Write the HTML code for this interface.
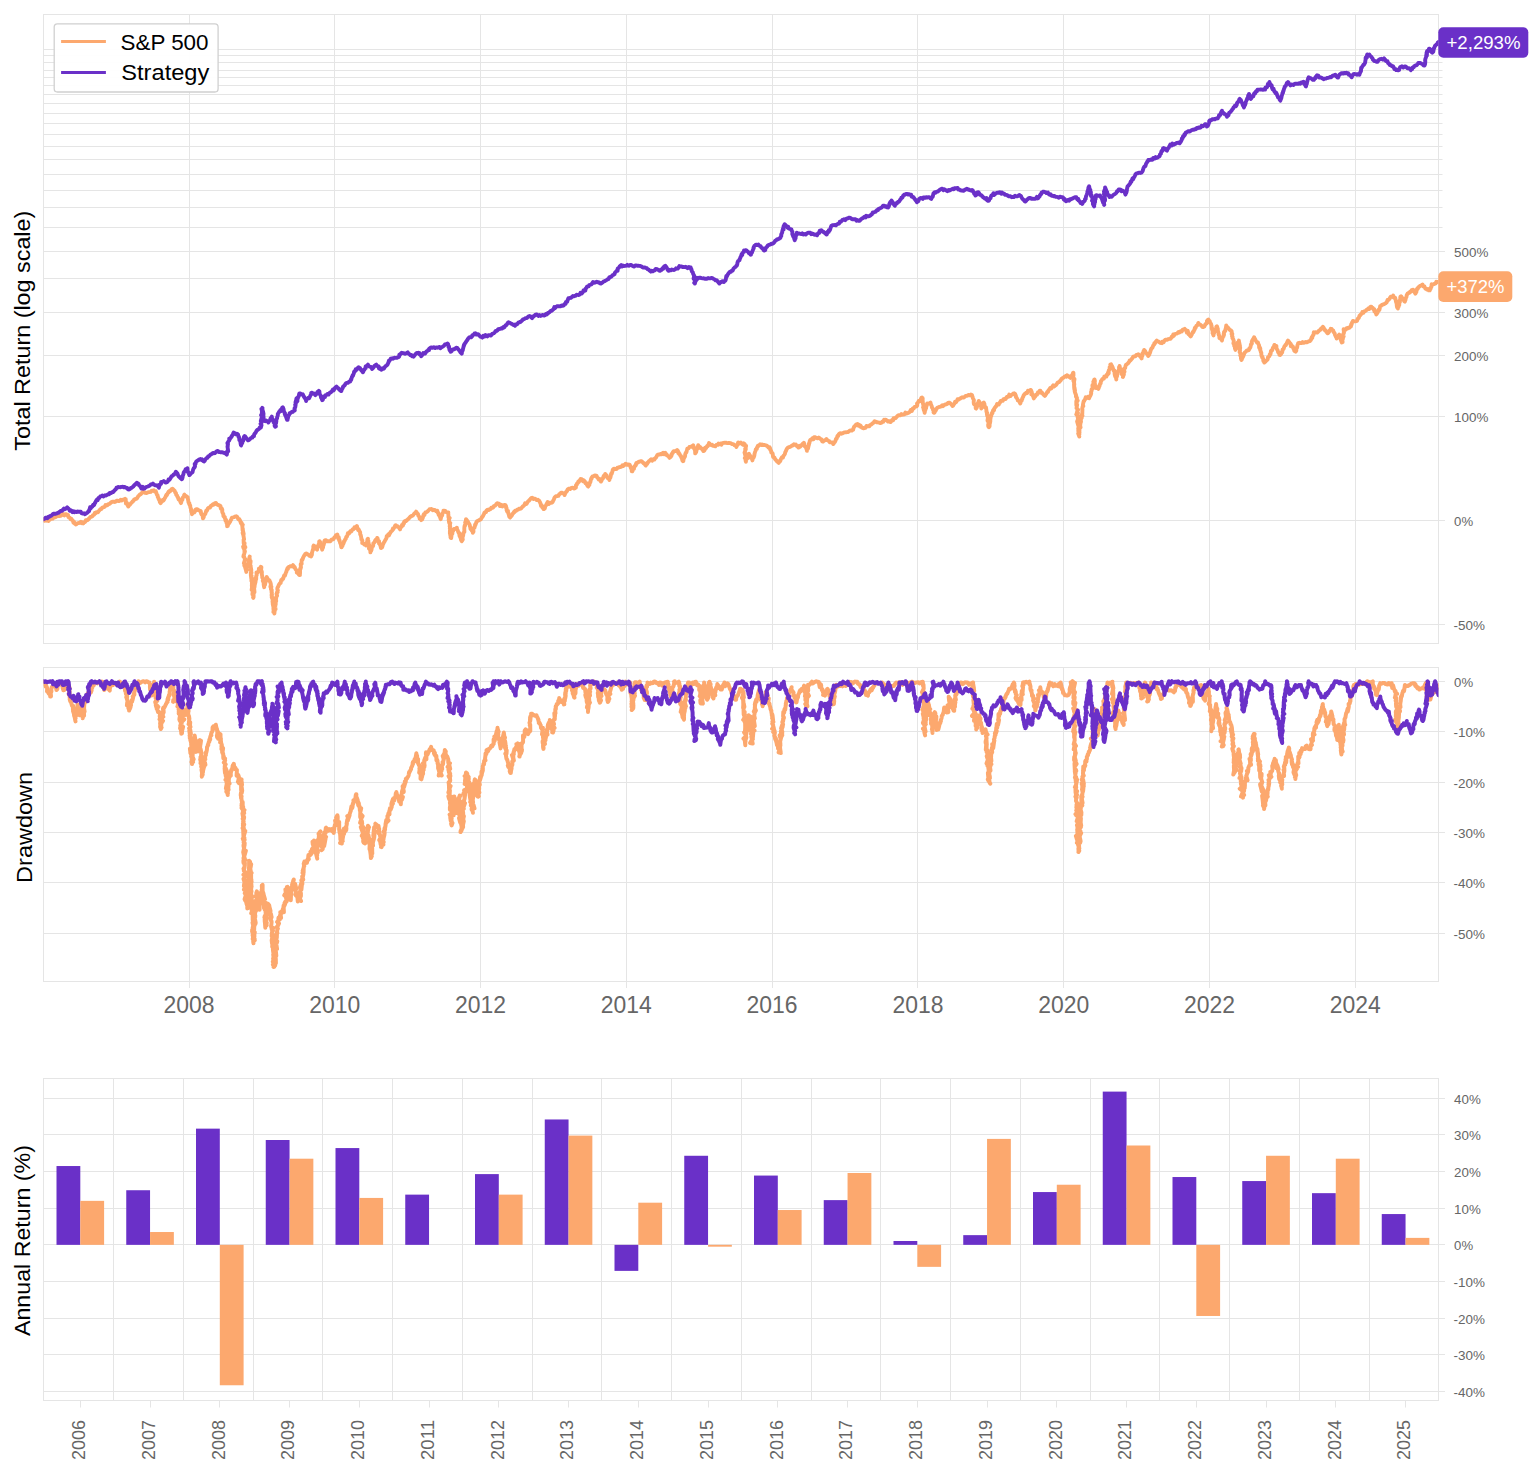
<!DOCTYPE html><html><head><meta charset="utf-8"><style>html,body{margin:0;padding:0;background:#fff;}svg{display:block;}text{font-family:"Liberation Sans", sans-serif;}</style></head><body>
<svg width="1536" height="1472" viewBox="0 0 1536 1472">
<rect width="1536" height="1472" fill="#fff"/>
<defs>
<clipPath id="ct"><rect x="43.5" y="14.5" width="1395.0" height="629.0"/></clipPath>
<clipPath id="cd"><rect x="43.5" y="667.5" width="1395.0" height="314.0"/></clipPath>
</defs>
<line x1="189.5" y1="14.5" x2="189.5" y2="650.0" stroke="#e5e5e5" stroke-width="1"/>
<line x1="334.5" y1="14.5" x2="334.5" y2="650.0" stroke="#e5e5e5" stroke-width="1"/>
<line x1="480.5" y1="14.5" x2="480.5" y2="650.0" stroke="#e5e5e5" stroke-width="1"/>
<line x1="626.5" y1="14.5" x2="626.5" y2="650.0" stroke="#e5e5e5" stroke-width="1"/>
<line x1="772.5" y1="14.5" x2="772.5" y2="650.0" stroke="#e5e5e5" stroke-width="1"/>
<line x1="917.5" y1="14.5" x2="917.5" y2="650.0" stroke="#e5e5e5" stroke-width="1"/>
<line x1="1063.5" y1="14.5" x2="1063.5" y2="650.0" stroke="#e5e5e5" stroke-width="1"/>
<line x1="1209.5" y1="14.5" x2="1209.5" y2="650.0" stroke="#e5e5e5" stroke-width="1"/>
<line x1="1355.5" y1="14.5" x2="1355.5" y2="650.0" stroke="#e5e5e5" stroke-width="1"/>
<line x1="43.5" y1="624.5" x2="1445.0" y2="624.5" stroke="#e5e5e5" stroke-width="1"/>
<line x1="43.5" y1="520.5" x2="1445.0" y2="520.5" stroke="#e5e5e5" stroke-width="1"/>
<line x1="43.5" y1="416.5" x2="1445.0" y2="416.5" stroke="#e5e5e5" stroke-width="1"/>
<line x1="43.5" y1="355.5" x2="1445.0" y2="355.5" stroke="#e5e5e5" stroke-width="1"/>
<line x1="43.5" y1="312.5" x2="1445.0" y2="312.5" stroke="#e5e5e5" stroke-width="1"/>
<line x1="43.5" y1="278.5" x2="1445.0" y2="278.5" stroke="#e5e5e5" stroke-width="1"/>
<line x1="43.5" y1="251.5" x2="1445.0" y2="251.5" stroke="#e5e5e5" stroke-width="1"/>
<line x1="43.5" y1="227.5" x2="1442.5" y2="227.5" stroke="#e5e5e5" stroke-width="1"/>
<line x1="43.5" y1="207.5" x2="1442.5" y2="207.5" stroke="#e5e5e5" stroke-width="1"/>
<line x1="43.5" y1="190.5" x2="1442.5" y2="190.5" stroke="#e5e5e5" stroke-width="1"/>
<line x1="43.5" y1="174.5" x2="1442.5" y2="174.5" stroke="#e5e5e5" stroke-width="1"/>
<line x1="43.5" y1="159.5" x2="1442.5" y2="159.5" stroke="#e5e5e5" stroke-width="1"/>
<line x1="43.5" y1="146.5" x2="1442.5" y2="146.5" stroke="#e5e5e5" stroke-width="1"/>
<line x1="43.5" y1="134.5" x2="1442.5" y2="134.5" stroke="#e5e5e5" stroke-width="1"/>
<line x1="43.5" y1="123.5" x2="1442.5" y2="123.5" stroke="#e5e5e5" stroke-width="1"/>
<line x1="43.5" y1="113.5" x2="1442.5" y2="113.5" stroke="#e5e5e5" stroke-width="1"/>
<line x1="43.5" y1="103.5" x2="1442.5" y2="103.5" stroke="#e5e5e5" stroke-width="1"/>
<line x1="43.5" y1="94.5" x2="1442.5" y2="94.5" stroke="#e5e5e5" stroke-width="1"/>
<line x1="43.5" y1="85.5" x2="1442.5" y2="85.5" stroke="#e5e5e5" stroke-width="1"/>
<line x1="43.5" y1="77.5" x2="1442.5" y2="77.5" stroke="#e5e5e5" stroke-width="1"/>
<line x1="43.5" y1="70.5" x2="1442.5" y2="70.5" stroke="#e5e5e5" stroke-width="1"/>
<line x1="43.5" y1="62.5" x2="1442.5" y2="62.5" stroke="#e5e5e5" stroke-width="1"/>
<line x1="43.5" y1="55.5" x2="1442.5" y2="55.5" stroke="#e5e5e5" stroke-width="1"/>
<line x1="43.5" y1="49.5" x2="1442.5" y2="49.5" stroke="#e5e5e5" stroke-width="1"/>
<rect x="43.5" y="14.5" width="1395.0" height="629.0" fill="none" stroke="#e5e5e5" stroke-width="1"/>
<text x="1454.1" y="256.7" font-size="12.5" fill="#666666" text-anchor="start" textLength="34.3" lengthAdjust="spacingAndGlyphs">500%</text>
<text x="1454.1" y="317.7" font-size="12.5" fill="#666666" text-anchor="start" textLength="34.3" lengthAdjust="spacingAndGlyphs">300%</text>
<text x="1454.1" y="360.9" font-size="12.5" fill="#666666" text-anchor="start" textLength="34.3" lengthAdjust="spacingAndGlyphs">200%</text>
<text x="1454.1" y="421.9" font-size="12.5" fill="#666666" text-anchor="start" textLength="34.3" lengthAdjust="spacingAndGlyphs">100%</text>
<text x="1454.1" y="526.1" font-size="12.5" fill="#666666" text-anchor="start" textLength="19.0" lengthAdjust="spacingAndGlyphs">0%</text>
<text x="1453.6" y="630.3" font-size="12.5" fill="#666666" text-anchor="start" textLength="31.4" lengthAdjust="spacingAndGlyphs">-50%</text>
<polyline points="43.4,519.3 44.3,520.7 45.5,520.1 46.2,520.7 47.3,520.4 48.5,521.0 49.2,519.9 50.1,519.6 51.1,518.8 51.3,518.4 52.7,518.7 53.6,517.6 54.6,517.0 55.5,517.2 56.5,516.4 57.7,515.9 58.4,515.8 59.4,516.1 60.4,515.9 61.4,515.5 62.3,513.6 63.3,514.9 64.2,515.4 65.0,514.3 66.3,514.2 66.7,515.1 68.1,515.0 68.4,517.0 68.9,517.6 69.9,517.8 70.6,519.3 71.3,518.8 72.0,519.7 73.0,520.8 73.4,522.6 74.0,521.8 74.7,523.5 75.7,524.4 76.8,523.9 77.6,523.2 78.6,523.1 79.7,522.7 80.8,521.8 81.5,523.1 82.5,522.3 83.3,523.5 84.0,522.4 85.1,521.9 85.8,520.2 86.7,520.4 87.3,520.2 88.3,519.4 89.2,518.4 89.9,517.7 90.6,516.9 91.9,516.6 92.4,516.2 92.9,515.3 94.1,514.7 94.7,513.1 95.3,513.6 96.0,512.5 97.1,512.2 98.0,512.3 98.6,511.3 99.5,510.3 100.2,509.4 101.4,508.9 102.0,507.9 102.8,507.4 103.8,507.1 104.8,506.7 105.5,505.1 106.7,505.4 107.6,505.1 108.2,504.1 109.3,504.1 110.2,503.3 111.3,502.3 112.4,501.7 113.3,501.6 114.6,502.0 115.5,501.6 116.6,500.8 117.7,500.7 118.7,501.1 119.8,500.6 120.7,499.8 121.9,500.5 122.9,499.7 123.9,499.5 124.9,498.9 125.5,500.5 125.7,499.1 125.9,503.5 126.8,502.8 127.3,503.6 127.2,503.9 127.7,505.4 128.3,506.5 129.1,505.1 129.7,505.0 130.5,503.8 131.0,503.1 131.9,502.5 132.6,501.4 133.5,500.8 134.2,499.5 135.3,499.0 136.3,498.8 136.7,498.7 137.6,497.2 138.4,495.9 139.0,495.6 139.9,494.5 140.6,494.4 141.0,493.8 141.9,492.9 143.0,491.8 144.1,492.4 145.3,492.9 146.5,493.1 147.6,492.5 148.7,492.1 149.5,492.1 150.7,491.9 151.8,490.6 153.0,490.9 153.8,490.4 154.7,491.6 155.8,491.3 156.3,492.9 156.9,494.7 157.4,495.1 157.6,495.2 157.7,496.7 158.3,497.8 158.8,499.5 158.6,498.5 159.4,500.3 159.5,500.7 159.9,502.1 160.6,503.1 161.4,501.9 161.9,501.5 162.7,500.0 163.3,500.6 164.0,499.8 164.8,498.0 165.5,497.1 165.9,495.9 166.5,494.7 166.8,495.3 167.4,493.9 168.5,491.8 168.7,492.4 169.1,491.2 169.9,490.8 170.4,491.1 171.5,489.2 172.5,488.7 173.3,489.4 173.6,490.0 174.6,490.6 175.3,492.6 175.9,492.9 176.2,494.8 176.9,495.4 177.1,495.6 177.6,497.1 178.0,497.4 178.6,499.5 179.1,499.1 179.6,500.2 179.8,500.3 180.7,502.5 181.0,503.1 181.4,501.6 181.2,500.9 181.9,500.1 182.4,499.9 182.5,498.4 182.8,497.5 183.9,496.6 184.2,494.8 184.4,494.6 185.2,496.0 186.1,496.5 186.5,496.3 187.7,497.2 187.6,497.4 188.3,500.8 188.2,500.1 188.5,502.4 189.3,503.2 189.1,503.2 189.2,504.1 190.2,505.6 190.2,506.8 190.3,506.7 190.4,507.5 191.3,509.7 191.0,510.2 191.3,509.9 191.2,511.5 191.8,512.1 192.0,514.2 192.8,513.1 193.4,512.3 194.3,512.4 195.1,511.2 195.3,510.0 196.2,509.1 197.0,509.1 198.3,510.1 199.6,510.6 200.5,510.8 200.8,511.2 201.1,513.5 201.4,514.2 201.7,514.0 202.2,514.3 202.7,516.2 202.7,516.7 203.0,518.4 203.5,517.7 203.8,516.8 204.1,515.0 204.7,514.4 205.3,513.9 205.7,512.5 206.2,510.8 206.5,511.2 207.3,509.9 207.7,508.7 208.1,508.2 209.4,507.4 210.0,507.6 210.8,506.0 211.6,505.6 212.4,504.7 213.3,504.0 213.8,504.6 214.9,503.1 216.0,503.0 216.9,504.5 218.0,504.9 219.2,505.4 220.0,505.7 220.5,506.2 220.6,507.7 220.9,508.8 221.8,508.5 222.3,509.7 222.2,512.0 222.2,511.7 222.7,513.2 223.4,514.2 223.4,516.1 223.5,516.2 224.8,516.9 224.6,517.8 225.3,518.8 225.5,520.7 226.0,519.8 226.7,522.7 226.6,523.2 227.1,523.7 227.1,526.2 227.7,526.0 227.9,525.1 228.6,523.8 228.9,523.5 229.8,522.1 230.2,521.6 230.4,520.6 231.1,519.7 231.6,518.5 231.9,517.6 233.1,517.4 234.1,517.2 234.9,516.7 236.2,516.3 237.0,516.7 237.6,517.8 238.0,518.7 238.6,519.3 239.2,519.1 240.1,520.5 240.3,521.4 241.0,523.2 241.6,522.8 242.1,524.4 242.8,524.7 242.1,525.4 242.3,524.9 242.6,530.3 242.8,528.7 242.9,530.3 243.7,534.0 243.7,534.2 242.6,532.9 243.5,535.5 243.5,535.9 243.8,537.6 243.8,537.9 244.1,539.4 243.6,539.6 243.7,543.3 244.3,545.4 244.6,543.1 243.9,543.2 244.0,544.5 245.3,547.2 243.5,548.0 243.1,546.7 244.7,550.4 244.4,550.7 244.5,552.1 244.4,553.3 244.9,551.5 243.4,556.5 243.7,554.9 244.2,557.1 245.1,559.7 244.2,557.5 244.8,558.3 244.8,558.8 245.2,559.0 243.9,563.2 244.6,563.4 244.9,563.9 244.3,565.7 245.7,566.7 245.1,567.3 245.8,569.6 246.1,569.9 245.9,569.9 246.3,571.9 246.3,570.0 246.5,569.6 247.1,570.0 246.8,568.4 247.4,566.6 247.8,565.9 247.7,564.2 248.7,564.4 248.3,564.3 248.6,561.1 249.3,561.0 248.9,559.5 249.1,559.4 249.6,557.0 249.7,556.6 249.4,557.4 249.7,558.3 249.7,559.4 249.9,561.4 250.6,561.0 250.6,561.6 250.2,564.4 249.8,565.0 250.1,566.1 250.7,565.8 250.7,566.9 251.2,569.3 251.3,570.3 250.8,570.0 251.5,572.7 250.9,573.4 250.8,572.7 250.9,576.3 251.6,575.7 251.1,577.5 251.6,580.4 251.9,579.4 252.0,579.7 251.4,580.9 252.0,581.0 251.9,583.2 251.9,583.6 252.6,586.1 252.3,585.9 251.8,585.0 252.0,587.4 251.6,590.0 252.8,590.8 252.4,593.9 253.3,592.8 252.4,594.4 252.4,593.9 253.2,595.4 253.3,598.0 253.1,597.4 253.6,597.2 253.6,594.7 253.5,595.3 253.7,592.6 254.0,592.6 253.9,589.9 254.5,592.2 254.2,589.3 254.1,588.2 254.5,587.1 254.7,585.4 254.4,585.7 254.5,584.1 255.2,583.5 255.3,582.1 255.6,582.0 255.4,579.4 255.1,578.3 256.1,579.4 256.2,578.7 256.2,576.1 256.7,575.1 256.5,572.5 256.5,573.6 257.2,572.4 257.5,572.6 258.3,571.8 259.0,569.3 258.9,568.7 259.6,569.0 260.2,567.8 260.8,566.8 261.4,567.0 261.1,570.1 261.3,571.1 261.4,571.1 261.5,570.8 261.9,572.1 261.8,574.1 262.2,576.0 262.2,577.5 262.3,576.7 262.6,578.2 263.3,579.1 262.8,580.7 263.1,581.4 263.3,581.8 263.7,583.2 263.7,585.0 263.8,584.5 263.9,586.0 264.2,587.2 264.4,585.3 265.0,583.9 265.1,584.6 265.2,582.5 265.4,583.0 265.7,580.3 266.2,578.5 265.9,579.3 266.7,578.5 266.7,577.0 267.4,578.2 267.9,579.5 268.4,580.3 268.9,580.0 269.6,580.7 270.1,582.1 270.4,582.5 270.9,584.4 270.4,586.7 270.6,586.0 271.4,586.6 270.9,589.3 270.9,587.9 271.7,590.2 271.8,590.1 271.6,590.9 271.5,592.2 271.9,592.1 271.6,595.3 272.0,594.4 271.7,597.3 272.3,598.7 272.2,598.3 272.8,598.1 272.6,602.2 272.5,601.2 272.7,603.1 272.8,604.6 273.6,606.2 273.1,605.9 273.5,604.8 273.4,608.8 273.6,610.4 274.2,609.4 273.4,611.9 273.8,611.9 274.4,613.5 274.5,612.3 274.7,611.0 274.6,611.3 274.6,608.3 275.6,609.2 275.3,607.3 275.1,605.7 275.2,606.3 275.6,604.5 275.7,604.4 275.7,602.3 276.2,600.9 275.5,602.3 275.9,600.3 276.2,597.7 276.3,596.9 277.1,595.7 276.5,593.9 276.9,593.5 277.0,592.1 277.7,592.3 277.2,591.8 277.9,590.3 277.3,589.1 277.5,587.6 277.8,587.2 278.1,586.8 278.8,585.0 279.4,583.9 279.9,583.3 280.7,582.9 280.7,582.7 281.2,580.0 282.0,580.1 282.4,578.9 283.1,578.9 283.6,577.2 284.2,575.4 284.5,575.3 285.0,575.5 285.7,573.2 286.0,572.2 286.4,571.9 286.5,571.0 287.5,568.2 287.9,569.0 288.3,567.5 288.8,566.8 289.7,566.6 290.8,566.1 292.0,566.5 293.0,565.1 293.8,566.1 294.3,567.3 294.8,567.3 295.3,569.0 295.8,569.4 296.4,570.2 297.0,571.5 296.8,572.6 297.4,572.8 298.2,573.6 299.3,575.1 300.0,575.1 299.7,573.5 300.1,573.2 300.0,569.2 300.0,572.0 300.2,568.4 300.4,569.3 301.0,567.3 300.8,566.1 300.7,564.1 300.8,564.8 301.7,563.8 301.5,563.1 301.7,560.2 301.8,559.9 302.5,559.6 303.0,558.2 303.2,557.4 304.4,555.3 304.8,555.2 305.2,553.9 306.2,553.4 307.5,554.3 308.6,554.8 309.4,555.9 310.2,556.0 311.2,556.5 311.5,555.3 311.9,554.8 312.0,552.6 311.9,552.8 312.1,552.4 312.7,550.2 312.7,550.5 313.1,549.5 313.4,546.9 313.3,546.5 313.7,545.5 314.6,546.3 315.0,547.4 315.5,548.4 316.6,549.2 317.1,549.7 317.2,547.9 317.7,547.0 318.0,546.1 318.4,544.8 318.8,544.8 319.2,543.0 319.2,541.3 319.6,541.2 320.2,542.3 320.4,543.1 321.0,545.5 320.7,546.6 321.3,546.7 321.6,548.0 321.9,548.6 322.2,549.7 322.6,547.8 322.6,547.9 323.0,547.8 323.4,545.2 323.7,544.8 324.0,543.5 324.4,542.6 324.2,541.7 324.7,540.4 326.0,540.1 326.8,541.2 328.2,541.2 329.3,541.2 330.6,541.2 331.3,539.9 332.1,539.3 332.9,539.1 333.5,539.2 334.4,537.3 335.0,537.1 335.9,535.3 336.7,535.4 337.4,534.5 337.4,535.9 338.0,537.1 338.3,538.7 338.7,537.1 339.1,539.5 339.2,540.5 339.6,540.3 339.9,542.1 340.3,543.3 340.5,543.0 340.9,544.7 341.3,547.2 341.6,547.2 341.6,546.6 342.4,546.1 342.7,544.8 343.5,543.5 343.8,542.6 344.0,541.3 344.6,541.0 344.9,540.0 345.6,538.8 345.8,538.9 346.3,536.8 346.8,536.8 347.1,536.0 347.6,534.5 347.9,533.3 349.0,533.5 349.8,532.0 350.6,531.0 351.4,531.4 352.2,529.9 352.6,529.4 353.7,529.1 354.5,527.2 355.1,528.0 356.0,527.2 356.9,526.0 357.3,527.8 357.6,528.0 358.2,530.1 358.6,529.3 359.3,530.9 360.1,532.1 360.2,532.8 360.2,534.5 360.7,534.9 361.0,536.4 361.3,537.8 361.3,539.2 362.0,539.7 361.7,539.4 362.4,540.5 362.2,543.1 362.8,542.9 363.4,543.4 364.5,544.6 365.5,544.9 366.2,545.5 366.8,544.6 366.6,543.0 367.0,542.1 367.2,541.8 367.4,539.5 367.9,538.7 367.5,539.2 368.4,540.9 368.3,542.0 368.8,543.6 369.0,544.1 369.1,544.9 368.9,546.4 369.2,546.7 368.9,548.4 369.8,549.4 370.1,550.0 370.3,550.1 370.4,552.3 370.7,550.8 371.1,551.0 371.5,549.8 371.8,547.9 372.2,546.2 373.0,546.1 373.2,545.5 373.3,543.4 373.8,542.9 374.5,542.3 375.1,540.7 375.5,540.1 376.2,539.3 376.8,539.2 377.2,537.9 377.6,538.3 377.9,541.0 378.4,540.9 379.1,541.3 379.0,543.4 379.9,543.7 379.9,544.6 380.4,545.8 380.5,545.5 380.9,548.0 381.4,548.0 381.7,547.1 382.1,547.3 382.7,545.4 383.0,544.2 383.7,543.0 383.8,542.6 384.5,541.6 385.0,540.6 385.5,539.7 386.0,539.1 386.5,537.9 386.7,536.1 387.8,535.4 388.2,534.5 389.0,535.4 389.7,533.5 390.2,533.1 390.6,532.0 391.6,531.1 392.3,530.4 392.9,528.5 392.9,529.6 394.2,527.6 394.5,527.2 395.1,525.7 395.8,525.2 396.5,526.4 397.5,526.1 398.6,527.3 399.2,528.0 400.0,529.4 400.3,528.3 400.8,527.2 401.5,526.8 402.0,525.0 402.9,525.5 403.4,523.2 404.1,523.2 404.1,521.9 405.1,520.9 405.9,521.1 406.6,520.3 407.9,519.4 408.3,519.0 409.6,517.6 410.3,516.7 410.8,516.4 411.9,515.9 412.9,515.5 413.6,514.5 414.1,513.8 415.6,512.5 416.1,511.6 416.9,512.8 417.3,513.4 417.9,513.8 418.3,515.5 418.9,516.3 419.6,517.4 419.6,518.8 420.8,519.3 421.2,520.1 421.7,518.5 422.1,519.5 422.8,517.8 423.3,515.5 423.8,514.3 424.5,514.9 424.8,513.6 425.4,512.5 426.5,512.2 427.3,511.7 428.0,511.0 429.1,509.8 429.5,509.1 430.5,509.1 431.5,509.0 432.7,510.3 433.8,509.8 435.2,510.2 436.1,511.2 437.3,510.8 437.8,512.7 438.3,512.9 438.5,513.7 438.5,514.6 438.9,514.7 439.4,515.9 440.1,517.0 440.4,518.3 440.7,519.2 440.8,518.5 441.1,517.2 441.9,515.4 442.2,515.5 442.2,515.1 442.4,513.5 443.4,512.1 443.4,510.8 444.0,510.8 445.4,511.0 446.1,512.0 447.2,512.3 448.3,512.5 448.2,513.0 448.4,514.9 448.4,516.3 448.5,517.4 449.1,518.8 449.7,517.8 448.7,519.9 449.1,519.3 448.9,521.7 449.1,521.5 449.1,522.5 449.6,523.7 450.3,523.0 449.7,526.2 450.2,526.3 449.8,528.5 450.2,528.8 449.9,531.2 449.9,533.4 450.4,534.0 450.3,532.4 450.3,535.4 450.6,535.9 450.5,537.3 450.8,537.9 451.2,538.0 451.4,536.7 451.5,534.8 452.4,533.6 452.2,532.8 452.8,531.2 453.5,530.3 453.3,529.4 454.5,528.9 455.9,528.6 456.7,527.7 456.9,527.7 457.0,529.2 457.8,530.5 458.3,532.1 458.7,532.9 459.5,533.2 459.3,534.5 459.6,536.3 460.1,535.9 460.5,538.0 460.9,538.8 460.9,539.6 461.1,540.0 461.8,541.2 461.9,540.9 462.8,539.4 462.4,537.6 462.1,536.6 462.7,537.0 463.2,535.2 463.3,534.1 463.2,534.2 463.6,532.6 464.4,532.0 464.3,529.5 464.3,529.3 464.3,528.5 464.5,526.3 465.1,525.6 464.7,525.6 465.4,524.0 465.3,522.2 465.2,522.4 465.5,522.0 465.9,521.0 466.0,519.2 466.6,519.8 467.0,521.5 467.7,521.3 468.4,522.9 468.6,523.0 469.4,524.3 469.8,525.2 469.9,526.4 470.3,526.8 470.5,529.0 471.2,528.5 471.6,528.9 471.7,530.4 472.7,531.6 472.8,532.8 473.4,531.8 473.5,531.5 473.3,529.5 474.2,527.5 474.5,527.7 474.8,526.1 475.4,525.0 475.1,524.7 476.1,523.3 476.2,522.6 476.9,521.4 477.8,520.7 478.7,520.6 479.5,519.9 480.7,519.4 481.3,518.4 481.9,517.1 482.4,516.9 483.1,515.8 483.4,514.9 484.2,513.8 484.3,513.0 485.1,512.2 486.0,512.1 486.4,510.8 487.5,509.8 488.5,510.0 489.4,509.1 490.5,509.2 491.2,507.8 492.1,507.9 493.1,507.4 493.9,506.1 495.2,505.7 495.8,504.9 496.5,503.8 497.4,503.2 498.2,503.7 499.0,503.6 499.9,506.1 501.1,504.8 501.6,506.2 502.4,506.5 503.2,505.3 504.1,505.3 505.0,504.9 505.5,505.2 506.0,506.0 506.1,507.8 506.6,507.9 506.6,510.0 507.3,511.7 508.0,510.8 507.9,512.1 508.3,512.8 508.7,514.5 509.1,515.7 509.2,516.5 510.1,517.6 510.7,516.4 511.3,516.2 512.0,515.1 512.7,513.7 513.1,513.5 514.1,511.8 514.5,512.2 515.1,510.8 516.3,510.8 517.2,509.7 518.1,509.6 518.9,508.8 520.0,508.7 521.0,508.6 521.9,507.4 522.5,506.7 523.6,505.9 524.3,505.2 525.1,503.2 526.4,503.9 527.0,503.2 527.8,501.7 528.6,500.8 529.1,500.5 529.7,499.9 530.7,498.6 531.2,498.1 532.2,497.7 533.6,499.0 534.5,498.6 536.0,499.2 536.8,500.1 538.0,499.8 538.5,500.3 539.1,500.5 539.8,502.1 540.2,502.7 540.6,503.7 541.0,505.8 541.8,505.6 542.3,507.5 542.9,507.2 543.5,509.1 543.9,509.1 544.8,508.5 545.1,506.8 545.6,505.9 545.9,505.7 546.3,504.6 546.8,503.6 547.6,502.0 548.8,504.0 549.8,502.7 550.8,502.9 551.8,502.6 552.7,501.9 553.2,500.5 553.5,500.4 554.1,498.9 554.4,497.7 555.2,496.8 556.1,496.2 557.1,496.1 558.3,495.9 559.4,494.0 560.1,493.8 561.0,492.6 562.0,492.6 562.6,493.1 563.9,493.7 564.5,495.1 565.1,493.8 565.6,492.7 566.2,491.8 567.0,491.1 567.3,490.1 567.9,489.2 569.1,488.6 570.1,489.1 571.3,487.9 572.7,487.7 573.8,488.5 574.7,488.3 575.4,487.3 575.9,487.5 576.0,485.2 576.9,484.6 577.0,483.4 577.9,482.9 578.4,481.4 578.8,481.9 579.5,480.7 580.1,479.9 580.6,479.0 581.7,479.1 582.8,481.2 583.7,480.2 584.9,481.6 585.4,483.3 585.7,483.2 586.5,483.2 587.0,485.0 587.6,485.9 588.2,486.6 588.5,484.4 589.4,485.0 589.4,482.9 589.8,483.1 590.4,482.0 590.4,481.7 590.9,479.6 591.3,478.3 591.6,478.7 591.9,477.2 592.5,476.5 593.7,476.2 594.9,475.4 595.9,475.6 596.6,475.9 597.1,477.4 597.8,477.9 598.7,479.5 599.6,479.0 600.5,480.5 600.9,481.6 601.6,480.5 601.9,479.0 602.7,478.6 603.0,478.4 603.4,476.7 604.1,475.4 605.0,475.4 605.2,473.9 605.6,474.6 606.5,475.1 607.1,477.2 607.6,478.1 608.2,477.9 608.7,478.3 609.4,479.9 609.3,478.4 610.2,477.8 610.4,477.6 610.6,476.5 610.9,475.5 611.1,473.6 611.7,473.8 612.1,472.4 612.6,470.8 612.8,469.7 613.8,468.8 614.5,468.8 615.7,469.1 616.7,468.8 617.5,467.7 618.5,467.5 619.6,467.2 620.4,467.0 621.5,466.7 622.4,465.4 623.2,466.0 624.7,464.7 625.5,463.8 626.8,464.5 627.3,464.9 628.5,464.5 629.7,464.6 630.0,465.5 630.6,467.2 630.6,467.5 631.2,468.7 631.7,469.2 631.7,471.2 632.3,471.4 632.5,471.2 632.9,469.2 634.0,468.8 634.0,466.9 634.6,466.1 634.8,466.3 635.9,465.2 636.0,463.7 636.5,462.9 637.2,462.8 638.6,461.8 639.6,461.9 640.5,461.1 641.6,461.2 642.2,461.7 643.5,463.2 644.2,463.3 645.2,464.9 645.8,465.5 646.2,464.2 647.1,464.0 647.8,462.3 648.6,462.0 648.9,461.1 650.0,460.4 651.1,459.2 652.2,460.6 653.3,459.2 654.3,459.6 655.2,458.2 655.8,458.0 656.5,456.6 657.3,455.1 657.8,454.7 658.5,454.5 659.8,454.6 660.5,454.0 661.8,454.2 663.2,452.7 664.1,454.3 665.3,452.8 666.1,454.2 666.8,454.7 667.0,455.5 668.0,455.8 668.8,456.6 669.5,457.9 670.2,456.9 670.6,457.1 671.6,455.4 671.6,454.0 672.8,453.0 672.8,452.4 673.7,451.1 674.8,451.2 676.0,450.9 677.1,450.0 678.0,451.1 678.3,453.1 678.6,452.4 679.2,454.1 679.4,453.6 680.5,456.0 681.0,455.9 681.2,457.3 681.9,457.9 682.1,459.3 682.4,460.5 683.0,461.2 683.4,461.1 683.4,458.9 684.0,458.4 684.1,457.2 684.7,457.2 685.1,456.0 685.2,454.3 685.8,452.6 686.3,452.3 686.4,452.4 686.8,450.6 686.9,450.6 687.3,448.6 688.5,448.3 689.4,447.0 690.3,446.8 691.2,446.8 692.5,446.0 693.2,445.2 693.6,446.6 693.9,447.2 694.1,448.8 694.4,448.8 694.8,449.8 695.1,450.9 695.2,453.3 695.7,452.8 696.2,452.0 696.4,450.9 696.7,449.2 696.8,449.5 697.5,448.3 697.7,447.2 698.2,445.2 698.3,445.2 699.2,447.2 699.2,447.8 700.4,447.3 701.1,448.6 701.8,448.4 702.6,449.4 703.3,451.1 704.3,450.7 704.8,449.7 705.1,447.6 706.1,448.0 706.5,446.9 707.4,445.8 707.9,446.1 709.0,443.1 709.3,443.5 710.2,444.3 711.4,445.2 712.2,444.8 713.3,445.9 714.3,446.0 715.3,446.3 716.2,445.0 717.7,444.9 718.5,443.6 719.4,444.3 720.4,443.5 721.4,444.7 722.4,443.2 724.0,442.8 725.2,442.9 726.2,442.6 727.1,443.1 728.3,443.0 728.9,442.9 730.3,443.1 731.3,443.5 731.8,444.1 733.1,444.1 734.0,444.7 734.3,445.1 735.9,445.7 736.4,446.9 736.9,445.3 737.5,445.0 738.1,442.5 738.9,442.6 739.6,443.4 740.8,442.5 741.7,443.5 742.8,444.6 743.8,443.4 744.8,444.3 744.8,445.6 746.1,445.9 745.2,449.9 745.4,448.2 745.2,450.9 745.8,449.1 744.5,452.6 745.8,453.9 745.1,454.9 745.0,454.5 746.1,455.3 744.8,458.0 746.2,458.8 745.9,461.7 745.4,458.8 745.7,461.2 745.9,459.9 746.5,458.6 746.8,458.5 747.3,458.5 748.2,457.0 748.6,455.4 749.0,454.9 749.0,453.6 749.3,455.1 749.7,455.2 750.4,456.2 750.6,457.7 751.4,457.4 752.1,459.0 752.4,460.4 752.6,459.2 752.7,458.7 753.6,457.6 753.5,457.0 754.1,456.5 754.5,454.7 754.4,454.3 754.9,452.4 755.3,451.4 755.5,450.8 755.8,449.4 756.8,449.0 756.9,447.9 757.9,445.8 758.6,445.9 759.3,445.2 760.1,444.3 761.1,445.1 762.0,444.4 763.0,445.1 764.1,444.9 765.1,445.2 765.7,445.3 766.6,445.6 767.6,446.3 768.4,447.6 769.6,447.3 770.2,448.6 770.1,449.4 770.7,450.3 771.2,451.1 771.3,452.5 772.3,453.3 772.6,453.3 772.9,455.4 773.1,457.0 773.6,457.0 774.4,457.6 775.0,459.0 775.7,459.7 776.4,460.6 777.1,461.4 777.6,461.8 778.7,462.9 779.2,461.7 779.8,460.8 780.3,461.0 780.9,459.1 781.7,457.6 782.1,457.9 782.3,457.7 782.9,457.6 783.6,455.5 784.3,455.0 784.9,453.8 785.2,452.4 786.0,450.8 786.2,450.4 786.5,449.6 787.1,448.6 788.0,447.5 788.9,447.2 790.1,446.8 790.9,446.3 792.2,445.5 792.9,445.4 793.9,444.3 795.0,444.8 795.8,444.5 796.5,445.7 797.7,446.7 798.5,447.5 799.4,445.9 800.0,446.8 801.4,445.6 802.0,444.5 802.7,443.7 803.5,443.3 803.9,442.8 804.8,446.3 804.9,445.7 805.2,446.8 806.0,447.5 806.4,448.7 806.8,449.7 806.9,450.9 806.9,449.7 807.6,448.4 808.0,448.5 808.5,446.2 808.5,446.1 809.0,444.5 808.8,443.8 809.5,442.9 809.6,441.7 809.7,441.1 810.3,439.9 811.2,439.8 812.4,438.2 813.6,439.1 814.2,437.2 815.4,437.3 816.5,438.0 817.5,438.3 818.7,437.5 819.5,438.1 820.5,439.0 821.4,439.4 822.3,441.4 823.0,441.6 823.9,440.6 824.7,440.3 825.4,440.1 826.4,439.0 827.1,440.0 828.2,440.7 829.1,441.1 829.8,442.3 830.4,442.4 831.7,442.4 832.6,442.5 833.2,444.1 833.6,443.7 834.1,442.4 834.7,442.1 835.3,441.2 836.0,438.9 836.5,438.9 836.8,438.3 837.5,435.9 838.1,436.0 838.7,434.4 839.1,433.9 840.3,433.1 841.4,433.7 842.2,433.4 843.6,432.7 844.7,432.4 845.9,432.3 847.0,432.1 847.8,432.1 848.9,431.3 850.0,430.4 850.9,430.6 851.8,430.6 852.5,429.9 853.2,429.6 853.4,428.4 854.1,426.7 854.7,426.2 855.7,425.0 856.0,424.6 857.4,424.1 857.9,425.4 858.9,424.8 859.9,426.4 860.6,425.6 861.7,427.6 862.7,427.9 863.5,428.3 864.5,428.0 865.5,427.9 866.5,426.0 867.4,426.2 868.1,426.1 869.3,426.3 869.9,425.2 871.2,424.6 872.1,423.8 872.7,423.2 873.5,422.8 874.6,421.2 875.9,421.8 876.7,422.2 877.7,422.3 879.2,422.7 880.3,423.0 881.4,422.9 882.5,421.4 883.3,421.7 884.1,419.8 884.6,420.0 885.6,419.6 886.7,420.4 888.0,421.6 888.8,421.0 889.7,421.9 890.7,422.1 891.4,420.9 892.1,420.0 893.2,420.3 893.5,418.2 894.6,418.4 895.6,418.2 895.9,417.5 896.4,417.2 897.6,415.8 898.3,415.3 899.3,415.4 900.4,415.3 901.4,414.1 902.5,414.7 903.5,414.5 904.6,414.3 905.4,412.5 906.3,413.6 907.3,413.2 908.5,412.8 909.1,412.3 909.9,411.8 910.7,410.0 911.9,411.0 912.7,408.5 913.7,408.4 914.4,407.2 915.3,406.9 915.9,406.5 917.0,406.1 917.3,405.0 917.0,403.6 918.0,402.5 918.7,401.0 919.4,401.3 920.1,400.8 920.9,398.9 921.3,397.9 922.0,397.6 922.5,398.2 922.7,398.2 922.6,400.8 922.7,400.6 922.9,403.5 923.2,404.0 923.2,404.7 923.7,405.9 923.1,407.3 923.7,406.7 923.6,409.1 923.8,409.9 924.7,412.1 924.8,412.0 924.6,412.8 924.6,411.4 925.2,410.6 925.5,409.4 925.6,407.9 926.1,408.2 926.3,406.1 926.5,406.1 926.9,404.7 927.1,403.5 928.3,403.6 929.4,403.4 930.5,402.6 930.8,404.1 930.9,404.4 931.7,406.0 931.9,407.4 932.3,408.0 932.6,408.1 933.0,409.9 933.8,410.4 933.5,412.3 933.9,412.8 934.5,412.6 934.9,411.4 935.6,410.8 936.2,409.4 936.9,408.4 937.3,407.7 938.4,407.2 939.0,406.9 940.2,406.8 941.1,406.4 942.3,405.3 943.0,406.1 944.0,405.2 944.8,404.7 945.9,404.3 947.3,403.8 948.0,402.9 949.1,402.6 949.9,403.0 950.9,403.9 951.8,404.8 952.5,406.0 953.1,405.6 953.8,404.3 954.7,403.2 955.0,401.8 955.5,402.5 956.2,401.9 957.2,400.3 957.6,399.2 958.6,399.5 959.3,399.1 960.3,398.6 961.2,397.8 962.3,397.3 963.4,397.5 964.3,397.3 965.4,396.1 966.0,395.9 967.2,395.8 968.3,394.9 969.6,395.3 970.8,394.5 972.0,395.0 972.2,395.7 972.5,396.9 973.0,398.4 973.1,398.5 973.9,400.1 973.7,401.5 973.7,402.2 973.9,404.1 974.5,404.3 974.9,404.5 975.6,405.7 975.7,408.3 976.2,408.6 976.9,406.6 976.8,407.7 977.1,406.1 977.4,404.6 978.1,402.6 978.2,403.2 978.5,402.1 978.7,400.9 979.6,402.1 979.2,402.3 979.4,404.1 980.0,405.3 980.2,404.4 981.1,406.1 981.1,407.1 981.3,408.6 981.8,407.3 982.4,406.0 982.3,406.0 983.1,405.3 983.2,403.1 983.8,402.6 984.2,403.6 984.5,404.2 984.4,406.2 985.3,407.7 985.6,407.1 986.0,407.5 986.5,411.0 986.4,411.3 986.8,412.9 987.2,412.8 986.9,413.3 987.0,414.6 987.3,416.0 987.8,416.2 987.8,419.4 987.8,418.4 987.5,420.6 987.7,421.1 988.8,421.6 988.8,423.0 988.2,424.5 988.2,426.3 988.9,425.2 988.9,427.2 989.4,426.0 989.6,426.3 989.6,424.0 989.9,423.4 990.3,421.4 990.3,420.6 990.4,418.9 990.6,418.0 990.6,415.6 991.3,415.9 991.4,414.5 991.4,414.5 992.1,412.7 992.4,413.4 992.8,411.6 993.1,410.3 994.1,410.2 993.9,409.2 994.8,407.7 995.6,406.7 996.3,406.2 997.1,404.0 998.0,404.3 998.8,404.5 999.4,402.9 999.8,402.8 1000.7,401.0 1001.6,400.9 1002.8,400.8 1003.4,399.1 1004.7,398.9 1005.6,399.0 1006.5,397.3 1007.4,396.6 1008.4,396.7 1009.2,394.6 1010.5,396.0 1011.0,395.0 1012.4,394.6 1013.1,393.7 1014.3,393.3 1015.1,393.8 1015.4,394.8 1015.9,395.7 1015.9,397.0 1016.7,397.8 1017.8,400.0 1017.8,400.5 1018.5,400.7 1019.3,401.4 1019.6,402.2 1020.2,403.5 1020.5,403.0 1020.6,401.4 1021.6,400.7 1021.9,399.5 1022.3,399.0 1022.4,398.1 1023.3,396.5 1023.5,395.6 1024.2,394.8 1024.4,394.2 1025.6,393.5 1026.1,392.7 1027.1,393.0 1027.9,390.8 1028.4,391.0 1029.8,390.5 1030.4,389.9 1030.8,389.9 1031.7,391.8 1031.3,394.4 1032.0,393.4 1032.4,393.7 1032.6,395.5 1033.5,396.8 1033.4,397.2 1033.8,398.4 1034.3,396.7 1035.0,396.9 1035.6,395.8 1036.2,394.6 1037.1,394.5 1037.8,392.6 1038.3,392.9 1039.3,391.5 1039.7,390.8 1040.5,390.8 1040.9,392.7 1041.9,392.5 1042.4,393.4 1043.1,394.1 1043.9,395.1 1044.8,395.9 1045.1,395.6 1045.5,395.0 1046.2,393.8 1046.6,393.4 1047.2,391.9 1048.0,392.0 1048.5,390.2 1049.0,389.8 1049.3,389.6 1050.2,388.0 1051.4,388.4 1052.0,387.2 1053.2,385.4 1054.1,386.4 1055.0,385.7 1056.0,384.9 1056.9,383.8 1057.4,382.9 1058.5,382.1 1059.2,382.0 1060.0,381.0 1060.6,380.4 1061.3,379.2 1062.0,378.7 1062.7,378.1 1063.5,377.7 1064.3,376.9 1065.6,376.0 1066.3,376.8 1067.1,375.3 1067.5,375.8 1068.9,376.4 1069.5,377.2 1070.5,377.9 1070.9,377.2 1071.4,376.0 1072.3,374.6 1072.6,374.6 1073.0,372.8 1073.4,372.7 1073.5,375.2 1072.9,377.2 1073.5,377.3 1073.6,378.5 1074.0,378.7 1074.5,379.0 1074.0,382.2 1073.4,380.7 1074.0,381.6 1074.3,384.7 1074.1,385.4 1074.0,383.8 1074.2,387.9 1074.4,389.5 1075.0,390.7 1074.4,387.2 1074.7,391.4 1075.3,393.3 1075.4,393.4 1076.0,395.0 1075.9,396.3 1076.4,396.5 1076.0,396.7 1077.0,398.0 1076.7,400.2 1077.7,400.6 1076.5,402.4 1076.7,403.2 1076.7,403.1 1076.3,401.0 1076.3,405.3 1076.3,405.1 1077.2,404.7 1076.5,408.2 1078.1,409.7 1077.3,411.0 1077.6,409.6 1076.7,413.4 1078.0,412.9 1076.3,414.4 1077.7,415.7 1077.6,416.8 1078.0,418.6 1077.9,421.6 1078.0,420.1 1078.0,419.2 1077.1,421.5 1078.3,425.7 1078.4,424.7 1078.6,424.6 1078.7,427.7 1078.8,426.0 1078.2,428.6 1078.7,429.0 1078.7,429.3 1078.3,429.9 1078.3,430.9 1079.3,436.5 1078.2,433.6 1078.9,434.6 1079.4,434.3 1079.1,431.1 1079.5,432.6 1079.4,431.9 1079.5,429.0 1079.5,427.4 1080.6,427.3 1080.2,426.1 1080.4,423.3 1080.2,423.9 1081.0,421.6 1080.6,422.9 1080.9,420.3 1080.5,419.1 1081.7,418.0 1081.3,416.5 1081.5,416.8 1081.1,415.6 1082.5,415.8 1081.9,414.3 1082.3,413.7 1082.4,409.1 1082.4,410.7 1082.4,410.3 1082.2,408.8 1082.6,406.7 1083.3,406.1 1082.9,406.5 1082.9,405.1 1083.2,403.3 1083.6,401.4 1084.1,401.2 1084.4,400.3 1085.1,399.4 1085.3,398.5 1085.7,397.3 1086.6,398.2 1087.9,396.8 1089.1,398.2 1089.4,397.5 1090.5,395.3 1090.8,394.8 1091.2,393.4 1091.2,392.8 1091.0,392.1 1091.5,391.1 1091.6,389.4 1092.4,388.6 1092.7,388.7 1092.5,386.6 1092.4,385.3 1093.3,386.6 1093.2,384.5 1093.5,382.6 1093.3,381.7 1094.0,380.6 1094.2,379.6 1094.6,379.5 1094.9,381.2 1094.6,382.5 1094.9,383.4 1094.9,385.1 1095.3,386.5 1095.8,386.3 1095.9,388.0 1097.2,387.7 1098.4,388.9 1098.8,387.9 1098.9,386.7 1099.5,386.3 1099.7,384.6 1099.9,384.6 1100.2,383.6 1100.7,383.4 1100.9,381.2 1101.7,380.4 1102.2,379.1 1103.4,378.4 1103.9,378.6 1104.3,376.4 1105.8,376.5 1106.4,376.6 1106.9,374.4 1107.7,374.5 1108.0,372.5 1108.7,373.4 1108.7,370.5 1108.8,370.5 1109.1,370.1 1109.8,368.4 1109.6,367.2 1110.6,366.1 1110.3,364.6 1111.1,364.3 1111.5,365.1 1111.9,365.6 1112.6,367.4 1112.7,367.6 1113.1,368.9 1113.5,370.5 1114.4,370.4 1114.5,371.9 1114.4,371.3 1114.7,374.5 1115.2,376.4 1115.7,377.3 1115.9,376.7 1116.2,378.7 1116.3,379.6 1116.3,376.5 1117.0,376.5 1117.3,374.3 1117.4,374.0 1117.1,373.9 1118.0,371.8 1118.3,370.6 1118.4,370.7 1119.1,369.3 1119.0,367.1 1119.9,367.4 1119.6,366.0 1119.5,368.0 1119.7,368.7 1120.9,369.1 1120.9,369.7 1120.8,370.8 1121.7,372.0 1121.9,372.3 1121.6,374.1 1122.5,374.9 1123.2,376.2 1122.9,377.0 1123.2,376.5 1123.6,374.4 1123.9,374.8 1123.7,372.7 1124.5,371.7 1124.3,371.4 1124.1,369.8 1124.0,368.9 1125.2,368.0 1125.2,367.8 1125.5,366.0 1126.0,364.9 1126.9,364.2 1127.7,363.7 1128.4,362.8 1129.3,361.6 1129.7,360.4 1130.4,360.4 1131.4,359.2 1132.1,358.6 1133.2,356.7 1134.1,356.5 1134.7,356.3 1135.6,356.2 1136.3,354.9 1137.3,354.9 1138.2,354.2 1138.7,354.7 1139.5,355.8 1140.2,356.1 1141.0,357.5 1141.6,358.4 1141.6,357.3 1142.4,355.7 1142.3,354.6 1142.4,353.5 1143.1,353.5 1143.5,351.2 1143.9,351.4 1144.1,349.9 1144.9,351.0 1145.4,351.5 1145.6,352.2 1146.6,353.4 1147.4,353.8 1147.9,355.6 1148.3,355.9 1148.7,355.3 1149.5,354.1 1149.5,353.2 1150.1,352.6 1150.5,350.9 1150.8,350.2 1151.2,348.9 1151.7,348.2 1152.4,347.8 1153.0,346.1 1153.3,345.3 1154.1,344.7 1154.3,343.2 1155.0,343.4 1155.5,342.1 1156.2,341.3 1156.8,340.6 1157.6,341.2 1158.5,341.6 1160.1,342.8 1160.8,343.0 1161.9,343.2 1162.4,341.7 1163.6,342.2 1164.6,340.4 1165.3,339.8 1166.4,339.8 1167.2,339.7 1168.4,339.1 1169.4,338.9 1170.3,338.9 1171.2,337.9 1171.7,336.8 1172.5,336.7 1173.3,334.4 1173.8,335.8 1174.5,334.4 1175.4,333.9 1176.5,333.7 1177.4,333.3 1178.5,331.9 1179.5,332.4 1180.5,331.3 1181.7,331.5 1182.6,329.8 1183.7,329.4 1184.7,328.8 1185.5,329.9 1186.2,330.1 1186.8,332.5 1187.7,330.8 1188.3,333.3 1188.5,334.2 1189.2,334.7 1189.9,335.5 1190.7,336.4 1190.9,336.1 1191.9,334.3 1192.2,333.3 1192.8,332.0 1193.4,332.2 1194.0,330.5 1194.4,330.0 1194.9,327.7 1195.4,328.2 1196.3,325.9 1196.6,325.7 1197.4,325.3 1198.1,323.8 1198.3,322.9 1199.1,324.3 1200.0,324.4 1200.9,325.2 1201.8,326.1 1202.3,326.8 1203.3,327.1 1204.3,326.6 1204.4,325.9 1205.0,325.3 1205.6,323.8 1206.6,323.6 1207.1,322.4 1206.9,321.0 1207.7,320.1 1208.4,319.5 1209.0,320.6 1209.8,321.3 1210.1,322.7 1211.0,323.7 1211.3,324.9 1211.6,326.0 1211.6,326.6 1211.7,328.6 1212.4,328.6 1212.2,330.0 1212.5,331.1 1212.4,330.2 1212.8,332.3 1212.5,333.0 1213.1,334.3 1213.5,335.5 1213.7,333.8 1214.1,333.1 1214.6,331.8 1214.9,331.4 1214.9,330.0 1215.8,328.9 1216.3,328.3 1216.3,326.7 1216.9,326.2 1217.4,327.6 1217.5,328.3 1217.8,328.5 1217.8,329.7 1218.0,331.6 1217.9,331.3 1218.6,333.2 1218.5,334.0 1218.6,334.4 1219.3,335.9 1219.4,337.7 1219.4,338.1 1220.4,338.7 1221.3,338.8 1222.0,340.6 1222.0,340.0 1222.2,339.0 1222.8,337.1 1223.3,336.4 1223.6,336.2 1223.7,333.5 1224.0,334.9 1224.0,332.0 1224.9,331.2 1225.3,330.9 1225.3,329.7 1226.0,327.9 1225.9,327.5 1226.2,327.7 1226.2,325.4 1226.8,327.0 1227.7,327.4 1228.5,328.3 1229.0,328.9 1229.9,330.0 1230.6,330.1 1231.3,331.3 1231.6,331.1 1231.8,332.6 1231.6,334.1 1232.3,333.9 1232.0,336.2 1232.6,336.8 1232.4,338.1 1232.8,338.4 1233.2,339.1 1233.8,341.1 1233.4,343.4 1233.9,343.0 1234.2,343.8 1234.2,345.9 1234.3,346.0 1235.1,347.6 1234.9,348.2 1235.2,349.0 1235.5,349.9 1236.1,348.8 1236.3,348.4 1236.6,346.1 1236.8,346.7 1237.9,344.8 1237.6,342.7 1238.3,343.2 1238.7,341.3 1238.9,340.6 1239.0,341.9 1239.3,342.5 1238.9,343.7 1239.4,343.5 1240.0,346.1 1239.3,345.5 1240.2,348.0 1240.0,348.5 1239.9,350.0 1240.0,350.8 1239.6,352.1 1240.6,353.5 1240.4,353.9 1241.1,355.0 1240.3,355.4 1240.9,356.6 1241.2,357.8 1240.9,358.2 1241.4,360.1 1241.9,359.2 1242.0,357.7 1242.7,357.3 1242.9,357.0 1243.6,355.4 1243.9,354.5 1244.5,352.9 1244.8,352.5 1245.8,351.6 1246.9,350.5 1248.0,350.4 1249.0,349.9 1249.3,348.5 1249.8,348.4 1250.4,347.3 1250.7,345.9 1250.9,344.6 1251.3,344.4 1251.9,343.6 1251.7,342.1 1252.1,340.7 1253.0,339.2 1253.5,338.6 1253.7,338.2 1254.1,337.2 1254.5,338.0 1255.1,339.2 1256.0,341.0 1256.6,341.9 1257.0,342.6 1257.9,342.4 1258.4,344.0 1259.1,345.4 1259.1,347.3 1259.4,348.3 1259.7,347.2 1260.3,348.6 1260.2,350.2 1260.5,350.5 1260.8,351.9 1261.3,352.6 1261.3,353.8 1261.5,355.7 1262.5,357.0 1262.2,357.5 1262.5,357.7 1263.2,358.8 1263.3,360.8 1263.8,360.9 1263.8,361.3 1264.3,362.6 1265.2,361.8 1266.1,360.9 1267.0,360.1 1267.7,359.2 1267.9,357.5 1268.5,356.9 1269.1,356.5 1269.5,355.8 1269.8,354.1 1270.5,354.2 1270.8,352.4 1270.9,350.8 1271.9,350.2 1272.1,350.5 1272.5,349.1 1272.9,347.9 1273.7,347.0 1274.1,345.8 1274.4,344.9 1275.0,346.0 1275.4,346.7 1276.4,346.1 1276.4,347.9 1277.1,349.6 1277.7,350.3 1278.0,351.9 1278.5,352.7 1279.4,353.7 1279.4,354.9 1280.4,355.0 1280.8,354.2 1281.2,353.8 1281.7,352.2 1282.2,352.3 1282.6,349.5 1283.3,349.2 1283.8,348.6 1283.9,347.8 1284.4,346.4 1285.2,345.4 1285.6,344.7 1285.9,345.0 1286.7,343.3 1286.9,342.7 1287.6,341.2 1288.0,340.6 1288.6,341.2 1289.2,342.2 1289.5,342.7 1290.7,343.9 1290.8,346.1 1291.8,345.6 1292.0,346.5 1292.9,346.5 1293.2,348.1 1294.0,349.6 1294.3,350.8 1295.0,351.2 1295.6,351.6 1296.3,350.8 1296.4,348.1 1296.4,348.2 1296.9,347.5 1297.1,347.7 1297.5,345.0 1297.9,344.2 1298.2,343.1 1299.3,342.8 1300.2,343.1 1301.3,343.1 1302.6,342.1 1303.6,342.8 1304.7,342.4 1305.7,342.0 1306.5,342.4 1308.0,341.7 1308.8,341.3 1309.9,341.1 1310.4,340.1 1310.9,340.0 1311.6,337.6 1312.2,338.1 1312.6,335.7 1312.8,335.8 1313.6,334.7 1313.8,332.1 1314.5,332.7 1315.5,332.1 1316.1,332.3 1317.2,332.6 1318.4,331.4 1319.3,330.4 1320.2,329.9 1320.5,329.4 1321.4,328.2 1322.2,328.2 1322.9,326.8 1323.7,327.7 1324.6,329.7 1324.5,330.0 1325.6,330.4 1326.5,332.2 1326.8,332.0 1327.5,333.3 1327.9,333.4 1329.1,331.8 1329.5,330.7 1330.3,329.9 1330.7,328.8 1331.6,329.0 1332.4,330.1 1333.3,330.7 1333.4,331.8 1334.2,332.6 1334.7,333.5 1335.0,334.8 1335.4,335.6 1335.8,336.7 1336.4,337.2 1336.6,338.5 1337.2,337.8 1338.4,336.7 1338.5,335.5 1339.2,334.6 1339.4,335.6 1340.0,335.7 1340.6,337.3 1340.5,338.9 1340.3,338.5 1340.9,339.9 1341.3,341.2 1341.8,342.4 1342.3,340.7 1342.6,342.2 1342.4,338.8 1343.0,338.8 1342.6,337.6 1343.2,335.9 1343.7,336.4 1343.5,335.6 1343.2,334.1 1343.9,332.9 1344.0,332.8 1343.6,329.3 1344.4,329.4 1345.6,329.7 1346.6,328.2 1347.3,328.5 1348.2,327.6 1349.3,327.7 1350.3,326.8 1351.0,326.5 1351.1,324.5 1351.7,324.4 1351.7,323.4 1352.3,322.3 1352.9,321.0 1354.0,321.2 1355.5,321.4 1356.8,321.0 1357.1,320.7 1357.8,318.7 1358.6,318.2 1358.8,317.8 1359.4,316.0 1360.4,315.0 1360.7,314.5 1361.6,313.9 1362.3,312.1 1363.3,312.8 1364.1,311.4 1364.8,311.3 1365.9,310.5 1366.7,309.8 1367.7,309.1 1368.5,308.2 1369.4,308.9 1370.3,306.8 1371.1,306.6 1372.0,307.3 1373.0,308.0 1373.3,309.2 1374.3,309.2 1374.4,311.3 1375.1,310.8 1375.8,313.1 1376.1,312.7 1376.3,314.5 1376.9,313.6 1377.2,313.2 1377.8,312.1 1378.0,311.5 1378.6,309.6 1379.1,309.5 1379.4,309.9 1380.1,306.8 1380.2,306.0 1381.5,305.6 1381.9,304.8 1383.1,304.5 1384.2,304.1 1385.4,303.4 1386.1,302.8 1386.8,302.2 1387.5,300.0 1387.6,300.6 1388.7,299.5 1389.5,298.9 1390.1,297.7 1390.7,296.8 1391.5,296.7 1392.5,297.0 1393.2,295.6 1393.9,297.7 1394.4,297.5 1395.1,297.6 1395.6,299.4 1395.8,300.8 1396.1,302.1 1396.3,302.5 1396.7,304.1 1396.8,305.9 1397.1,307.2 1397.3,306.6 1397.4,307.1 1397.8,308.6 1397.7,305.9 1398.5,306.9 1398.5,304.4 1399.3,305.0 1399.2,303.4 1399.4,303.0 1399.9,301.9 1399.7,300.4 1400.5,299.1 1400.2,298.0 1400.4,296.7 1401.0,296.2 1402.0,297.7 1401.9,298.1 1402.7,299.3 1403.0,299.1 1404.1,300.8 1404.3,301.4 1404.8,301.7 1405.6,299.5 1405.5,298.2 1406.1,297.7 1406.4,297.1 1406.7,295.3 1407.4,294.1 1407.6,293.6 1408.1,293.2 1409.3,292.8 1410.3,291.5 1411.0,291.7 1411.8,290.1 1412.8,289.7 1413.7,290.0 1413.8,291.2 1414.7,292.5 1415.4,293.6 1415.8,293.0 1416.4,291.8 1416.5,290.1 1417.1,288.8 1417.6,289.1 1418.0,287.8 1419.1,286.8 1419.8,286.1 1420.6,285.7 1421.5,285.3 1422.5,284.5 1423.2,286.2 1424.1,286.7 1424.4,286.4 1425.3,288.5 1425.8,288.4 1426.8,289.6 1427.9,289.0 1428.8,290.4 1429.7,290.4 1430.2,289.2 1430.6,288.8 1431.0,287.3 1431.5,286.7 1431.6,284.3 1432.3,284.5 1433.5,284.3 1434.4,283.9 1435.6,283.5 1436.3,281.7 1437.3,282.2 1438.4,281.9" fill="none" stroke="#FCA86E" stroke-width="3.9" stroke-linejoin="round" stroke-linecap="round" clip-path="url(#ct)"/>
<polyline points="43.4,519.3 44.6,518.8 45.5,517.8 46.3,517.7 47.3,518.2 48.4,516.8 49.2,516.9 50.2,515.9 51.0,515.8 52.1,515.0 52.9,514.1 54.0,513.6 55.0,514.0 55.8,513.7 57.0,513.3 58.0,512.8 58.9,512.7 59.7,511.6 60.7,511.0 62.1,510.8 63.1,509.5 63.9,508.6 64.6,509.2 65.6,508.7 66.3,508.4 67.2,507.4 67.7,507.9 68.4,508.5 69.3,509.5 69.7,510.8 70.5,510.0 71.4,510.6 72.3,512.1 73.6,511.2 74.4,512.2 75.7,511.6 76.6,512.1 77.6,511.5 78.5,511.9 79.8,511.6 80.8,511.6 81.4,513.1 83.0,513.6 84.0,513.3 85.0,514.2 86.1,513.4 86.7,513.1 87.6,512.5 88.2,511.5 88.7,510.7 89.1,511.0 90.1,507.2 90.8,508.1 91.3,507.3 92.2,506.7 92.6,505.7 93.2,504.7 94.0,505.1 95.0,502.8 95.1,503.0 95.9,501.2 96.3,500.6 97.0,499.5 97.7,500.0 98.5,497.9 99.2,497.9 99.6,497.7 100.3,496.3 101.3,496.1 102.4,495.5 103.3,496.5 104.2,495.7 105.1,495.3 106.2,495.5 107.1,494.8 107.9,494.3 109.2,494.2 109.7,493.0 111.3,493.1 112.0,492.2 113.0,492.1 113.9,491.1 114.7,490.2 115.4,489.7 115.9,489.2 116.5,487.7 117.5,487.6 118.1,487.0 119.1,487.1 120.5,487.2 121.4,486.9 122.8,486.8 123.6,487.2 124.9,487.0 125.9,487.8 127.2,487.9 128.0,489.3 129.2,489.5 130.1,488.9 130.8,487.9 131.4,488.0 132.6,487.0 133.4,486.4 133.7,485.8 134.5,485.0 135.5,484.4 136.0,483.6 136.8,482.7 137.8,483.3 138.6,484.0 139.3,485.6 140.2,486.1 141.1,488.0 141.5,488.5 142.9,486.9 143.6,488.7 144.6,488.5 145.3,487.6 146.5,486.9 147.8,486.5 148.7,486.1 149.8,485.5 150.7,484.5 151.8,484.3 152.9,483.6 153.8,484.5 154.8,485.2 155.9,485.1 157.0,485.7 158.0,485.3 158.6,486.8 158.9,487.8 159.1,486.5 160.0,484.7 160.0,484.5 161.0,483.9 161.1,481.9 161.4,481.9 162.7,481.7 163.7,481.1 165.2,482.3 166.0,482.6 167.4,481.9 168.0,481.1 168.5,479.5 169.5,479.7 170.3,478.4 170.8,477.6 171.6,476.3 172.2,476.0 173.0,475.4 173.7,474.4 174.3,474.4 175.2,473.1 175.9,471.7 176.6,472.6 177.4,473.4 177.7,474.4 178.4,476.0 179.4,477.0 180.3,478.1 180.8,478.4 181.8,479.3 182.2,478.7 182.7,476.8 182.5,476.6 182.8,475.8 183.5,474.0 183.7,472.6 184.2,471.8 184.4,471.7 185.0,470.5 185.6,469.2 186.3,469.7 186.9,468.3 187.5,468.2 187.5,470.8 187.8,472.1 188.6,472.1 189.0,474.0 188.7,473.5 189.4,475.1 190.0,474.5 190.9,473.3 192.0,472.6 192.5,472.2 192.8,470.9 193.1,469.6 193.6,468.8 193.8,467.8 194.4,467.7 195.0,466.4 194.7,464.0 195.4,464.3 195.8,462.6 196.2,461.5 197.1,460.9 198.3,460.2 199.0,459.6 200.5,459.0 201.4,460.0 202.1,459.4 203.1,460.9 203.9,461.5 204.8,460.7 205.1,459.8 206.1,458.6 206.9,457.8 207.5,457.8 208.1,456.4 209.0,456.3 209.9,455.3 210.7,454.4 211.7,453.9 212.9,452.9 213.7,453.2 214.9,453.1 215.6,452.4 216.6,451.3 217.8,450.9 218.9,452.0 220.1,452.2 221.1,452.2 221.7,452.1 223.4,452.6 224.3,453.0 225.3,452.8 225.9,453.8 226.8,454.7 227.0,453.7 227.1,451.7 227.5,452.0 227.8,449.8 228.2,451.3 227.6,447.2 227.8,445.7 227.5,446.9 228.0,443.8 227.9,444.9 227.4,443.0 228.4,441.5 228.5,441.1 229.4,440.3 229.2,438.6 230.1,438.6 230.9,437.5 231.6,436.7 231.6,436.2 232.9,434.5 233.2,433.4 233.6,432.6 234.6,433.0 235.9,434.2 236.9,433.8 237.8,434.3 238.0,434.5 238.5,436.9 238.9,436.7 239.4,438.6 239.3,440.0 239.7,440.1 240.3,441.2 240.6,443.4 240.6,443.6 240.9,445.0 241.2,445.4 241.3,444.5 242.3,443.0 242.1,441.6 243.1,441.1 243.1,441.1 243.5,438.9 243.9,437.5 243.9,436.9 244.6,436.0 245.3,436.6 245.8,437.3 247.0,439.1 247.3,439.3 248.0,440.3 249.1,439.9 250.4,438.6 251.1,437.9 252.3,437.7 252.6,436.5 253.5,435.9 254.0,436.0 254.2,434.4 254.8,433.5 255.7,432.6 256.0,431.9 256.5,430.9 257.4,429.9 258.1,429.6 259.2,428.7 259.8,427.4 260.8,427.6 261.5,425.2 261.2,426.2 261.2,424.9 260.5,423.8 261.5,422.7 261.6,419.8 260.8,421.1 261.4,418.8 261.7,417.7 261.6,415.8 262.0,416.5 261.7,415.3 261.1,415.0 261.9,414.2 261.9,410.7 261.4,409.0 262.0,409.7 262.0,409.9 262.5,408.0 262.3,407.9 262.8,411.7 262.6,410.7 263.0,411.3 263.5,413.7 263.4,415.4 263.2,414.9 263.3,414.4 263.6,418.0 263.5,419.0 264.1,420.5 264.2,420.8 265.3,421.2 266.2,420.5 267.7,421.6 268.4,422.5 268.9,421.4 269.3,420.9 270.0,420.3 270.5,418.5 270.8,418.0 271.8,416.5 272.0,418.0 272.2,418.6 272.9,419.7 273.2,421.0 273.7,422.0 273.6,422.4 274.3,422.8 274.8,424.4 274.6,425.7 275.2,426.7 275.9,426.3 275.4,424.4 276.1,422.9 275.9,422.0 276.3,421.9 276.3,420.4 276.7,418.8 277.1,418.3 277.2,416.8 277.4,416.4 277.8,415.5 277.8,414.0 278.4,413.2 279.1,411.8 279.6,411.4 280.4,410.1 281.0,411.1 281.7,408.9 282.2,407.7 282.8,407.2 283.0,407.7 283.6,409.3 283.7,410.0 283.9,411.3 284.4,412.6 285.0,413.1 284.8,414.4 285.5,414.9 285.3,415.3 286.1,416.9 286.5,418.2 286.8,419.0 287.1,419.9 287.6,419.8 287.7,418.3 288.1,417.7 288.1,416.5 288.9,415.2 289.6,413.8 289.6,413.1 290.6,412.8 292.0,411.8 292.8,411.9 293.9,410.7 294.7,410.6 294.8,410.1 294.5,408.5 294.8,408.2 295.2,407.3 295.6,405.1 295.2,404.8 295.9,403.6 295.5,402.4 295.7,401.4 296.2,400.2 296.2,399.6 296.4,398.7 296.6,398.4 296.5,400.6 296.8,401.9 297.5,400.9 297.0,398.9 297.5,399.2 297.8,398.5 298.5,396.3 298.8,396.1 299.0,394.8 299.3,393.4 300.4,393.5 301.7,394.6 302.7,394.3 303.2,395.2 303.9,396.7 304.1,397.1 305.1,398.3 305.4,399.2 305.8,399.2 306.1,401.0 306.5,399.4 307.2,399.0 307.9,398.6 308.4,397.8 309.1,398.2 310.0,396.3 310.3,395.6 311.2,394.4 311.2,392.8 312.0,392.6 312.5,393.3 313.9,393.5 314.6,394.2 315.4,395.1 315.9,394.6 316.6,393.6 317.4,392.0 318.0,391.7 318.8,390.9 319.4,391.5 319.6,393.6 319.7,393.9 320.0,394.5 320.9,396.2 321.0,397.6 321.4,397.9 321.9,399.2 322.2,400.2 322.6,400.1 322.9,399.6 323.6,396.7 324.4,396.2 324.9,397.1 325.5,395.1 326.5,395.1 327.4,394.0 328.5,394.5 329.9,392.6 330.6,392.4 331.5,391.7 332.1,390.9 332.9,389.5 333.7,390.4 334.6,388.7 335.3,387.6 335.7,387.4 336.5,386.6 337.5,387.8 338.3,388.2 339.3,389.7 339.5,389.6 340.8,390.9 341.3,391.1 342.0,389.0 342.7,388.1 343.0,386.8 343.9,386.0 344.4,385.7 344.5,385.7 345.4,384.0 345.9,383.3 346.9,382.9 348.1,382.8 349.0,381.7 350.1,381.6 350.5,381.0 350.6,379.8 351.2,379.8 351.6,378.0 352.0,377.0 352.5,375.5 352.9,375.8 353.3,374.6 353.9,373.3 354.0,371.9 354.3,371.4 355.2,371.1 355.8,369.2 356.7,369.7 357.8,368.0 358.6,367.2 358.9,368.1 359.9,367.9 360.6,369.3 361.4,370.6 361.8,370.7 362.8,372.3 363.2,371.9 363.5,369.9 364.2,370.0 365.2,368.3 365.7,368.2 365.6,366.5 366.7,365.8 367.5,365.1 367.9,364.6 368.5,365.7 369.5,366.6 370.6,366.9 371.4,367.2 372.1,368.9 372.6,368.6 373.8,367.1 374.5,365.8 375.5,365.1 376.3,364.6 376.7,365.1 377.9,366.7 378.7,366.4 379.0,368.6 379.9,368.1 380.6,369.3 381.4,369.7 382.5,368.3 383.2,368.1 383.8,368.7 385.0,366.7 385.7,366.1 386.5,365.5 387.6,364.5 387.8,363.9 388.4,362.6 388.9,360.7 389.3,361.1 390.1,359.7 390.7,358.7 392.3,358.3 393.1,358.7 394.3,357.8 395.4,357.9 396.6,357.9 397.8,357.3 398.4,357.1 399.3,356.4 399.3,354.6 400.3,354.3 400.9,353.5 401.7,352.8 403.1,353.2 403.9,353.2 405.1,353.8 406.3,353.2 407.7,352.4 408.5,353.6 409.4,354.2 410.3,355.1 411.3,354.9 411.9,356.2 412.9,356.0 413.6,356.7 414.8,355.1 416.1,353.5 416.7,353.0 417.7,353.2 418.6,352.8 419.5,353.1 419.7,354.6 420.6,354.7 421.2,356.2 422.0,354.9 422.6,354.9 423.3,353.1 424.2,353.5 425.0,353.6 426.0,352.1 426.7,351.3 427.4,351.0 428.1,350.0 429.0,350.1 429.2,348.8 430.5,347.7 431.4,347.5 432.7,347.7 433.8,347.2 435.2,348.1 436.3,347.5 437.3,347.7 438.4,347.3 439.5,347.0 440.3,348.3 441.1,347.6 442.3,346.9 443.6,346.0 444.1,345.7 444.9,344.4 445.9,344.2 447.0,343.8 447.4,343.5 447.9,343.8 448.1,344.2 448.5,347.0 449.0,346.5 449.4,348.8 449.4,349.7 450.2,351.2 450.8,349.7 450.8,351.9 451.7,351.1 452.4,349.8 453.5,349.2 454.0,349.4 455.2,348.7 456.0,347.9 456.7,347.7 457.2,347.9 458.1,349.1 459.1,350.3 459.6,350.9 460.4,352.3 461.1,352.8 461.8,353.6 462.0,351.1 462.3,350.5 462.3,351.1 462.8,350.1 463.1,348.3 463.3,347.9 463.9,345.0 464.2,345.3 464.3,344.3 464.7,343.8 465.5,342.7 466.1,341.7 466.5,341.1 467.4,340.0 467.7,339.2 468.6,338.1 469.2,337.4 470.3,337.1 471.1,337.4 472.1,336.4 472.3,335.3 473.7,334.7 474.5,333.5 475.4,333.3 476.1,334.6 477.5,334.2 478.1,334.1 479.5,335.7 480.4,336.7 481.3,336.7 482.4,337.6 483.3,335.8 484.4,336.5 485.4,335.1 486.3,335.5 487.3,336.4 488.4,335.2 489.7,335.1 490.6,335.6 491.4,335.0 492.2,333.9 492.7,333.7 493.7,333.3 494.9,332.1 495.7,330.9 496.8,330.9 497.7,330.0 498.2,329.1 499.2,329.0 500.1,328.9 501.3,328.3 502.2,328.5 503.4,327.0 504.1,327.4 504.8,326.6 505.6,325.3 506.4,325.0 507.2,323.9 507.7,323.0 508.4,322.3 509.5,322.9 510.2,323.0 511.1,323.7 512.0,323.9 513.4,325.1 514.3,324.7 515.1,325.7 515.8,324.5 516.8,324.3 517.3,324.0 518.5,322.5 519.7,322.4 520.1,321.8 520.6,321.9 521.9,320.6 523.3,319.1 523.8,319.1 524.7,318.7 525.5,318.1 526.9,318.1 527.5,317.3 528.7,316.4 529.7,316.0 531.0,317.0 532.1,318.1 532.7,316.4 533.8,316.5 534.4,315.6 535.4,314.7 536.8,314.5 537.4,315.3 538.6,315.9 539.5,315.1 540.7,315.9 541.6,315.3 542.9,314.9 543.9,315.5 544.2,315.6 545.3,315.0 545.9,314.0 546.9,314.3 547.9,312.9 548.6,312.8 549.5,312.2 550.2,311.4 551.0,310.6 551.9,310.7 552.9,309.7 553.6,309.0 554.3,307.1 555.1,308.0 556.1,306.8 556.9,306.3 558.2,306.1 559.2,306.3 560.3,306.4 561.5,305.4 562.5,305.9 563.7,305.5 564.3,304.1 565.1,303.9 565.6,303.9 565.9,302.0 567.2,301.9 567.5,300.4 568.4,298.2 569.2,298.3 569.6,297.9 570.8,297.9 571.8,297.1 572.8,296.1 573.4,296.4 574.4,295.9 575.4,295.9 576.5,294.8 577.6,294.9 578.7,295.0 579.8,294.5 580.5,292.8 581.5,293.6 581.9,293.3 582.9,292.0 583.4,290.5 584.2,290.9 585.4,290.6 585.4,289.0 586.2,288.2 586.9,286.7 587.6,286.5 588.6,286.4 589.1,285.2 590.0,284.9 591.0,284.5 591.8,284.0 593.0,282.0 593.8,282.8 594.8,282.6 596.0,282.1 596.7,281.8 597.8,282.3 598.8,282.2 599.9,283.3 600.9,283.5 601.7,283.0 602.7,282.4 603.7,281.4 605.0,281.1 605.6,280.6 606.9,279.9 607.7,279.2 608.6,279.0 609.3,277.4 610.2,277.0 611.1,276.8 612.0,275.9 612.7,275.1 613.4,274.9 614.5,274.2 614.8,272.9 615.6,271.9 616.2,271.6 616.5,271.0 617.6,270.9 617.7,268.4 618.5,268.0 619.0,267.7 619.6,266.5 621.1,265.1 621.9,266.5 622.8,265.5 623.8,266.0 625.0,265.9 626.1,265.8 627.2,264.9 627.9,265.6 629.2,265.7 630.3,264.9 631.3,265.0 632.3,265.7 633.4,266.3 634.3,266.5 635.2,265.5 636.0,265.5 637.0,265.7 638.2,265.7 639.3,265.9 640.3,266.0 641.6,266.6 642.8,267.5 643.7,267.5 644.9,267.4 645.6,267.8 646.8,268.2 647.5,269.1 648.6,269.5 649.4,270.4 650.2,271.0 650.9,271.6 651.6,270.7 652.8,271.3 654.0,270.5 654.9,270.3 655.7,268.9 656.8,269.1 658.0,269.7 659.1,270.5 660.2,270.8 660.9,269.7 661.5,269.8 662.5,268.3 663.2,268.7 663.6,267.2 664.4,266.4 665.3,265.7 666.0,266.6 666.6,267.6 666.7,267.7 667.7,269.8 668.1,269.4 668.6,270.8 669.8,270.0 671.1,270.4 671.8,269.5 673.1,269.9 674.1,270.0 675.4,269.1 676.0,268.3 677.7,268.6 678.4,267.8 679.3,266.1 680.5,266.5 681.8,266.4 682.4,267.1 683.6,267.0 684.4,267.1 685.7,266.8 686.5,267.4 687.6,268.2 688.8,267.0 689.6,267.7 690.7,267.4 691.2,269.5 691.5,269.3 691.7,270.7 692.0,271.7 692.6,272.1 692.8,272.4 693.2,274.2 693.6,274.5 694.1,275.8 693.6,278.5 693.8,278.4 694.3,279.3 694.9,281.5 694.2,282.8 694.6,282.1 694.9,283.5 695.2,282.3 695.3,281.9 696.3,280.1 696.5,280.0 696.6,278.2 696.6,277.6 698.0,278.5 699.0,277.6 700.0,277.7 701.4,278.2 702.5,278.4 703.6,278.3 704.7,278.7 706.0,278.6 707.1,278.7 708.1,278.0 709.3,278.4 710.4,278.4 711.3,277.9 712.4,278.2 713.3,278.8 714.3,279.2 715.5,280.4 716.1,280.2 716.9,280.4 717.9,281.7 718.6,282.7 719.4,283.5 720.4,282.4 721.5,281.9 722.5,281.2 723.9,282.0 724.5,280.9 725.3,280.8 725.8,279.5 726.0,278.0 726.3,276.0 726.6,276.8 727.4,275.3 727.9,274.2 728.7,273.2 729.2,272.6 729.9,271.8 731.0,271.9 731.6,270.8 732.7,270.5 733.3,269.0 733.9,268.2 734.8,267.2 735.9,266.7 736.4,265.7 736.9,265.4 737.3,264.1 737.5,262.5 738.1,261.1 738.7,260.8 739.5,260.2 739.7,258.9 740.2,258.4 740.6,256.8 741.0,256.5 741.6,254.3 742.3,254.8 742.2,253.6 743.2,252.3 743.9,252.0 744.0,250.5 745.2,250.3 746.2,250.3 747.4,251.3 748.4,252.0 748.7,253.1 750.0,253.8 750.7,254.7 751.0,254.6 751.5,252.3 752.0,252.5 752.5,251.0 753.1,249.6 753.7,248.2 753.5,247.8 753.9,246.8 754.4,245.8 755.0,245.4 756.1,244.6 757.1,245.0 758.4,244.5 759.0,245.4 759.8,246.1 760.6,246.2 761.2,247.4 762.2,248.2 762.7,248.4 763.5,250.0 764.3,250.5 765.3,250.0 765.5,248.1 766.2,247.7 766.3,247.4 767.1,246.8 767.7,245.4 768.7,244.9 769.6,244.8 770.9,244.2 771.6,243.6 772.7,243.7 773.4,243.2 774.5,241.9 775.2,240.7 776.1,240.3 777.2,239.2 778.3,239.2 779.4,238.5 780.4,237.8 780.4,237.3 781.3,235.9 781.2,234.7 781.4,233.9 781.9,233.3 782.3,231.9 782.2,231.8 782.7,229.7 783.2,228.2 783.6,229.5 783.3,227.9 783.7,225.9 784.3,225.7 784.6,224.2 785.5,225.0 786.6,226.3 787.3,227.5 788.2,226.8 788.8,228.5 789.8,228.9 791.4,229.3 791.6,230.4 792.2,231.3 792.4,231.4 792.3,234.1 792.8,235.2 793.4,234.8 793.1,236.3 794.0,236.9 794.0,238.0 794.4,239.3 794.8,240.3 794.8,238.8 795.6,238.5 795.7,235.4 795.7,236.7 795.8,235.9 796.9,234.5 796.8,232.8 797.5,233.8 798.9,233.4 800.4,233.8 801.6,234.1 802.3,233.4 803.5,234.5 804.8,234.0 805.7,234.5 807.1,233.2 808.1,232.7 809.2,232.7 810.3,232.8 811.2,234.1 812.1,233.5 813.5,234.1 814.0,234.5 815.4,234.8 816.1,234.5 817.1,235.3 817.7,234.0 818.2,233.1 819.2,233.0 819.7,230.8 820.4,230.7 821.3,230.2 822.1,231.0 822.8,231.8 823.8,232.0 824.6,232.9 825.5,233.4 826.4,234.5 826.8,234.5 827.5,231.9 828.2,231.4 828.9,231.7 828.8,230.3 829.8,230.3 830.2,229.3 830.7,227.5 831.4,225.9 831.7,225.7 832.3,225.2 833.3,225.1 834.5,225.0 835.9,225.4 836.9,224.4 837.9,223.8 839.1,223.5 839.8,221.8 840.7,221.7 841.3,221.4 842.4,220.0 843.5,219.7 844.2,219.2 845.2,220.2 846.2,218.9 847.5,218.4 848.3,218.0 849.2,217.6 850.2,217.9 851.3,218.7 852.1,219.3 853.6,219.1 854.3,219.2 855.4,219.3 856.4,220.6 857.3,219.9 858.3,220.8 859.4,220.9 860.3,220.0 861.4,218.9 861.9,218.5 863.0,218.2 864.0,217.2 864.5,216.7 865.6,217.4 866.3,215.8 867.6,216.1 868.7,216.3 869.6,215.9 870.4,215.5 870.9,214.8 871.8,214.5 872.8,212.4 873.6,212.5 874.7,212.0 875.6,211.7 876.3,210.8 877.2,209.9 878.0,210.1 878.5,208.8 880.1,208.4 880.5,208.0 881.6,207.6 882.1,207.0 883.1,205.7 884.3,205.6 885.3,206.8 886.4,206.3 887.3,207.4 888.2,207.5 888.6,206.9 889.5,204.6 889.3,204.1 890.4,201.7 891.3,201.3 891.6,200.6 892.4,202.3 892.7,202.2 893.2,203.6 893.9,204.4 894.4,205.3 894.9,205.7 895.1,204.5 896.1,203.3 896.9,203.5 897.9,202.0 898.8,201.8 899.6,200.9 900.0,199.8 901.0,198.8 901.4,197.6 902.3,197.8 902.8,196.7 903.2,195.5 904.7,194.4 905.1,194.7 905.9,193.9 907.1,194.0 908.1,194.6 909.1,194.1 910.2,194.7 911.1,194.6 911.7,196.7 912.6,196.7 913.6,197.2 913.9,197.9 914.7,199.0 915.7,200.5 916.0,200.0 916.3,201.0 917.0,202.3 917.7,200.8 918.3,201.3 918.8,199.9 919.4,198.8 920.3,198.1 921.1,197.9 922.7,198.9 923.4,197.5 924.6,197.5 925.9,197.7 926.4,197.2 927.8,197.5 928.8,197.2 929.8,197.4 930.4,198.3 931.3,198.9 931.5,197.9 932.5,196.7 932.7,196.7 933.1,195.0 933.5,193.3 933.9,193.0 934.7,192.2 935.6,192.8 936.7,191.6 937.6,191.6 938.6,190.9 939.4,190.1 940.6,189.2 941.6,188.8 942.3,188.8 943.3,190.1 944.2,189.3 945.6,190.0 946.2,190.4 947.4,191.3 948.5,190.0 949.7,190.5 950.5,189.9 952.0,189.3 952.5,188.8 953.7,189.3 954.5,188.3 955.5,188.2 956.5,188.3 957.6,187.9 958.3,189.5 959.4,189.5 960.4,190.3 961.0,190.5 962.1,190.5 963.4,190.9 964.5,190.1 965.5,189.4 966.8,188.8 967.7,189.6 968.9,189.5 969.7,190.2 971.1,190.5 972.1,189.9 972.8,190.5 973.1,191.7 973.9,192.4 974.2,193.9 974.9,194.3 975.4,195.5 976.4,194.9 976.8,194.3 977.1,192.6 977.9,192.2 978.6,192.4 979.7,194.0 979.9,194.9 981.2,195.1 981.6,195.9 982.0,195.8 983.0,197.2 983.9,197.6 984.9,198.6 986.4,198.1 986.6,199.7 988.1,200.9 988.9,200.6 989.4,199.5 989.5,198.9 990.5,198.2 990.8,197.0 991.4,195.5 992.6,194.9 993.5,193.2 994.0,195.0 995.1,194.0 995.9,193.4 997.1,192.7 998.1,192.8 998.9,192.9 999.9,192.2 1001.2,193.7 1001.9,192.5 1003.0,193.5 1004.2,193.7 1005.0,194.7 1006.3,194.9 1007.2,195.1 1008.0,196.0 1008.9,196.3 1009.8,196.1 1010.8,196.6 1011.7,197.2 1012.9,196.9 1013.8,197.0 1015.1,195.8 1015.9,196.1 1017.0,196.4 1018.1,196.0 1019.3,194.9 1020.2,195.5 1021.1,196.3 1021.6,197.3 1022.4,198.8 1023.2,199.5 1024.0,200.2 1024.4,201.0 1025.3,201.5 1026.4,200.5 1026.9,199.7 1028.0,199.0 1028.7,198.1 1029.7,197.9 1030.6,198.2 1031.6,198.9 1032.8,198.8 1033.8,198.9 1034.8,198.8 1035.7,198.6 1036.9,196.8 1037.8,198.4 1038.8,197.2 1039.6,196.4 1040.0,195.1 1040.6,194.5 1041.4,193.9 1041.5,192.5 1042.2,192.2 1043.4,191.6 1044.4,192.1 1045.6,192.2 1046.4,193.0 1047.9,192.5 1048.4,193.7 1049.6,194.7 1050.6,194.3 1051.7,195.8 1052.8,195.7 1053.5,196.3 1054.6,196.0 1055.5,196.7 1056.8,196.9 1057.8,197.1 1058.6,197.7 1059.8,196.7 1061.1,197.0 1062.0,197.1 1063.0,197.4 1063.7,199.4 1064.7,199.0 1065.2,200.7 1066.2,201.3 1067.1,200.6 1068.2,199.8 1069.1,200.6 1070.0,199.3 1071.2,199.2 1071.9,198.6 1073.0,198.3 1073.8,197.6 1074.7,197.4 1075.5,197.1 1076.3,197.2 1077.2,199.2 1078.3,198.9 1078.5,200.4 1079.2,200.7 1080.3,202.4 1080.6,203.1 1081.2,202.2 1082.3,203.9 1082.8,202.3 1083.1,201.6 1083.9,201.6 1084.8,200.7 1085.0,199.2 1085.7,198.8 1085.6,198.7 1086.0,196.5 1086.3,195.7 1086.6,195.0 1086.8,194.7 1087.4,192.9 1087.4,191.4 1087.7,190.9 1087.9,190.5 1088.5,188.0 1088.4,187.5 1089.1,186.9 1089.1,186.1 1089.4,187.7 1089.5,188.5 1090.1,190.6 1090.3,189.8 1090.1,190.6 1090.9,192.1 1090.8,193.7 1091.0,196.0 1091.6,195.3 1091.9,196.3 1092.0,197.0 1092.5,198.1 1092.2,199.7 1092.0,200.6 1093.0,201.6 1092.9,204.1 1093.7,204.3 1093.6,204.9 1093.7,205.6 1094.2,206.4 1094.0,205.7 1094.5,204.0 1094.3,202.7 1094.9,202.4 1095.1,202.0 1095.1,201.8 1094.9,200.5 1095.6,199.0 1095.4,199.0 1095.7,198.0 1095.9,195.4 1096.7,195.2 1097.9,195.8 1099.1,195.8 1100.1,195.4 1100.5,196.8 1100.9,196.9 1101.5,198.2 1102.0,198.7 1101.9,198.9 1102.7,201.4 1103.3,203.1 1103.3,202.3 1103.9,203.8 1104.3,204.7 1104.1,204.9 1104.0,201.6 1104.0,201.7 1105.0,200.5 1104.0,199.4 1105.1,199.5 1104.5,196.3 1104.2,194.1 1104.0,193.9 1105.9,193.6 1104.7,195.5 1105.0,193.3 1103.9,191.8 1104.4,190.4 1105.0,188.9 1105.2,188.6 1105.1,187.5 1106.4,190.7 1106.3,192.0 1107.2,192.2 1107.1,193.2 1107.9,194.7 1108.1,195.2 1109.2,195.5 1109.4,197.1 1110.6,196.3 1111.7,196.8 1112.8,195.4 1113.6,194.7 1114.5,194.3 1115.6,193.4 1116.4,192.7 1117.0,191.3 1117.7,191.3 1118.7,189.5 1119.6,189.5 1120.6,189.7 1121.5,191.3 1122.5,190.5 1123.5,191.2 1124.6,192.0 1125.2,194.0 1125.5,194.6 1125.7,193.8 1126.1,193.1 1126.4,192.5 1126.9,190.3 1126.7,190.7 1127.1,188.5 1127.6,186.1 1128.0,186.1 1128.3,185.7 1129.5,184.2 1129.6,184.2 1130.3,183.1 1130.7,181.5 1131.3,181.7 1131.9,180.1 1132.5,178.5 1132.9,179.5 1133.9,177.6 1134.2,177.0 1134.8,176.3 1135.2,175.0 1135.6,174.0 1136.5,173.4 1137.5,173.3 1138.2,172.8 1139.2,172.6 1140.3,173.0 1141.6,172.6 1141.9,172.1 1142.6,171.1 1142.9,170.3 1143.6,167.8 1143.7,167.6 1144.5,166.5 1145.0,166.5 1145.6,165.7 1145.9,164.2 1146.3,163.3 1146.9,162.5 1147.4,161.4 1147.8,161.3 1148.3,159.9 1149.3,160.1 1150.9,159.5 1151.7,159.9 1152.9,159.4 1153.2,158.0 1154.5,158.6 1155.6,157.0 1156.4,158.0 1157.5,157.6 1158.3,156.9 1159.3,156.5 1159.7,155.9 1160.0,154.3 1161.0,153.7 1161.1,152.4 1161.6,151.0 1162.1,151.3 1162.8,150.2 1163.0,148.4 1163.6,148.0 1164.4,148.9 1165.3,148.7 1166.3,150.1 1167.0,150.6 1167.6,149.1 1167.5,148.8 1168.6,148.0 1169.6,145.7 1169.8,145.8 1170.3,144.6 1171.5,145.5 1172.4,143.6 1173.6,144.7 1174.4,144.3 1175.3,143.9 1176.5,143.0 1177.5,142.8 1178.5,142.5 1179.6,143.3 1180.5,142.1 1180.7,141.8 1181.7,139.9 1181.9,138.4 1182.7,138.2 1182.9,136.4 1183.6,136.5 1184.3,134.6 1184.8,135.0 1185.2,134.0 1185.6,132.8 1186.5,132.3 1187.7,131.5 1188.8,131.2 1189.5,131.6 1190.4,131.1 1191.5,130.2 1192.6,129.7 1193.6,129.9 1194.5,129.3 1195.7,129.4 1196.8,127.9 1197.9,128.2 1198.5,127.4 1199.8,127.8 1200.7,127.4 1201.6,125.8 1202.5,126.0 1203.0,126.3 1204.6,125.0 1205.0,124.3 1205.9,124.3 1206.8,126.4 1207.6,126.0 1208.2,125.1 1208.6,123.9 1209.0,122.9 1209.2,121.5 1209.2,121.1 1210.1,120.1 1211.1,120.3 1212.1,119.3 1213.2,119.3 1214.7,119.4 1215.4,118.6 1216.6,118.6 1217.7,118.4 1217.9,117.7 1218.8,116.8 1219.0,115.2 1220.1,115.1 1220.5,113.8 1220.9,113.1 1221.2,112.2 1222.0,110.8 1222.2,112.0 1223.7,113.1 1224.0,113.9 1225.0,114.0 1225.7,114.5 1226.6,115.8 1227.0,116.7 1227.6,115.6 1228.5,115.3 1228.7,114.0 1229.3,112.6 1230.0,112.5 1230.6,111.6 1231.6,110.6 1232.3,109.3 1232.6,109.1 1233.4,108.0 1233.9,106.9 1234.7,106.5 1234.9,105.8 1235.9,106.2 1236.8,104.7 1236.9,103.5 1237.6,102.2 1237.9,102.2 1238.5,101.6 1239.4,99.2 1239.7,98.9 1240.3,99.6 1240.8,100.0 1241.4,101.5 1241.5,101.8 1242.1,103.0 1242.5,104.0 1242.9,105.5 1243.6,106.5 1244.0,107.4 1244.5,105.4 1244.5,104.8 1244.9,105.5 1245.6,103.4 1245.7,102.1 1246.1,101.4 1246.7,99.9 1247.0,99.6 1247.1,98.7 1247.4,98.4 1247.8,97.3 1248.3,95.3 1248.9,96.2 1249.0,93.9 1249.5,94.9 1249.6,96.6 1249.8,95.7 1250.2,97.9 1250.7,98.9 1251.6,97.9 1251.9,97.1 1252.8,96.4 1253.3,96.4 1253.7,94.5 1254.3,93.2 1255.2,93.5 1255.5,92.3 1256.1,91.3 1256.9,91.3 1257.5,89.6 1258.6,89.6 1259.7,89.6 1260.8,89.4 1262.0,89.6 1263.1,89.8 1264.0,89.4 1265.1,89.6 1265.5,87.4 1265.7,87.5 1266.9,87.4 1267.7,85.9 1267.8,84.0 1268.2,84.0 1269.0,83.8 1269.4,82.0 1269.7,83.2 1270.4,84.0 1270.6,85.1 1271.6,85.1 1271.9,86.7 1271.9,87.5 1272.6,89.3 1273.5,88.7 1274.2,91.1 1274.4,91.3 1274.8,91.9 1275.6,93.3 1276.3,92.9 1276.7,93.6 1277.3,95.7 1277.8,96.4 1278.0,97.4 1279.0,97.7 1279.4,97.9 1279.5,99.4 1280.4,100.6 1280.8,99.1 1281.2,96.9 1281.2,98.5 1281.6,96.5 1281.6,96.3 1282.2,94.5 1282.5,92.9 1283.0,92.8 1283.1,91.2 1283.4,91.2 1283.9,89.3 1284.0,88.9 1284.4,88.1 1284.6,87.1 1285.0,86.3 1285.7,85.8 1286.3,84.6 1286.9,83.0 1287.1,83.0 1288.0,82.0 1288.6,82.7 1289.2,84.1 1290.0,84.6 1290.5,85.4 1291.4,84.5 1292.7,84.6 1293.6,85.0 1294.5,84.0 1295.6,83.7 1297.2,83.8 1298.2,83.8 1299.1,83.3 1300.2,83.8 1301.2,82.5 1302.3,82.7 1303.4,81.8 1303.5,81.7 1304.3,83.8 1305.0,84.8 1305.7,86.3 1306.0,86.4 1306.2,84.7 1306.8,83.9 1307.0,82.4 1307.4,81.2 1307.1,82.1 1307.6,80.3 1308.2,78.2 1308.5,77.8 1308.6,77.3 1309.9,78.0 1310.8,78.1 1311.7,78.9 1312.8,79.9 1313.8,79.9 1314.5,78.7 1315.3,77.4 1315.5,78.1 1316.3,76.3 1317.1,75.3 1318.3,75.6 1319.3,77.5 1320.3,77.3 1321.7,77.8 1322.4,78.4 1323.6,79.2 1324.9,78.6 1325.9,78.6 1327.0,78.0 1328.1,77.9 1329.4,77.5 1330.0,77.0 1331.2,77.3 1332.3,76.1 1332.9,75.6 1334.5,75.1 1335.3,74.7 1335.8,76.0 1336.7,76.2 1337.2,77.3 1338.1,77.6 1338.7,75.9 1339.5,74.7 1340.2,74.2 1341.1,73.4 1342.0,73.1 1343.3,73.6 1344.2,72.9 1345.3,73.2 1346.4,72.7 1346.7,73.3 1348.2,73.3 1348.8,74.9 1349.9,74.9 1350.7,75.9 1351.6,77.3 1352.1,76.4 1352.9,75.0 1353.4,74.1 1354.2,74.0 1355.4,74.1 1356.3,74.1 1356.9,74.7 1358.3,74.1 1359.4,74.7 1359.9,73.2 1360.2,72.4 1360.3,72.3 1361.0,71.0 1361.0,70.4 1361.2,67.7 1361.7,67.8 1362.0,66.9 1362.6,66.1 1363.4,64.7 1363.9,64.9 1364.6,63.6 1365.1,62.6 1365.3,61.3 1365.3,61.2 1365.6,59.5 1365.6,57.8 1366.9,57.7 1367.0,56.3 1366.8,56.2 1367.2,54.5 1368.1,55.4 1369.3,54.5 1370.1,55.8 1371.1,56.5 1371.9,57.8 1372.5,58.3 1372.9,59.6 1373.7,60.4 1374.6,61.1 1375.8,61.2 1376.3,61.8 1377.6,61.7 1378.4,60.4 1379.3,59.5 1380.2,59.1 1381.5,58.8 1382.9,59.7 1384.1,58.4 1384.6,59.2 1385.4,59.8 1385.8,61.0 1386.5,61.3 1387.5,61.3 1388.0,63.0 1388.9,63.5 1389.8,65.1 1390.4,64.9 1391.1,65.3 1391.9,66.2 1392.9,66.1 1393.8,67.6 1394.4,69.1 1395.4,68.9 1396.2,70.1 1397.1,70.1 1398.3,70.3 1399.1,69.9 1399.5,68.4 1400.3,66.9 1401.0,66.9 1401.9,66.2 1403.3,67.4 1404.5,66.4 1405.0,66.4 1406.2,66.9 1407.4,68.3 1408.2,68.1 1409.1,68.1 1410.1,69.2 1410.8,70.1 1411.4,69.0 1412.2,69.0 1412.5,67.6 1413.7,67.2 1414.1,66.2 1414.7,66.1 1415.8,65.2 1416.6,65.4 1417.8,63.9 1418.3,62.9 1419.3,63.0 1420.5,63.0 1421.5,63.7 1422.6,64.2 1423.3,65.3 1424.5,65.6 1424.8,65.1 1424.6,63.6 1425.1,64.0 1425.3,61.2 1425.1,60.4 1425.2,60.3 1425.3,59.1 1426.3,56.3 1426.2,55.2 1426.7,55.6 1426.8,55.7 1427.0,53.7 1426.5,53.1 1427.1,51.2 1427.6,50.7 1428.6,50.9 1429.0,48.6 1430.0,49.1 1430.4,49.7 1430.9,50.4 1431.4,51.9 1432.3,52.6 1432.9,52.0 1433.3,51.7 1433.6,50.0 1433.7,48.4 1433.9,48.7 1434.7,46.7 1434.9,46.0 1435.6,45.3 1436.5,44.4 1437.5,44.1 1437.8,42.4 1438.4,42.1" fill="none" stroke="#6A30C8" stroke-width="3.9" stroke-linejoin="round" stroke-linecap="round" clip-path="url(#ct)"/>
<rect x="1438.3" y="27.2" width="90" height="30.6" rx="5" fill="#6A30C8"/>
<text x="1446.5" y="49.2" font-size="18" fill="#fff" text-anchor="start" textLength="74.0" lengthAdjust="spacingAndGlyphs">+2,293%</text>
<rect x="1438.3" y="271.2" width="74" height="30.8" rx="5" fill="#FCA86E"/>
<text x="1446.5" y="293.3" font-size="18" fill="#fff" text-anchor="start" textLength="58.0" lengthAdjust="spacingAndGlyphs">+372%</text>
<rect x="54.2" y="23.9" width="163.9" height="68.1" rx="3.2" fill="#fff" fill-opacity="0.96" stroke="#d0d0d0" stroke-width="1.3"/>
<line x1="61.1" y1="41.4" x2="105.9" y2="41.4" stroke="#FCA86E" stroke-width="3"/>
<line x1="61.1" y1="72.4" x2="105.9" y2="72.4" stroke="#6A30C8" stroke-width="3"/>
<text x="120.5" y="50.0" font-size="22.3" fill="#000" text-anchor="start" textLength="88.0" lengthAdjust="spacingAndGlyphs">S&amp;P 500</text>
<text x="121.3" y="79.6" font-size="22.3" fill="#000" text-anchor="start" textLength="88.0" lengthAdjust="spacingAndGlyphs">Strategy</text>
<text x="30.2" y="330.7" font-size="22.3" fill="#000" text-anchor="middle" textLength="240.0" lengthAdjust="spacingAndGlyphs" transform="rotate(-90 30.2 330.7)">Total Return (log scale)</text>
<line x1="189.5" y1="667.5" x2="189.5" y2="988.0" stroke="#e5e5e5" stroke-width="1"/>
<line x1="334.5" y1="667.5" x2="334.5" y2="988.0" stroke="#e5e5e5" stroke-width="1"/>
<line x1="480.5" y1="667.5" x2="480.5" y2="988.0" stroke="#e5e5e5" stroke-width="1"/>
<line x1="626.5" y1="667.5" x2="626.5" y2="988.0" stroke="#e5e5e5" stroke-width="1"/>
<line x1="772.5" y1="667.5" x2="772.5" y2="988.0" stroke="#e5e5e5" stroke-width="1"/>
<line x1="917.5" y1="667.5" x2="917.5" y2="988.0" stroke="#e5e5e5" stroke-width="1"/>
<line x1="1063.5" y1="667.5" x2="1063.5" y2="988.0" stroke="#e5e5e5" stroke-width="1"/>
<line x1="1209.5" y1="667.5" x2="1209.5" y2="988.0" stroke="#e5e5e5" stroke-width="1"/>
<line x1="1355.5" y1="667.5" x2="1355.5" y2="988.0" stroke="#e5e5e5" stroke-width="1"/>
<line x1="43.5" y1="681.5" x2="1445.0" y2="681.5" stroke="#e5e5e5" stroke-width="1"/>
<text x="1454.1" y="687.1" font-size="12.5" fill="#666666" text-anchor="start" textLength="19.0" lengthAdjust="spacingAndGlyphs">0%</text>
<line x1="43.5" y1="731.5" x2="1445.0" y2="731.5" stroke="#e5e5e5" stroke-width="1"/>
<text x="1453.6" y="737.1" font-size="12.5" fill="#666666" text-anchor="start" textLength="31.4" lengthAdjust="spacingAndGlyphs">-10%</text>
<line x1="43.5" y1="782.5" x2="1445.0" y2="782.5" stroke="#e5e5e5" stroke-width="1"/>
<text x="1453.6" y="788.1" font-size="12.5" fill="#666666" text-anchor="start" textLength="31.4" lengthAdjust="spacingAndGlyphs">-20%</text>
<line x1="43.5" y1="832.5" x2="1445.0" y2="832.5" stroke="#e5e5e5" stroke-width="1"/>
<text x="1453.6" y="838.1" font-size="12.5" fill="#666666" text-anchor="start" textLength="31.4" lengthAdjust="spacingAndGlyphs">-30%</text>
<line x1="43.5" y1="882.5" x2="1445.0" y2="882.5" stroke="#e5e5e5" stroke-width="1"/>
<text x="1453.6" y="888.1" font-size="12.5" fill="#666666" text-anchor="start" textLength="31.4" lengthAdjust="spacingAndGlyphs">-40%</text>
<line x1="43.5" y1="933.5" x2="1445.0" y2="933.5" stroke="#e5e5e5" stroke-width="1"/>
<text x="1453.6" y="939.1" font-size="12.5" fill="#666666" text-anchor="start" textLength="31.4" lengthAdjust="spacingAndGlyphs">-50%</text>
<rect x="43.5" y="667.5" width="1395.0" height="314.0" fill="none" stroke="#e5e5e5" stroke-width="1"/>
<polyline points="43.4,681.7 44.0,683.2 44.9,684.8 45.6,686.5 46.2,685.6 46.6,686.9 47.2,688.3 47.0,691.3 47.7,690.6 47.7,692.1 48.6,691.9 48.7,693.6 49.4,694.1 50.3,695.1 50.2,696.6 50.2,695.5 51.0,696.3 50.7,693.1 51.0,692.1 50.9,692.2 51.1,692.1 51.4,691.4 51.3,688.9 51.7,687.2 52.4,686.9 53.2,685.8 54.1,684.1 54.5,686.2 55.0,686.7 55.7,686.0 56.3,689.1 56.4,688.8 56.4,690.0 57.4,689.0 57.5,687.4 57.6,684.4 58.5,682.8 58.8,682.5 59.4,682.9 60.9,684.6 61.9,684.1 62.2,685.8 62.5,685.5 62.7,688.2 63.0,689.1 63.5,689.6 63.4,690.3 64.7,689.6 64.3,689.9 64.6,687.8 65.3,687.5 65.9,685.6 66.0,685.9 66.3,683.6 66.6,682.5 67.4,685.7 68.0,685.9 68.9,685.6 69.6,688.1 68.4,687.0 69.5,688.2 68.7,694.3 69.6,691.1 69.0,690.5 69.5,693.0 69.7,697.4 69.8,698.9 69.8,696.1 70.3,699.4 69.7,699.3 70.3,701.4 70.3,700.5 70.5,701.2 71.1,702.8 71.2,702.8 71.8,704.9 72.0,705.7 72.8,705.9 73.1,705.8 72.9,709.0 73.6,711.0 73.0,710.9 73.7,713.2 73.7,712.5 74.0,714.0 74.1,715.7 74.7,717.1 74.8,716.9 74.9,717.4 75.6,718.1 75.4,718.0 75.2,720.0 75.5,721.4 74.6,716.8 75.6,716.2 75.1,716.4 76.0,715.3 75.6,715.8 76.2,715.7 76.1,712.2 76.7,715.2 76.8,710.7 77.0,707.5 76.9,708.6 77.3,706.4 77.7,706.3 77.5,704.4 77.6,705.6 77.3,706.3 78.6,709.3 78.4,708.7 78.4,711.2 79.0,712.6 78.8,712.2 79.3,711.2 79.8,711.7 79.1,715.0 79.8,715.3 80.9,713.6 80.8,712.6 80.8,711.2 81.5,711.4 81.2,710.5 81.1,709.7 81.4,707.5 82.0,709.2 81.3,710.5 81.9,713.2 83.1,715.7 82.3,713.6 82.9,715.3 83.0,715.3 82.7,718.3 83.0,714.4 84.1,715.8 83.9,711.8 83.8,710.6 83.9,709.7 84.6,711.7 84.1,708.7 83.7,705.9 84.1,707.6 84.3,703.9 85.2,702.6 85.2,701.8 85.3,701.2 85.3,701.3 85.7,700.7 86.8,698.3 86.6,700.2 87.1,697.1 87.4,694.3 87.6,693.3 87.7,693.4 88.4,695.4 88.9,694.6 89.8,693.1 90.9,692.5 91.6,690.3 91.3,690.2 91.9,688.2 92.0,687.6 92.4,687.5 92.3,685.6 93.1,684.1 93.7,685.5 94.5,682.7 95.5,681.7 96.7,682.3 97.5,683.4 98.5,681.8 99.1,682.3 100.8,682.1 101.5,681.6 102.5,681.7 102.7,684.6 102.9,683.6 102.8,684.3 102.8,687.2 103.6,687.4 104.3,689.9 104.1,688.8 104.6,689.8 105.0,688.2 106.4,685.8 106.5,685.9 107.2,684.1 107.1,686.2 108.2,685.7 108.3,688.5 109.1,689.1 108.8,689.5 109.8,690.6 109.7,688.8 109.8,689.2 110.5,684.7 111.1,685.0 111.9,683.5 111.9,682.5 112.9,685.2 113.8,684.1 115.3,683.9 116.4,684.5 117.6,682.7 119.0,683.3 119.7,681.7 120.9,682.4 122.3,683.2 123.0,684.4 123.9,684.9 125.2,684.1 125.5,685.6 125.8,687.3 125.1,686.0 125.0,690.6 125.8,690.0 125.7,691.6 125.5,691.0 126.0,694.3 126.2,693.5 127.1,695.2 126.3,697.2 127.2,696.8 126.3,697.1 127.2,700.0 127.1,699.7 127.1,698.7 127.6,702.1 127.2,702.6 126.9,705.4 127.5,704.4 127.7,704.7 128.1,705.6 128.5,708.0 128.4,708.1 129.2,710.0 129.1,710.6 129.6,707.9 129.9,708.9 130.0,706.9 130.1,706.5 130.5,707.3 130.2,704.7 131.0,705.6 130.9,703.7 131.4,701.2 131.7,700.2 132.1,701.6 132.2,699.7 132.4,700.6 133.2,697.2 132.7,696.6 133.7,695.7 133.8,693.4 133.9,693.6 134.4,694.7 134.3,692.0 135.2,689.7 135.2,689.6 135.3,689.3 135.8,686.9 136.1,685.6 136.4,684.9 137.3,685.2 137.4,683.4 138.2,683.8 138.4,681.2 139.7,683.1 140.6,682.7 141.8,681.7 142.9,681.2 143.8,681.2 145.1,682.3 146.2,681.2 147.6,681.4 147.9,682.1 149.4,682.5 149.5,683.0 150.1,685.5 149.9,686.9 150.0,687.8 150.2,689.9 150.8,690.2 151.5,689.7 151.1,692.0 151.3,691.1 151.7,695.5 151.7,693.4 151.9,691.5 152.0,691.8 152.7,690.4 152.2,689.2 152.5,689.1 153.0,689.1 152.5,687.4 153.6,686.5 153.5,683.8 153.9,684.0 154.1,681.7 154.2,684.3 154.3,682.9 154.1,685.8 155.3,689.1 155.3,691.0 155.4,688.3 154.9,691.1 155.6,690.3 156.2,689.2 155.3,695.9 156.2,691.8 155.6,691.7 156.6,698.5 157.0,700.2 155.6,697.9 156.6,699.4 157.3,701.0 157.4,699.2 155.2,702.0 156.3,705.9 155.8,705.4 156.6,708.0 156.7,705.3 158.4,706.9 156.8,709.0 157.2,709.1 158.0,712.0 158.3,711.5 159.5,712.2 159.8,712.5 160.0,715.9 159.9,715.1 159.7,716.2 160.1,718.3 160.2,718.5 159.5,719.3 160.1,720.0 160.4,721.3 160.1,723.7 160.3,724.7 161.3,725.2 161.3,725.3 160.1,726.1 160.8,729.0 161.1,728.6 160.2,727.1 161.6,727.6 161.0,727.8 161.2,726.2 161.3,723.6 160.8,724.1 163.0,720.9 162.2,721.4 161.9,717.8 161.8,718.0 163.3,716.8 162.4,716.1 162.6,716.5 163.0,713.6 163.6,712.1 162.9,712.0 163.4,712.5 163.4,712.3 162.9,708.8 163.7,712.4 163.4,707.5 164.1,707.8 164.4,707.5 165.4,705.3 166.1,704.1 166.6,702.8 167.5,702.0 167.3,701.9 167.6,699.0 168.3,699.5 168.0,698.0 168.1,697.4 168.4,697.8 168.9,695.0 169.3,695.5 169.6,694.0 169.8,691.7 169.6,691.9 170.0,690.3 170.1,688.2 170.5,687.2 171.3,686.9 172.0,685.7 172.8,684.1 173.0,687.2 172.5,686.5 172.7,686.8 173.3,689.9 173.4,685.5 173.1,688.8 174.1,690.8 174.1,694.5 174.3,690.8 173.6,695.1 173.8,695.4 173.9,693.2 174.1,693.1 174.5,698.7 173.1,701.8 173.3,700.0 174.4,701.2 174.7,700.4 175.1,698.4 175.5,699.0 176.1,699.1 176.6,695.8 176.7,695.0 177.3,698.4 177.3,698.7 176.8,699.0 177.8,697.6 177.5,702.6 177.4,701.2 177.8,702.6 177.9,705.3 177.4,706.4 178.4,704.8 179.0,705.7 178.6,706.9 178.6,709.7 179.1,709.1 178.7,713.6 178.8,712.5 180.1,711.4 178.7,711.3 179.9,715.6 180.1,715.8 179.6,717.5 180.2,717.6 179.4,719.0 180.5,719.7 179.6,720.2 180.5,721.8 181.0,721.9 181.1,726.7 180.4,726.7 180.1,728.2 181.1,724.5 181.3,733.8 181.4,729.1 182.1,731.4 182.0,733.2 181.4,731.7 180.9,730.6 181.0,730.2 182.0,730.0 181.8,728.1 180.5,727.3 183.1,726.7 182.3,730.0 181.7,724.7 181.5,721.6 180.3,725.5 181.3,722.5 184.3,719.3 181.3,719.4 182.1,719.0 182.8,714.9 182.6,717.9 183.0,714.6 181.9,710.5 182.6,713.8 182.5,710.0 183.7,714.6 183.0,709.1 183.5,712.6 184.3,713.2 184.4,712.6 184.9,714.8 185.3,713.8 185.2,714.9 186.0,711.2 186.1,712.4 186.3,710.8 186.6,709.3 187.2,709.2 187.4,708.0 187.4,704.1 187.7,704.4 187.5,704.8 188.6,711.1 187.3,709.3 188.2,708.6 188.2,709.9 188.3,712.9 186.9,713.1 188.5,715.9 188.8,715.8 188.1,715.3 188.2,713.5 189.2,719.3 188.9,717.9 189.0,715.9 189.4,718.8 188.9,722.0 190.1,724.1 190.2,722.2 189.6,722.6 188.6,724.1 189.8,725.0 190.5,727.0 189.1,728.3 190.4,730.3 190.0,729.4 190.1,732.0 189.3,730.5 189.8,734.1 190.2,732.8 189.7,737.9 190.7,732.3 190.9,734.3 189.6,735.5 191.1,739.3 191.0,737.8 190.3,740.0 191.4,743.7 191.2,744.7 191.4,742.5 191.6,743.3 191.2,749.6 192.2,750.6 191.9,749.6 190.3,752.8 190.6,753.6 189.9,748.8 192.0,749.5 191.2,756.0 191.8,753.1 191.2,756.3 192.1,754.8 192.0,760.6 191.5,762.0 192.2,761.1 192.4,758.6 192.0,764.1 192.3,762.2 193.1,762.0 192.4,760.3 193.0,758.7 192.7,760.7 193.7,759.3 192.5,756.7 192.5,757.8 192.9,750.9 191.5,750.3 192.3,752.3 192.8,753.1 192.8,752.9 194.5,750.9 193.5,747.9 193.9,747.0 193.3,748.7 193.4,747.3 193.0,744.3 194.9,744.6 193.3,747.5 194.2,742.1 195.1,742.0 194.9,742.3 194.1,738.6 194.7,735.9 194.7,735.6 195.1,738.3 195.0,738.2 195.5,739.8 195.0,741.5 196.0,741.3 195.5,743.1 195.7,741.9 196.9,743.3 195.7,745.7 196.7,748.6 195.7,748.9 196.6,749.7 195.8,751.9 197.7,751.2 197.0,751.2 197.3,751.3 196.9,750.0 197.5,748.9 197.5,749.0 197.2,747.7 198.0,748.0 198.4,744.5 198.1,744.6 198.8,744.1 198.3,741.9 199.4,740.3 199.7,740.1 200.3,741.9 201.0,740.7 200.4,745.0 198.4,747.2 200.2,746.4 199.3,751.6 199.7,749.2 200.2,748.0 200.5,752.1 200.6,748.9 201.4,753.1 201.1,755.2 201.5,757.9 200.5,757.0 201.2,759.7 200.9,756.3 200.5,757.5 201.0,760.7 200.5,763.2 202.2,763.6 200.2,759.4 201.3,763.6 201.4,767.1 202.0,767.2 201.2,766.6 202.7,765.8 201.5,769.8 202.0,772.5 203.0,771.9 202.6,770.1 201.9,774.3 201.8,776.7 202.5,774.7 202.5,774.5 202.7,774.6 202.7,774.7 202.6,773.3 203.2,770.2 204.0,767.1 203.4,767.2 203.4,764.9 203.5,766.1 204.2,766.7 203.7,764.5 205.0,762.6 205.4,764.7 203.9,762.9 204.4,760.5 204.3,760.2 205.1,759.0 205.3,759.3 205.1,758.6 205.2,755.9 205.9,755.0 205.6,752.8 205.9,753.5 206.4,752.0 206.9,749.8 206.9,749.9 207.0,748.4 207.0,747.2 207.8,746.0 207.8,744.7 208.2,745.0 207.9,745.4 208.8,741.9 209.4,741.5 209.3,739.8 209.7,740.2 210.2,739.4 210.1,737.1 210.1,737.2 211.0,735.0 211.4,735.3 211.0,734.6 211.4,733.0 212.1,731.6 212.4,731.2 212.5,730.7 212.6,727.2 212.9,729.7 213.4,726.2 215.0,726.6 215.8,724.7 216.6,728.6 216.1,728.8 215.7,728.5 216.2,727.8 216.9,728.7 217.4,732.9 217.1,730.2 218.2,732.4 217.3,733.4 217.1,737.3 216.9,735.3 217.7,737.8 217.9,737.0 218.1,738.8 218.9,737.1 218.9,736.5 219.2,736.4 219.9,736.8 220.5,734.1 220.5,735.9 220.6,738.4 220.8,740.7 220.9,738.5 220.1,742.4 221.0,741.3 220.9,741.5 221.0,742.4 221.8,744.9 222.0,747.1 221.4,746.2 221.8,744.6 221.4,749.2 223.1,748.2 222.4,753.1 222.3,750.4 222.1,751.9 222.8,752.8 223.2,753.9 223.3,758.3 223.5,755.8 223.7,756.2 224.6,759.5 225.1,758.5 224.3,762.1 225.1,760.5 223.8,762.5 225.7,764.3 225.2,763.8 224.7,766.4 225.8,768.5 225.1,767.6 224.6,768.1 225.0,773.2 226.2,769.3 226.8,771.2 227.0,773.8 225.4,771.8 225.9,776.6 225.4,773.6 226.9,771.5 226.2,779.8 225.4,779.7 226.1,780.2 226.7,783.3 226.7,782.6 226.9,781.8 227.2,782.2 226.6,784.7 225.9,788.3 226.4,785.7 227.6,791.7 227.6,789.4 227.0,789.9 227.0,787.5 226.3,791.8 227.9,793.0 227.5,793.4 227.7,795.0 227.3,791.0 228.1,790.6 227.9,788.2 227.6,787.8 228.6,789.5 227.6,786.4 228.3,789.1 228.3,788.7 228.7,783.0 228.5,781.7 228.4,782.2 229.6,783.6 228.7,781.6 228.9,778.8 228.0,780.3 230.8,774.2 230.2,774.4 230.8,775.6 229.8,773.1 230.4,773.9 230.8,771.3 231.0,772.5 231.2,770.1 231.5,770.6 232.3,768.0 232.8,765.3 232.6,767.3 232.9,766.2 233.8,763.8 234.5,769.1 234.9,767.3 235.5,768.0 235.8,769.1 236.5,770.2 236.9,770.0 236.6,775.6 237.4,774.0 238.5,775.4 237.5,775.8 237.3,774.9 238.1,776.9 239.0,776.9 238.4,780.1 239.1,779.9 237.9,781.6 238.9,783.1 239.2,782.5 240.3,781.0 241.2,780.6 241.6,779.4 241.4,780.3 241.9,783.2 241.5,783.2 242.0,784.7 241.1,784.7 241.1,790.2 241.7,785.8 241.5,789.0 241.3,784.5 242.2,790.5 241.7,793.1 241.6,791.0 240.9,793.1 240.7,795.1 241.3,797.7 241.6,796.4 241.0,797.8 241.3,795.8 241.5,799.3 242.7,807.8 242.7,802.0 241.7,803.3 242.4,802.3 241.5,805.1 241.5,805.7 242.6,808.5 241.5,807.9 242.7,809.8 243.2,806.9 242.8,812.8 244.2,813.2 242.9,813.4 244.5,810.0 242.6,814.2 244.1,817.1 242.4,813.3 243.3,818.5 242.7,818.9 244.0,818.1 243.1,821.4 243.7,821.6 242.9,825.4 243.5,823.8 242.9,823.5 243.2,827.5 244.2,824.3 242.6,828.1 243.9,828.3 243.5,833.7 243.1,827.9 243.5,837.3 244.0,830.2 245.3,831.0 243.8,835.9 243.6,836.8 244.6,839.7 243.3,840.1 243.2,839.3 242.8,838.7 244.4,837.7 243.6,842.6 244.7,843.0 244.5,845.8 243.5,845.1 243.6,846.6 243.7,846.8 244.2,847.4 243.2,852.1 243.9,855.4 244.2,853.2 244.0,853.8 245.9,850.7 244.1,856.9 244.7,858.3 243.8,855.0 244.2,856.0 243.5,858.1 243.9,858.4 243.4,860.8 243.5,862.9 245.4,859.8 245.2,859.9 244.4,862.5 244.8,866.2 244.9,862.7 244.2,869.2 244.1,867.7 243.5,868.7 244.4,871.3 244.8,871.7 243.9,870.7 245.0,872.1 244.9,874.0 243.4,874.8 243.8,874.3 244.8,875.0 244.9,876.9 243.5,878.9 244.2,881.2 244.5,880.3 245.1,879.8 244.2,883.9 243.9,886.0 244.4,885.7 245.0,884.4 244.9,889.3 243.9,889.6 245.6,887.7 244.8,889.8 245.6,891.6 245.6,893.4 244.7,893.2 245.4,893.4 246.0,899.2 246.2,897.2 245.9,895.0 244.6,899.2 245.3,900.8 246.5,899.2 246.7,900.5 246.6,904.2 246.2,902.0 247.1,905.4 247.1,904.1 247.4,907.0 249.1,906.3 247.9,908.0 247.3,907.0 247.3,908.5 248.3,905.3 248.6,905.5 248.7,902.8 247.8,902.0 248.5,900.2 247.2,899.4 247.7,897.3 248.4,898.6 248.9,893.7 248.5,897.3 247.9,899.0 248.5,891.0 247.3,897.0 249.1,894.0 247.2,891.9 249.5,890.5 249.4,892.0 248.9,888.1 250.2,886.0 249.3,891.1 249.6,884.0 248.8,886.7 248.5,883.5 248.4,881.0 248.9,878.2 248.6,883.1 249.3,878.5 250.6,879.5 247.8,876.7 248.3,871.9 249.5,873.4 249.3,874.1 248.9,874.8 248.9,877.1 250.4,870.9 249.7,869.8 249.6,873.8 248.8,867.8 250.9,865.8 250.4,868.4 249.1,866.2 249.1,860.8 250.7,865.2 250.0,861.6 249.6,861.6 249.2,864.3 251.2,864.2 250.3,868.0 249.9,867.2 250.1,869.6 250.0,868.8 249.8,871.5 250.5,870.0 250.7,870.4 248.6,874.1 251.6,872.8 250.3,872.6 249.7,876.6 251.4,879.7 250.9,877.7 250.7,879.8 251.1,874.5 251.1,881.9 251.6,881.3 250.8,885.6 251.4,884.4 251.1,887.2 251.3,886.9 250.9,890.2 251.6,886.2 250.7,887.8 251.2,888.3 250.7,895.3 250.7,888.5 251.5,891.2 250.7,895.4 251.3,894.6 251.7,898.7 251.8,899.7 250.5,896.0 250.9,897.5 250.3,899.9 251.6,901.4 252.0,902.3 251.8,902.6 251.8,905.4 252.5,907.2 251.7,907.3 252.0,908.0 252.7,905.2 252.1,910.9 251.2,913.2 252.8,909.6 253.2,914.3 251.5,909.2 253.0,915.3 252.6,912.9 252.7,920.1 253.3,919.3 253.2,920.5 253.1,917.4 253.0,916.8 253.3,921.6 253.8,920.2 253.5,920.6 252.5,922.7 253.3,926.4 253.6,930.5 252.7,927.6 253.1,926.6 252.9,930.6 252.9,928.8 253.7,933.5 254.5,935.8 252.2,929.6 252.1,931.6 254.8,932.1 253.8,937.5 253.0,937.2 252.9,938.2 252.7,938.9 253.4,940.5 253.5,943.3 253.2,941.7 254.1,939.8 254.6,938.7 252.8,939.1 253.5,938.4 252.6,935.1 254.2,938.0 254.8,940.4 252.8,930.1 252.8,934.1 253.6,933.2 253.7,929.2 254.0,928.7 254.2,929.5 254.2,927.0 254.4,926.3 254.3,924.6 254.8,924.7 255.5,921.5 254.2,921.5 255.4,924.0 255.7,922.8 254.4,919.7 255.2,919.9 255.4,923.9 254.2,919.3 255.3,915.3 255.2,917.5 254.8,913.6 255.2,913.0 254.4,908.8 254.5,913.5 256.7,909.5 254.4,911.4 256.0,907.5 254.9,904.6 254.8,906.9 255.0,903.0 256.2,907.3 255.0,904.7 256.0,900.3 254.7,901.8 255.8,902.6 256.2,901.2 257.4,896.5 255.1,896.2 255.1,896.5 257.0,895.1 256.3,893.2 256.9,891.3 257.0,896.8 256.5,896.9 257.7,895.7 257.6,903.4 257.5,898.3 259.0,900.2 259.3,903.1 258.2,905.8 258.9,905.4 259.0,908.1 259.6,905.3 259.5,905.9 259.6,909.7 259.3,908.4 260.6,899.3 259.3,903.1 260.6,900.7 259.4,900.8 260.3,897.8 260.8,899.4 261.3,897.9 261.0,892.3 259.7,894.3 261.3,895.2 262.7,895.4 261.6,890.0 261.6,889.8 262.2,891.2 262.4,892.2 261.8,885.6 262.1,890.1 262.2,886.4 262.6,884.8 262.6,892.1 262.5,889.7 262.5,888.4 262.5,888.3 262.3,890.5 263.5,893.5 263.0,895.1 263.6,894.4 262.7,897.1 262.7,891.2 265.0,899.2 264.2,898.2 263.1,897.8 264.0,899.8 263.0,897.9 263.4,902.5 263.0,902.9 263.9,903.7 265.7,905.1 266.1,902.9 263.9,904.5 263.9,907.9 265.5,908.4 264.5,905.7 264.7,909.7 265.9,910.2 265.7,911.0 265.4,909.9 265.9,915.9 264.4,917.4 264.8,915.8 265.9,916.2 265.7,920.6 264.8,922.3 264.7,919.4 265.6,921.0 264.8,920.5 265.3,927.7 265.7,923.4 265.8,924.8 266.5,922.3 266.8,922.8 266.2,925.0 266.7,925.2 265.1,921.8 266.2,920.8 266.2,918.4 266.1,916.5 265.9,918.8 266.9,918.1 266.3,917.3 267.1,910.5 267.8,911.3 266.3,912.4 267.1,912.5 267.6,913.1 267.8,908.7 268.5,907.2 267.2,904.7 267.6,905.3 267.9,903.8 268.1,906.3 267.9,903.7 269.2,905.3 269.5,907.1 270.5,910.7 270.4,912.0 270.2,913.8 269.8,913.8 271.1,918.3 271.1,914.3 271.0,914.4 271.6,917.2 270.7,917.7 271.4,916.3 271.6,917.1 270.5,919.7 271.4,920.9 271.0,920.6 271.6,922.1 271.1,926.6 271.8,928.5 271.2,925.2 271.8,929.7 273.2,927.8 272.6,928.2 273.0,930.8 272.0,932.2 271.7,936.1 272.5,936.9 272.7,933.6 272.8,935.6 272.5,936.2 271.7,940.4 272.1,943.8 272.4,944.0 273.4,940.0 272.9,944.6 273.6,945.2 272.6,941.2 272.2,946.8 273.5,943.5 273.1,949.7 272.9,946.2 273.4,943.8 274.2,948.0 272.9,949.2 273.2,952.0 273.6,952.8 273.2,954.7 273.7,958.1 273.9,956.6 273.4,957.9 273.1,958.5 273.8,961.7 273.9,959.9 274.2,959.5 274.4,962.3 273.4,959.6 274.3,964.1 274.3,966.7 274.2,965.9 273.6,967.0 275.1,965.5 272.9,964.6 275.3,960.8 275.9,963.2 275.8,958.5 275.0,962.2 275.1,960.6 272.8,961.6 275.6,957.1 275.6,958.8 274.2,956.3 274.1,956.7 275.1,954.7 275.8,951.7 275.2,949.0 276.3,955.8 275.5,947.6 276.4,947.8 276.1,948.1 277.1,949.0 276.0,942.3 275.6,942.9 277.3,941.1 277.0,942.5 275.8,941.4 276.0,936.4 276.5,934.6 276.9,935.1 276.8,937.9 276.9,935.0 276.9,935.1 277.0,931.7 277.4,933.0 277.3,933.2 277.0,933.0 277.3,929.5 277.9,928.6 276.6,927.2 277.8,925.9 279.0,923.3 277.1,921.9 277.7,921.2 278.2,924.9 278.0,923.7 278.6,917.5 278.4,918.5 278.7,918.9 279.8,919.5 280.3,914.5 279.5,917.7 281.1,918.0 280.3,912.2 281.5,913.2 283.0,908.7 283.0,909.6 283.9,912.1 283.7,908.0 283.5,907.7 285.0,904.5 283.6,905.6 283.4,907.8 285.1,901.8 285.5,902.8 284.5,903.1 286.7,901.4 286.2,898.6 285.6,895.8 284.2,895.3 286.0,896.5 284.9,894.0 285.9,895.9 285.8,892.8 285.4,889.5 286.0,890.7 286.8,891.0 286.1,892.8 286.7,891.4 286.9,886.9 287.8,888.2 287.4,886.8 286.8,890.4 287.3,890.2 289.7,889.2 288.5,892.8 289.1,899.2 288.8,894.8 289.0,895.4 290.0,897.4 291.0,894.7 290.8,900.3 290.0,896.2 290.1,894.9 291.4,894.3 290.8,890.6 291.6,888.7 291.3,889.6 292.6,889.1 292.5,885.1 290.5,888.7 293.5,885.8 292.2,884.0 291.9,885.8 292.7,882.5 293.7,880.3 293.2,880.6 293.8,879.5 293.3,882.0 294.1,885.2 293.6,888.5 294.1,885.9 295.2,890.7 295.1,883.7 296.4,888.9 295.9,886.9 295.6,891.4 295.9,892.1 295.5,895.0 296.3,895.9 296.8,894.6 298.3,896.3 297.8,901.6 297.4,897.4 300.1,900.3 299.5,899.6 299.4,899.6 301.1,901.0 298.8,896.2 300.6,896.0 300.0,893.7 299.7,897.9 300.9,893.0 300.9,896.3 299.4,892.6 300.8,889.8 300.7,890.6 300.4,886.9 299.9,887.4 301.4,883.0 300.8,889.4 301.4,889.7 302.3,880.8 301.3,880.3 302.4,883.9 301.8,880.3 302.4,878.1 302.2,876.5 303.2,879.5 302.4,878.9 303.4,874.4 303.3,872.7 302.5,872.9 303.0,873.2 302.9,872.9 303.6,872.9 303.7,867.5 302.7,870.8 303.7,867.9 304.0,865.3 304.3,866.1 303.7,863.8 304.4,861.5 305.1,861.6 305.9,863.1 305.4,862.3 306.9,862.8 307.6,859.2 308.9,859.1 308.0,860.0 308.4,855.1 310.0,855.3 310.1,855.2 311.1,854.1 310.4,851.8 310.8,851.5 312.0,852.9 311.8,849.5 311.8,849.9 311.9,849.7 312.4,848.3 313.6,850.2 313.6,844.8 313.6,846.0 312.5,841.7 312.8,844.6 314.2,840.6 314.0,840.5 315.4,846.3 313.1,847.4 314.6,846.1 315.1,848.2 314.9,848.7 316.4,847.7 314.2,850.0 315.9,848.7 315.3,850.6 317.2,858.6 316.3,853.2 317.2,855.1 316.6,853.2 317.2,853.4 316.8,851.1 317.9,852.4 317.4,848.5 317.1,848.9 317.7,844.4 317.8,844.6 318.3,844.6 317.8,843.1 318.0,840.8 319.7,843.1 318.7,843.4 318.8,840.4 317.6,840.4 318.7,838.7 318.9,835.4 319.8,834.2 319.4,838.8 319.5,832.2 320.5,831.4 318.6,833.8 319.2,834.0 320.7,836.4 320.4,837.0 319.8,841.0 320.6,841.3 321.5,841.2 321.9,845.1 321.8,843.1 320.9,842.3 321.4,842.3 322.0,843.3 321.6,844.8 321.4,846.5 322.5,845.5 322.7,849.0 321.6,850.2 322.7,849.1 323.1,844.8 323.3,846.3 323.7,846.2 322.7,845.3 324.2,845.9 324.7,841.7 323.7,837.7 324.4,838.2 323.7,841.8 324.4,845.0 325.6,838.3 325.3,836.6 326.1,836.9 323.4,836.1 324.4,832.6 325.6,832.9 326.3,828.5 325.3,832.2 325.8,827.9 326.1,827.6 328.4,830.6 329.3,829.2 330.2,830.2 331.4,829.0 332.2,831.3 333.2,830.1 333.7,832.9 334.3,828.1 334.0,827.9 335.2,825.4 334.7,825.6 335.0,824.6 334.9,826.2 335.8,824.0 335.1,820.7 337.0,822.4 336.8,819.4 336.6,819.3 337.5,821.0 336.1,817.7 337.4,815.3 337.7,816.8 337.6,820.9 337.6,820.6 337.7,820.4 337.3,822.6 338.2,824.6 339.1,825.1 339.2,822.0 339.0,825.3 338.5,825.6 339.2,824.5 339.2,829.5 339.7,829.5 340.4,831.2 339.1,828.9 339.7,833.0 340.1,833.3 340.3,836.5 340.4,839.6 340.7,835.8 341.9,839.6 341.4,839.4 340.8,838.4 341.8,843.6 341.3,840.6 340.8,841.9 341.6,842.7 340.0,843.0 342.7,841.2 341.4,841.9 342.5,840.3 342.9,836.7 342.8,838.2 342.7,838.6 343.2,835.6 344.2,833.1 344.0,834.0 344.1,831.6 344.0,828.4 344.2,832.1 345.2,831.3 346.0,827.2 346.4,828.3 346.2,830.3 345.7,828.4 346.4,825.9 346.5,825.6 346.9,823.7 346.6,823.6 347.3,819.5 347.8,820.6 348.3,819.1 347.9,817.4 347.3,816.1 348.6,818.1 349.6,815.3 349.6,814.0 350.3,812.1 350.8,810.8 350.9,809.1 350.7,810.5 351.5,806.2 351.7,808.5 351.5,808.4 352.4,806.4 352.4,807.9 352.9,803.3 352.7,804.5 353.6,802.9 353.4,800.2 354.9,799.5 355.0,800.7 355.0,799.8 355.5,797.4 355.8,795.0 356.1,794.3 356.4,794.3 355.9,798.6 356.8,797.6 357.7,800.2 356.8,797.9 357.1,801.4 358.2,802.6 358.8,803.3 358.0,801.8 358.0,803.9 358.9,803.4 358.2,805.3 359.4,806.8 359.2,805.2 359.6,806.9 359.9,810.7 361.2,808.2 360.6,811.1 360.3,811.1 360.2,817.3 361.4,817.0 360.8,814.0 362.6,816.1 361.7,817.6 360.1,822.8 361.0,820.2 361.7,823.6 360.4,822.6 361.0,821.7 361.9,821.2 362.2,823.7 361.6,824.4 362.7,829.6 362.0,829.6 362.1,830.8 360.8,827.0 363.3,826.9 362.5,836.7 362.8,833.7 361.8,835.7 364.2,834.7 362.9,838.3 362.4,836.1 364.8,837.5 363.2,840.9 363.5,839.0 363.2,841.7 365.1,843.4 363.7,842.7 363.9,840.9 364.2,840.2 364.4,840.9 365.2,842.4 365.6,835.1 365.8,834.8 365.3,837.3 365.6,833.4 365.3,833.1 366.6,834.5 366.1,835.6 366.6,831.7 367.8,831.1 367.8,828.3 367.2,828.0 367.2,830.7 367.9,825.8 369.0,827.3 368.4,826.6 368.4,829.5 368.3,828.0 367.7,833.4 367.3,835.7 368.6,835.9 368.3,837.5 368.5,836.4 368.8,837.1 368.4,835.2 370.0,842.4 369.7,840.1 370.4,844.2 368.2,841.9 369.8,843.4 369.4,844.2 369.8,842.7 369.5,849.2 370.4,844.7 370.2,848.6 370.9,848.1 371.7,849.6 370.7,853.4 369.9,848.9 370.7,854.9 370.9,858.0 371.8,856.2 371.1,855.3 371.6,855.6 371.0,857.0 371.1,852.4 371.1,851.7 372.3,853.4 372.2,851.7 372.2,848.0 371.6,849.6 371.7,845.1 372.0,848.9 371.9,846.3 373.0,845.6 372.8,843.0 373.5,840.2 372.8,838.9 372.3,842.2 373.8,839.5 374.6,833.2 374.2,837.8 373.7,831.3 374.1,832.8 373.3,835.9 374.0,828.8 374.6,831.1 375.1,831.3 374.9,831.1 374.1,827.3 376.0,825.8 374.8,827.1 376.6,824.8 375.3,823.7 375.9,827.1 377.2,825.4 378.5,825.8 379.1,830.0 379.2,828.9 378.9,832.5 379.1,829.4 378.6,831.1 378.6,833.2 379.4,831.7 380.0,835.9 380.6,835.8 380.3,838.6 381.0,840.3 379.2,840.0 380.4,839.4 379.7,839.1 380.4,843.0 380.6,844.2 380.8,844.8 382.5,841.4 382.6,845.0 381.2,845.1 381.6,846.9 380.9,846.9 381.6,847.1 381.6,843.0 383.4,844.6 382.8,840.3 382.1,840.8 383.7,842.0 383.0,841.4 383.6,838.7 383.2,838.8 383.6,835.8 383.7,837.7 384.4,835.0 384.2,831.4 383.6,831.3 384.6,834.1 384.5,828.2 385.1,829.7 385.0,829.0 385.3,826.1 385.3,827.1 385.8,823.9 385.8,823.7 385.5,824.3 386.3,819.9 385.9,823.1 388.5,820.5 387.6,820.1 387.8,816.5 387.4,816.0 387.5,817.9 388.6,813.0 388.3,813.9 389.5,814.2 389.4,810.6 389.7,811.2 389.9,808.3 390.6,809.7 391.8,806.7 391.4,805.1 391.5,803.2 391.6,805.5 392.2,804.8 392.2,802.7 392.9,803.7 392.0,802.0 393.0,799.0 394.3,800.5 394.3,799.2 394.1,797.9 395.3,797.9 395.7,794.3 395.8,793.2 396.3,794.0 396.4,792.1 397.2,795.6 396.8,794.4 397.2,796.2 398.5,797.5 398.6,796.8 399.0,796.6 398.7,798.9 399.2,801.7 400.3,802.1 401.1,800.2 400.6,802.7 400.8,804.3 400.9,802.5 400.4,801.7 400.5,800.2 402.9,796.8 402.0,799.7 401.2,799.8 401.5,795.0 402.0,791.6 402.8,788.7 402.6,792.0 402.1,791.4 403.7,792.0 402.6,786.4 403.8,790.9 403.3,789.8 403.7,787.1 403.4,785.1 404.1,786.9 405.0,783.8 404.8,781.6 405.6,782.4 405.9,780.4 405.8,778.8 406.1,778.5 407.1,778.5 407.5,777.2 407.9,777.0 408.6,775.4 408.7,774.8 409.1,772.0 409.1,773.1 410.2,770.7 410.0,771.2 411.1,769.0 411.1,767.9 411.9,766.4 411.9,766.6 412.6,764.5 412.7,762.6 413.0,764.0 413.3,761.6 414.5,761.5 414.4,761.3 414.4,761.7 414.6,759.2 415.0,758.9 415.8,757.3 415.6,757.6 416.2,754.3 416.4,753.2 416.4,754.9 416.7,755.8 417.1,755.6 417.2,760.3 417.8,759.6 417.1,761.2 418.1,759.1 418.0,760.8 418.0,763.1 419.2,765.5 418.5,763.8 420.1,766.7 419.5,768.9 420.3,770.7 419.4,768.3 419.8,769.9 419.9,767.9 419.2,772.6 419.8,773.1 420.7,773.2 420.5,778.8 421.4,779.3 421.6,775.2 421.6,777.4 421.7,777.9 422.2,776.1 422.1,774.8 421.9,773.8 423.1,773.9 422.9,769.9 422.3,769.3 423.3,768.2 422.8,768.3 423.7,769.8 423.6,769.3 423.7,767.5 424.4,767.0 423.0,763.2 424.6,765.6 424.1,762.0 424.5,762.0 424.2,760.4 425.3,757.6 425.2,758.7 426.4,759.2 426.4,755.1 425.9,754.2 426.0,752.3 426.2,756.0 427.7,754.2 428.5,752.1 428.7,752.0 429.6,749.5 430.7,750.0 430.6,748.1 431.1,746.9 431.8,750.1 432.5,750.0 433.2,750.8 433.7,750.3 434.0,753.5 434.9,752.9 434.3,754.2 435.6,756.2 436.2,755.6 436.4,756.3 436.4,760.2 436.4,759.2 436.9,759.5 437.5,760.7 437.6,763.7 437.9,763.2 438.1,764.8 438.1,764.2 438.1,768.5 438.7,766.2 438.7,770.6 438.9,767.6 438.9,770.4 439.6,771.2 439.4,771.8 438.7,775.6 440.2,770.4 440.5,774.5 440.6,775.3 440.5,775.1 441.8,775.5 440.1,771.9 441.4,771.0 440.7,769.9 441.5,770.0 441.1,766.7 442.2,769.2 442.0,767.2 441.6,765.1 442.4,764.7 442.9,764.5 443.2,762.8 442.6,762.0 443.0,762.1 443.9,758.9 443.2,761.0 443.7,759.2 442.7,756.0 444.3,754.5 443.9,754.2 443.6,754.6 443.9,755.0 445.1,750.5 444.8,750.0 444.7,752.5 445.8,751.4 445.3,754.2 445.7,753.9 446.2,755.5 446.6,756.5 447.3,757.4 447.3,756.6 448.3,759.7 448.3,762.9 448.2,760.5 448.6,761.7 449.0,762.7 450.0,763.2 448.8,765.0 447.6,767.0 450.2,768.9 449.1,763.8 449.1,772.3 448.4,769.8 450.2,773.9 450.0,774.3 448.9,772.0 450.4,776.0 449.6,778.1 448.6,776.1 449.6,777.2 449.8,776.8 450.2,780.3 449.4,781.4 450.2,780.6 449.7,781.7 448.6,782.4 448.9,784.4 449.1,789.6 450.6,786.0 449.6,785.5 449.5,789.1 448.4,792.4 449.4,790.8 449.9,790.2 449.6,794.8 449.5,794.9 450.2,796.3 448.3,796.1 449.0,798.7 450.7,798.6 451.0,796.6 450.9,799.6 449.3,799.1 450.2,801.2 450.1,802.6 449.9,802.8 451.3,809.8 450.5,807.2 450.2,805.6 450.4,806.9 449.9,807.1 449.9,809.7 450.4,808.0 451.9,814.1 450.2,814.6 450.7,815.0 451.1,816.1 451.9,816.0 449.6,814.5 451.2,816.1 450.4,818.8 450.2,816.1 450.7,820.9 450.5,817.7 451.2,820.2 451.8,822.5 451.1,823.7 451.6,825.4 452.5,823.1 452.0,822.5 451.0,818.3 451.7,818.6 451.6,818.1 451.5,818.2 451.2,815.6 452.7,814.2 452.7,814.3 451.4,812.2 453.6,815.4 452.6,809.5 451.7,811.3 451.7,808.4 452.4,808.3 454.3,810.0 453.7,806.7 453.4,807.3 453.7,807.9 453.7,805.2 453.7,801.3 454.3,799.1 454.6,800.5 454.1,796.6 454.4,799.8 454.3,796.4 454.0,799.1 455.3,799.6 454.2,800.3 455.6,801.1 455.3,801.6 456.4,803.6 455.3,803.5 455.0,802.2 455.5,803.7 456.0,805.9 455.3,807.6 457.0,812.8 457.7,810.9 457.1,811.0 456.3,813.1 457.7,813.2 457.4,813.2 457.0,812.5 458.1,813.4 457.4,810.5 458.6,809.1 457.3,807.2 458.5,807.3 457.2,803.6 457.7,807.1 458.9,806.2 459.0,805.1 459.2,802.8 458.5,801.6 459.3,799.3 456.6,800.8 460.2,796.0 459.6,796.4 459.3,798.9 459.7,795.5 459.0,798.1 457.8,801.6 459.4,800.3 460.9,803.3 459.1,802.5 459.2,804.4 459.3,807.4 460.3,806.3 460.9,806.6 460.1,808.9 460.7,811.5 461.8,810.3 461.8,813.8 461.8,811.1 459.5,814.1 459.6,819.2 461.3,815.5 461.5,818.7 459.0,818.0 460.2,822.6 461.6,818.7 462.1,818.6 461.6,822.1 460.8,822.5 461.4,825.6 461.6,827.1 461.5,824.2 463.1,827.1 460.8,830.3 460.5,832.1 461.7,830.1 461.5,827.8 461.5,827.9 462.5,828.3 463.1,826.3 461.9,823.4 461.4,823.5 462.3,828.4 463.8,821.2 462.6,826.4 462.1,824.9 462.8,820.4 462.5,820.1 463.1,822.7 463.5,817.6 463.9,816.3 463.2,815.0 463.1,811.9 462.7,812.9 462.9,808.0 462.2,812.5 463.5,807.9 463.8,808.8 462.7,804.6 463.8,806.5 465.0,803.1 464.1,804.9 463.1,801.5 463.4,804.7 464.3,803.7 463.9,802.8 464.1,800.0 464.5,799.1 465.0,795.0 464.4,794.8 464.6,798.5 465.1,794.3 463.3,794.1 463.7,792.9 466.3,791.2 464.1,790.3 466.3,791.6 465.4,789.6 466.1,790.9 467.1,787.1 466.3,782.9 464.6,784.0 465.3,782.4 466.8,782.0 465.3,783.0 465.0,781.0 466.0,772.5 466.5,779.7 466.0,773.4 466.7,774.7 464.6,776.2 466.6,776.4 466.9,773.2 467.4,774.3 466.7,776.3 468.3,777.2 468.7,776.9 468.2,777.1 468.8,778.9 468.4,780.0 469.1,782.8 469.4,782.5 470.7,785.8 469.5,782.6 469.0,790.2 470.4,789.6 469.9,790.2 469.9,788.2 470.1,793.9 471.2,792.1 469.5,791.8 469.4,793.2 471.1,794.4 469.6,794.8 470.3,799.3 471.0,800.8 471.7,797.6 470.2,801.9 471.6,799.9 472.0,799.5 470.8,805.4 472.5,804.6 471.3,805.1 471.6,803.3 472.1,806.2 471.7,808.2 471.6,809.6 472.3,809.7 472.9,812.7 472.5,810.6 472.2,810.6 472.7,809.9 472.5,808.6 472.4,807.6 473.5,804.9 474.5,808.4 472.7,804.6 472.4,801.4 473.1,802.3 472.5,798.8 472.5,802.1 473.3,796.0 473.5,796.2 473.0,798.0 472.7,798.2 473.3,792.8 473.4,792.8 474.5,790.3 473.6,793.5 472.9,788.6 474.8,789.0 473.8,788.4 474.1,786.8 474.5,786.6 475.3,789.3 474.6,784.8 474.1,783.9 475.0,788.4 473.1,784.7 475.6,780.0 474.8,779.4 474.5,780.8 475.3,781.7 475.3,782.2 476.6,784.5 476.1,785.2 476.6,787.7 476.2,786.7 475.8,788.8 477.5,790.0 476.1,792.3 476.6,794.3 477.6,789.3 476.3,793.8 477.6,796.4 477.4,795.1 478.8,796.2 478.0,796.6 478.0,796.8 478.3,796.5 478.5,793.8 477.9,792.9 478.3,793.1 478.3,792.6 479.4,792.5 478.3,789.0 478.3,792.2 479.2,788.8 479.0,784.8 479.7,783.9 479.8,784.9 477.5,782.3 479.5,780.9 479.7,780.9 479.8,780.1 480.0,777.1 480.0,780.3 481.4,775.3 481.0,776.7 481.8,774.8 481.5,773.8 481.5,771.4 482.0,773.1 482.9,769.9 482.6,771.5 482.4,768.8 482.9,768.5 482.7,766.6 483.6,763.9 483.4,763.8 484.0,764.5 484.1,761.4 484.2,763.2 484.1,760.9 485.5,760.3 485.3,759.7 485.0,758.9 485.5,755.0 485.5,753.4 486.3,754.2 486.2,753.4 486.6,752.9 486.5,750.2 487.3,749.7 488.2,751.0 488.6,748.9 489.4,749.1 490.6,747.5 491.2,745.8 492.3,746.2 492.8,745.0 493.5,743.7 493.7,743.9 493.6,742.8 493.6,739.3 494.3,741.2 494.3,739.6 494.6,741.0 495.4,737.7 494.4,736.6 495.2,736.6 495.8,735.0 495.7,735.8 496.8,730.8 497.0,732.5 496.8,732.1 497.4,730.0 497.5,727.8 497.5,728.3 498.1,730.1 497.2,732.0 498.7,731.6 497.8,733.7 498.4,734.2 498.0,736.7 498.1,737.4 498.9,738.3 499.0,739.8 499.2,738.5 500.0,739.5 499.7,740.4 499.8,743.1 499.7,739.6 499.5,742.4 500.3,746.4 500.5,747.6 500.6,746.6 500.6,748.4 501.0,744.1 501.7,745.5 501.8,744.6 501.9,742.6 501.4,742.1 502.4,740.4 502.6,740.5 503.2,739.3 502.8,736.6 502.6,737.1 503.2,736.2 503.4,734.6 503.8,732.5 504.3,736.1 504.1,736.2 504.9,738.0 504.6,736.9 505.0,737.6 503.8,739.3 504.6,741.3 503.9,742.1 505.1,741.0 505.5,743.7 504.5,745.2 505.9,745.7 505.5,748.0 506.1,747.9 504.7,747.0 506.1,750.1 506.7,750.4 506.5,754.0 505.3,753.7 506.4,751.6 505.8,752.9 506.0,755.9 506.5,759.0 506.2,757.1 506.4,758.6 506.9,759.1 507.1,759.3 507.6,761.2 508.3,763.8 508.3,763.9 508.2,764.9 507.8,765.3 508.4,767.1 509.7,767.2 509.5,768.2 510.6,771.8 510.3,773.0 509.7,771.1 510.7,770.3 510.8,773.1 511.0,770.9 510.4,771.8 511.2,770.3 511.2,768.4 511.1,769.3 511.6,768.8 511.4,765.6 511.6,766.2 511.9,764.5 511.9,765.7 512.4,764.8 512.2,761.4 512.9,760.2 513.9,760.6 513.0,756.0 511.9,755.0 513.3,759.4 513.3,755.6 512.5,754.7 513.8,754.0 513.4,752.8 513.9,751.2 514.2,751.4 514.3,749.3 515.9,749.2 515.4,748.3 516.8,745.9 516.4,744.1 517.1,746.3 517.8,743.4 519.2,744.7 518.4,745.4 519.2,748.4 519.2,748.9 518.2,748.3 518.6,750.4 519.1,750.9 519.7,753.6 519.6,756.6 519.3,756.3 520.2,754.4 520.5,753.6 521.2,752.9 520.1,754.6 521.1,750.6 522.0,749.5 521.8,751.4 521.5,748.3 521.6,746.9 521.2,743.6 521.8,743.7 521.4,745.7 522.4,742.7 523.0,742.4 523.1,741.1 523.1,741.0 523.0,735.6 523.3,737.2 523.6,736.5 523.9,736.5 524.3,737.0 524.8,732.4 525.5,733.0 524.7,732.9 524.7,730.7 525.6,729.4 526.7,730.3 527.1,733.3 528.0,734.1 528.8,732.5 529.3,730.2 528.4,732.1 528.7,731.3 529.4,731.5 530.3,731.1 530.2,724.5 529.8,725.4 530.0,725.2 530.1,725.3 529.7,723.4 529.5,722.8 530.2,720.9 530.5,718.5 530.0,720.6 530.1,717.4 530.5,716.3 532.1,713.7 531.1,713.8 532.4,715.5 533.3,714.8 535.0,715.7 536.2,715.3 536.6,715.3 536.9,716.8 537.4,717.4 537.8,718.5 538.4,719.7 538.1,719.3 539.2,723.4 538.9,723.0 539.7,723.1 540.6,725.2 540.5,724.9 541.3,727.7 540.9,727.7 541.9,729.1 542.0,729.4 542.9,727.8 542.0,734.2 542.2,733.4 543.4,735.2 542.9,734.2 543.0,737.7 543.4,738.7 543.6,740.8 543.6,737.2 542.7,743.1 542.6,741.1 543.2,740.5 543.2,747.9 543.1,744.6 543.5,743.5 543.1,747.3 543.4,748.9 543.6,748.1 543.4,746.7 543.0,746.0 544.7,743.7 543.9,741.9 545.0,744.0 544.5,741.3 544.9,741.3 544.4,739.7 545.5,740.3 545.4,737.9 545.7,738.3 546.0,736.9 546.0,732.6 545.7,733.6 545.9,732.5 546.1,733.5 547.5,734.7 546.6,730.0 547.3,730.7 547.7,728.1 547.7,725.7 547.8,726.6 548.4,726.8 548.0,724.6 548.9,722.6 549.0,725.0 550.0,723.2 549.8,720.0 550.2,720.6 550.0,723.8 550.8,723.8 551.3,724.3 551.3,727.9 551.0,727.0 551.3,728.7 551.7,729.2 552.6,730.7 552.2,732.4 552.3,731.8 553.0,732.5 553.2,731.8 553.6,730.7 553.3,730.3 553.9,728.4 553.0,728.1 554.7,728.0 554.2,727.2 552.3,726.1 553.9,723.2 554.0,724.4 553.0,724.6 553.6,720.0 554.8,718.2 554.8,719.3 554.7,715.4 554.7,718.4 554.3,713.2 554.9,716.9 555.2,712.0 554.9,713.9 555.5,713.3 555.3,711.7 555.3,709.1 555.9,709.1 555.7,706.6 555.9,707.0 556.2,705.5 557.3,704.3 556.8,704.0 557.6,703.9 558.3,703.3 558.2,700.9 559.1,700.2 559.2,698.1 559.9,700.4 560.9,700.3 561.2,701.9 561.7,701.3 562.0,701.5 563.6,703.3 563.9,704.4 564.3,704.3 564.1,703.1 564.2,701.4 564.8,700.7 563.9,700.0 564.9,697.6 564.9,698.3 565.1,699.0 565.7,695.6 565.1,695.0 565.3,692.3 565.5,694.9 565.7,693.4 565.8,688.8 566.2,689.4 566.2,691.2 566.4,688.1 566.2,685.6 567.4,686.0 568.4,686.7 569.9,685.2 570.9,684.1 571.4,687.5 571.1,687.3 572.0,688.2 572.7,687.6 572.0,690.3 573.0,692.3 572.8,689.6 572.7,693.5 573.0,693.7 573.7,695.6 573.7,695.7 574.1,697.4 574.1,697.3 574.5,697.7 574.2,696.4 574.8,693.1 574.5,692.9 575.3,691.5 575.5,693.2 575.5,689.4 575.9,688.7 574.9,689.2 575.3,687.9 576.2,687.0 576.2,684.8 576.4,684.1 577.8,684.8 578.6,685.7 579.6,684.6 580.9,684.3 581.9,684.1 582.5,685.0 583.1,687.9 583.9,687.8 584.4,688.8 585.0,688.8 585.2,689.7 585.5,692.9 586.3,691.0 585.9,693.8 585.3,695.0 585.8,697.0 586.2,697.8 586.1,696.7 586.5,698.4 586.9,701.1 586.6,700.6 586.9,702.5 587.2,702.7 587.5,702.4 587.9,703.9 587.1,706.3 586.9,707.4 588.1,708.4 588.4,708.5 588.1,709.1 588.0,711.9 588.1,708.5 588.6,707.3 588.8,703.8 587.8,705.9 589.9,702.6 588.3,704.0 589.6,701.7 589.1,700.5 589.2,699.3 589.0,698.0 588.8,699.2 589.1,698.3 589.2,695.4 589.0,695.6 590.0,695.5 589.3,689.8 589.5,692.4 590.1,691.7 589.0,692.1 589.9,688.7 590.3,689.0 590.6,688.1 590.1,685.6 590.5,684.1 591.0,684.6 592.6,683.4 593.5,683.7 594.4,681.7 595.7,683.5 596.8,684.8 597.5,684.1 597.7,687.8 597.9,685.1 596.7,687.6 598.3,688.8 597.8,689.6 598.5,691.3 598.9,689.8 597.8,693.0 598.3,695.6 598.0,693.2 598.2,697.2 598.5,695.8 598.9,700.5 599.3,699.3 599.3,701.7 599.6,700.7 599.8,701.9 599.8,702.8 599.8,702.5 600.1,702.4 601.0,700.4 599.9,699.9 600.2,699.3 600.7,696.5 601.2,695.9 601.5,696.0 601.1,695.1 601.1,692.8 600.9,693.0 601.2,689.8 601.8,688.5 601.9,689.1 602.0,687.3 601.3,688.8 602.2,685.6 602.2,686.0 603.3,689.3 604.1,690.0 604.7,689.7 605.3,690.3 605.4,692.4 605.5,691.5 606.2,694.3 606.5,694.3 607.0,695.8 607.6,697.5 607.4,697.9 607.3,700.3 607.4,698.0 607.8,702.0 608.4,701.2 608.7,700.6 608.8,699.2 608.4,699.2 609.3,698.7 609.0,698.4 608.5,696.1 609.4,693.9 609.8,693.6 610.4,694.0 609.9,692.9 609.8,691.8 610.2,691.0 610.8,689.2 610.8,688.7 611.0,688.0 611.3,687.4 612.0,684.2 611.0,683.3 611.6,682.5 612.7,683.6 613.8,684.6 614.5,684.0 615.9,683.3 616.9,682.6 617.8,682.5 618.3,683.3 618.7,685.4 620.1,685.3 620.0,686.4 621.0,687.6 621.8,689.7 622.5,688.8 623.1,688.7 623.3,687.0 623.7,685.4 623.7,686.7 624.8,685.8 625.3,682.3 625.6,681.7 626.6,682.5 628.2,684.3 629.0,683.3 630.3,682.5 630.7,684.1 630.6,684.4 630.5,687.6 630.9,687.9 630.6,691.2 630.4,692.9 631.9,691.8 631.2,694.2 630.9,693.4 631.4,694.3 631.3,695.5 631.5,697.3 631.7,695.2 631.7,699.3 632.3,699.8 632.7,698.3 631.6,701.3 632.9,701.0 631.5,703.7 632.4,703.1 631.8,704.5 631.5,706.8 633.1,707.1 632.6,707.4 631.7,710.1 632.7,709.1 632.5,709.1 633.0,708.4 633.3,708.3 633.4,705.1 633.0,704.0 633.2,704.5 633.3,703.8 633.0,701.6 633.4,700.1 633.6,697.5 633.1,699.8 633.7,697.9 635.0,695.7 633.8,693.8 634.7,693.2 634.0,692.8 634.7,694.0 634.3,690.4 634.1,689.8 634.0,690.5 633.9,688.0 635.0,688.6 635.0,684.9 634.9,686.5 635.1,682.2 635.0,682.5 635.8,682.2 637.7,682.9 638.6,682.8 639.7,681.7 639.9,684.8 640.1,684.5 640.9,686.5 641.2,686.8 640.9,689.5 641.6,688.8 641.6,689.6 641.6,690.8 642.0,691.6 642.7,691.1 643.5,693.6 643.5,694.6 643.9,696.9 644.0,696.1 643.7,697.6 644.7,699.8 644.6,697.8 645.2,699.7 645.1,698.8 646.1,700.1 645.2,698.5 645.8,696.5 647.0,693.0 646.5,692.9 645.9,693.2 646.8,691.9 646.4,691.9 646.5,690.8 646.7,691.6 645.6,687.8 647.0,686.8 646.6,685.4 647.3,685.3 647.6,684.9 647.5,682.5 648.2,683.1 649.8,683.9 650.8,682.7 651.3,683.3 653.1,683.0 653.8,681.7 654.8,681.5 655.8,682.0 656.7,683.2 658.1,682.9 659.0,685.0 660.0,682.5 661.6,683.0 662.2,685.5 663.5,683.9 664.7,682.5 666.0,682.8 666.8,681.9 667.8,681.7 668.0,685.3 668.6,684.6 668.0,686.6 668.8,687.2 668.7,686.7 669.0,689.0 669.1,689.1 669.2,690.5 669.8,691.0 669.9,691.1 670.1,693.3 670.5,695.1 671.1,693.4 671.3,695.9 670.9,696.6 671.2,695.2 671.5,696.1 671.9,695.7 671.9,694.0 671.7,692.6 673.0,692.1 672.7,691.8 671.9,687.5 673.0,687.2 673.5,686.2 673.1,686.8 673.6,685.8 674.3,682.7 674.6,681.2 674.1,681.7 675.5,682.9 676.4,682.8 677.5,682.5 678.8,681.7 679.4,683.6 679.2,683.7 679.2,686.0 679.3,684.7 680.0,686.2 680.0,690.1 679.4,689.7 679.6,691.1 679.8,691.2 681.1,693.1 679.5,691.2 678.9,693.5 679.8,696.3 680.7,697.4 680.2,697.1 679.9,697.6 679.9,697.0 680.4,700.2 679.6,701.7 680.8,704.4 681.2,702.4 680.2,704.0 680.2,703.7 681.7,706.1 682.0,706.1 680.7,711.9 681.3,709.3 681.9,708.5 681.3,709.5 682.4,713.0 681.8,712.7 681.9,713.8 682.4,715.7 682.5,717.1 683.0,717.7 683.4,718.4 684.0,719.6 684.0,717.7 683.9,717.1 684.1,714.9 683.5,716.2 684.8,710.8 684.3,711.3 684.0,709.8 684.5,709.4 685.1,707.6 684.1,707.8 685.3,708.4 685.1,705.5 684.6,705.2 686.0,706.3 684.7,702.5 684.4,702.4 685.6,698.7 685.9,699.9 685.0,701.9 685.4,698.8 685.9,697.3 685.8,695.0 686.0,694.4 686.5,693.2 686.4,693.8 687.0,692.2 687.0,690.1 686.8,690.8 686.5,688.3 687.3,685.7 687.7,686.6 688.3,686.4 687.8,683.6 688.1,682.5 689.2,682.6 690.3,684.1 691.6,684.8 692.8,682.5 693.9,683.9 694.7,681.9 695.9,681.7 696.5,683.7 697.1,685.1 698.2,684.5 699.1,686.8 699.4,685.6 699.2,689.8 699.5,688.3 700.1,688.5 699.9,690.9 700.5,692.9 700.4,693.2 700.0,695.5 700.6,694.9 699.7,696.1 700.9,695.6 701.4,696.8 700.5,703.2 700.3,700.1 701.0,700.9 701.2,703.5 701.5,702.6 701.8,702.3 701.7,703.6 701.2,702.7 702.9,703.6 702.2,699.6 702.2,699.8 701.3,699.1 703.1,697.0 702.5,699.0 702.2,697.3 702.8,696.0 702.8,695.1 703.3,694.0 702.9,692.6 703.6,689.9 703.7,690.6 702.8,688.1 703.2,686.2 704.0,687.9 703.4,685.4 704.1,685.6 704.2,683.8 704.1,682.5 704.2,683.5 704.3,685.3 704.5,684.4 705.0,685.3 705.0,685.8 705.2,690.0 704.5,690.4 705.0,690.8 705.3,691.6 706.4,694.6 705.8,693.9 706.3,694.4 706.4,696.1 706.6,697.6 706.8,698.4 706.9,699.2 707.2,699.7 707.3,698.9 707.5,699.2 708.3,697.4 707.9,698.4 708.2,693.1 708.2,695.0 708.3,694.3 708.7,691.4 708.8,692.0 708.4,689.6 708.8,689.9 708.9,687.9 708.7,685.9 709.4,687.0 709.2,686.2 708.8,682.8 709.4,684.2 709.5,681.7 709.9,682.9 710.0,684.1 710.6,684.2 710.3,686.2 711.0,687.4 710.8,689.5 711.9,689.8 710.9,690.9 711.6,691.2 712.1,692.3 712.1,695.5 712.3,694.9 712.4,696.4 712.5,695.3 712.9,697.8 713.4,698.1 713.5,698.5 713.5,697.1 714.4,695.0 715.3,695.3 715.0,694.2 714.7,692.3 715.3,692.4 715.5,691.0 715.8,688.9 716.2,687.4 716.9,688.6 717.1,686.3 717.1,686.2 717.3,684.1 717.9,684.9 718.3,685.7 719.1,686.3 719.8,687.7 720.6,689.5 721.2,688.8 721.8,689.5 722.2,687.8 722.9,685.6 723.4,684.4 723.8,684.4 724.4,682.5 725.2,686.3 726.2,684.6 727.4,683.4 728.3,684.1 728.7,685.0 729.2,686.8 729.6,687.9 730.0,689.1 730.4,689.5 731.2,691.2 731.6,693.6 732.2,691.9 732.6,692.9 733.0,693.7 733.6,695.1 733.9,696.3 734.7,698.6 734.4,697.6 734.9,698.2 735.3,699.7 736.1,699.8 736.2,698.1 736.4,696.6 737.2,696.1 737.6,695.8 737.9,695.3 738.5,693.8 738.8,693.0 739.6,690.7 739.8,691.7 740.0,688.8 740.7,688.8 741.5,690.4 742.2,690.7 743.1,691.9 742.6,689.8 743.9,697.3 741.9,697.8 741.9,698.0 743.6,692.7 743.2,698.9 743.1,700.3 743.3,700.1 743.6,703.7 743.2,701.0 743.3,704.8 743.1,708.0 743.8,708.1 743.4,704.4 744.2,706.5 743.8,703.7 744.4,706.8 743.5,708.2 743.7,714.6 744.7,711.9 744.4,714.9 744.0,715.1 744.8,714.4 744.3,713.5 744.2,720.4 743.2,719.8 744.9,717.4 744.1,719.0 744.6,721.9 744.3,719.9 745.0,720.7 745.1,721.1 745.2,727.2 745.0,731.8 746.2,727.8 745.5,729.4 746.2,728.9 745.6,727.6 744.5,733.3 744.1,732.4 744.6,732.3 745.8,735.7 744.6,738.7 745.4,736.3 744.8,740.5 745.3,745.2 745.2,738.2 743.4,738.6 745.5,736.9 745.5,741.9 745.5,740.5 745.1,741.9 745.3,738.5 746.4,737.3 746.1,738.6 745.8,738.4 745.9,736.2 746.5,732.9 745.4,734.5 747.3,730.4 747.6,730.5 746.7,731.1 747.8,729.9 747.8,727.7 746.2,730.1 748.3,728.2 748.5,725.2 748.1,724.1 747.5,724.1 747.9,720.8 746.9,718.8 748.2,719.9 748.7,719.2 748.8,717.1 748.4,716.2 748.6,715.3 749.7,716.3 750.9,716.9 751.5,719.5 751.2,716.9 750.9,721.5 750.3,722.4 751.4,724.1 751.7,727.0 751.6,724.8 751.5,728.8 750.8,731.0 752.1,726.2 751.9,725.8 751.9,729.9 753.0,733.1 752.6,729.0 751.0,733.9 752.8,732.3 752.7,735.7 751.3,736.6 752.7,743.6 750.1,743.0 752.5,738.8 752.9,739.0 751.8,736.1 752.4,735.2 752.9,737.4 753.3,732.5 752.3,732.2 752.8,734.5 753.3,728.9 753.6,730.6 754.6,730.5 752.7,730.7 753.4,727.6 752.7,726.1 753.9,724.3 753.5,725.7 754.8,726.1 753.5,717.6 753.2,718.8 753.6,721.5 754.2,719.6 753.5,717.8 754.4,719.2 754.7,718.2 754.6,716.9 754.9,718.2 754.2,716.2 755.2,708.5 753.8,711.6 754.9,712.3 755.9,710.5 754.8,708.4 754.8,707.4 755.2,704.5 755.1,705.2 754.8,704.7 755.3,702.2 755.6,701.2 756.4,701.8 756.1,699.8 756.5,701.9 757.0,698.7 757.1,698.3 757.4,698.7 757.7,695.2 757.9,694.4 758.2,693.2 758.6,691.9 758.9,690.5 758.9,690.6 759.5,688.8 760.1,689.7 759.7,692.3 759.5,693.5 760.0,695.6 760.6,694.7 761.0,694.5 760.9,697.6 761.9,698.6 761.0,698.2 760.9,700.0 761.3,700.4 762.7,699.8 761.9,704.1 762.3,704.0 762.6,700.8 762.6,706.3 762.7,705.9 762.6,704.3 763.0,704.3 763.2,704.0 763.8,702.8 763.6,701.3 764.6,699.0 764.2,701.7 764.7,699.7 765.1,698.8 765.4,697.4 765.8,694.9 766.3,693.4 765.8,692.1 766.6,691.9 767.0,692.3 767.3,695.0 767.7,695.6 767.4,695.2 767.8,697.9 768.4,699.3 768.8,698.3 768.5,700.5 768.0,700.5 768.9,703.6 768.9,702.8 769.5,703.8 769.6,705.5 769.5,704.7 770.4,707.7 770.4,708.8 771.1,710.5 771.3,710.6 771.2,710.6 771.5,712.8 771.7,713.5 771.9,715.7 772.3,714.5 772.7,716.5 772.6,716.6 773.1,720.1 772.1,718.1 772.8,717.6 772.8,720.7 772.4,721.6 773.4,721.9 772.2,723.8 773.2,725.1 773.1,726.3 773.7,727.4 772.1,728.7 774.0,728.9 774.2,731.1 773.2,732.1 774.6,730.9 774.4,732.5 774.9,732.5 774.3,735.6 775.6,738.3 774.8,736.6 775.1,738.8 775.6,740.0 775.9,738.5 776.2,741.8 776.7,741.6 776.1,740.8 776.7,743.4 777.0,745.2 778.0,745.9 778.0,748.4 778.2,746.9 778.8,749.0 779.6,748.3 779.4,752.4 779.8,751.2 778.6,752.4 780.1,747.9 779.8,748.1 780.8,753.0 779.6,744.8 780.4,745.7 780.3,742.5 779.7,745.4 780.4,739.7 780.2,740.9 780.4,740.5 781.0,738.0 780.6,738.8 779.6,735.4 780.7,738.9 781.0,737.6 782.3,735.1 780.6,733.9 782.2,733.4 782.3,731.4 780.9,731.1 781.3,734.9 781.9,728.7 782.7,726.8 781.1,728.4 782.2,724.7 783.1,724.7 782.4,721.8 783.2,720.7 782.4,722.2 783.0,721.3 783.1,718.7 783.9,717.3 783.9,718.3 783.6,718.1 783.1,716.1 783.2,714.6 783.3,711.9 784.2,712.6 784.4,709.6 784.5,709.1 785.0,709.9 785.3,709.4 785.4,707.3 785.5,706.9 785.9,704.4 785.8,703.8 786.3,701.8 786.4,700.8 786.5,700.8 787.3,700.6 786.9,698.1 787.3,698.7 787.9,697.6 787.8,696.4 788.2,695.8 788.9,693.6 789.0,693.0 790.0,690.9 790.3,691.3 790.5,689.5 791.3,688.6 791.6,687.2 791.3,688.4 791.9,690.5 792.4,691.2 792.4,690.9 793.6,692.7 793.2,695.2 793.3,694.8 794.6,695.8 794.4,697.8 794.8,698.0 795.3,698.2 795.5,701.8 796.0,700.8 796.2,701.2 796.5,702.4 796.9,700.0 797.5,697.4 797.6,697.6 798.0,697.4 798.1,696.2 798.2,694.7 799.5,692.5 799.4,691.9 800.1,690.4 800.7,691.3 801.4,689.1 802.0,688.7 802.8,688.3 803.7,687.9 804.1,685.6 803.5,688.3 804.4,686.9 804.8,689.8 804.7,692.1 805.0,692.0 805.4,693.0 804.9,691.5 805.3,694.4 804.9,696.1 805.6,696.4 805.5,698.8 805.5,697.6 805.4,700.2 806.9,700.9 805.6,699.6 806.7,701.9 806.1,703.7 806.0,702.8 805.9,705.8 806.4,705.9 806.9,705.6 805.3,703.9 807.5,706.2 806.8,703.7 807.1,699.3 806.2,699.5 806.4,702.2 806.9,698.6 806.8,697.7 808.9,695.7 807.1,697.9 807.3,695.2 807.1,693.3 808.5,694.9 806.9,691.7 806.6,691.0 806.3,689.3 807.5,689.2 808.2,690.8 808.0,686.7 808.0,684.8 808.8,685.5 809.3,684.9 810.5,683.6 811.0,682.9 811.9,681.7 812.7,683.4 813.8,682.8 814.8,682.0 816.2,681.3 817.1,681.7 818.1,681.7 818.8,682.1 819.7,687.1 820.0,685.3 820.9,684.4 821.2,685.6 821.0,685.9 821.9,690.0 822.3,689.2 823.0,690.5 823.0,690.8 823.0,692.4 823.8,694.2 823.1,695.0 824.4,695.0 825.0,695.6 825.6,693.3 826.0,691.6 826.5,693.3 827.1,689.2 827.5,688.8 827.8,691.8 828.2,689.9 828.5,693.1 828.8,692.4 829.4,694.5 829.4,696.0 829.7,696.1 830.5,696.9 830.6,698.1 831.4,700.4 831.4,701.1 832.2,703.6 832.6,703.1 832.7,703.9 833.0,704.4 832.8,702.7 833.2,701.7 833.9,704.0 834.2,701.1 833.5,698.7 834.3,698.6 834.5,697.0 834.4,695.4 834.8,696.6 834.1,694.8 834.3,694.1 834.8,692.8 835.2,691.0 835.0,689.1 835.3,690.6 835.7,687.6 836.0,687.5 835.6,686.6 836.1,684.8 837.3,686.7 838.3,686.2 839.5,685.5 840.1,686.0 841.6,684.8 842.5,686.3 843.2,685.1 844.7,684.8 845.7,686.0 846.3,684.3 847.7,684.4 848.3,682.8 849.4,681.7 850.7,682.5 851.2,682.1 853.0,683.1 854.2,682.1 855.1,681.6 856.2,681.8 857.2,681.7 857.8,683.5 858.9,684.2 859.7,684.3 860.6,687.1 861.0,685.7 862.3,686.4 862.6,688.4 863.4,687.2 863.6,689.2 864.5,690.4 864.9,690.5 865.2,692.2 865.2,692.9 866.0,694.1 866.0,695.0 866.6,695.0 867.3,695.0 867.9,695.7 868.2,692.5 869.4,692.2 869.8,691.4 870.3,689.8 871.2,688.8 871.7,690.4 872.5,687.8 872.9,688.0 874.0,685.9 874.7,685.0 875.3,683.9 875.9,682.5 876.5,683.1 878.1,682.9 879.0,682.9 880.1,683.1 881.5,682.9 882.2,682.5 883.0,683.7 884.0,684.1 884.5,685.7 885.5,687.7 885.7,687.3 886.6,689.0 887.5,687.6 888.4,688.8 889.3,688.3 889.8,689.0 890.6,687.0 891.4,686.1 892.3,686.0 892.8,686.0 893.8,686.0 894.7,684.2 895.0,684.0 896.2,682.5 897.2,683.4 898.6,682.4 899.6,683.8 900.6,682.2 901.6,683.1 902.6,684.8 903.6,682.5 904.7,682.5 905.6,682.5 906.7,682.5 907.4,682.7 908.7,682.9 909.8,682.9 910.9,682.1 911.9,681.7 913.0,682.1 914.2,682.9 914.9,683.1 916.0,682.5 917.5,682.4 918.3,682.2 919.5,683.4 920.5,682.4 921.9,681.9 922.8,681.7 923.0,685.0 922.1,682.0 923.0,685.8 923.5,684.6 923.6,687.0 923.7,688.6 922.0,692.2 922.9,690.5 923.2,690.5 922.9,690.2 923.2,692.3 924.2,692.5 922.8,694.2 922.6,696.9 924.2,694.8 922.9,701.5 923.5,695.5 922.6,699.1 923.6,701.0 923.4,696.9 923.9,701.8 924.1,707.1 923.4,706.7 923.0,709.4 923.3,706.7 925.1,706.4 922.3,709.5 923.0,710.7 924.7,709.0 925.0,713.5 922.8,713.8 923.5,716.6 923.3,713.3 923.6,715.8 923.6,719.1 924.9,718.8 924.7,723.1 924.4,718.6 922.9,723.0 923.6,723.9 924.0,721.9 923.6,722.8 924.8,724.3 924.5,729.2 924.6,728.6 922.9,728.8 923.8,729.6 924.2,730.7 925.1,735.4 924.4,732.5 924.7,731.2 924.4,732.4 925.1,729.6 924.2,730.5 925.6,731.6 924.4,726.0 924.4,725.4 925.8,724.2 925.0,724.0 925.2,722.2 925.7,722.5 925.7,719.5 925.5,723.3 925.6,718.4 926.2,719.6 924.9,716.7 926.1,718.1 925.9,714.1 926.0,715.0 927.5,715.3 926.1,713.3 927.0,712.1 927.2,711.4 926.5,707.2 926.7,710.6 926.1,705.3 927.6,704.6 926.4,702.9 927.0,704.3 928.0,700.0 927.5,701.2 928.3,703.1 928.0,704.5 928.2,704.6 928.9,704.7 929.0,705.6 929.5,708.5 929.5,709.7 930.2,709.1 929.7,709.0 929.6,711.7 930.0,713.0 930.6,713.0 930.4,715.4 931.0,715.7 931.3,718.1 930.9,720.0 931.7,717.5 930.8,718.7 931.2,718.9 931.0,723.8 931.4,722.9 932.1,724.9 932.3,726.7 932.4,724.1 932.5,724.8 932.3,727.6 931.9,729.4 932.5,729.4 932.6,728.2 932.5,732.9 932.2,726.1 933.4,723.4 933.5,725.7 932.9,724.6 933.3,724.2 934.2,723.4 933.7,720.5 934.4,720.4 933.6,719.6 933.8,717.3 934.3,717.2 933.8,716.9 934.7,717.2 934.1,713.6 934.8,712.2 935.4,713.4 935.2,713.7 936.2,719.5 936.4,716.6 935.4,716.6 935.6,717.3 935.5,718.7 936.0,722.1 935.5,720.8 936.3,725.3 936.1,726.8 937.1,724.1 936.8,726.7 935.8,728.0 936.9,727.7 936.7,730.0 937.2,729.4 937.4,728.5 937.9,727.0 938.3,729.4 939.3,725.6 938.9,723.2 939.4,724.4 940.4,722.7 940.3,721.6 940.4,721.6 940.9,721.1 940.8,720.0 941.5,718.5 941.7,717.2 941.8,715.9 942.7,714.6 942.7,715.0 943.0,713.8 943.6,712.2 943.5,712.9 943.9,710.3 944.0,708.8 944.2,707.5 945.0,707.9 945.4,709.2 945.7,712.0 946.8,712.5 947.3,712.2 947.3,709.2 948.4,712.2 948.1,709.0 947.9,709.9 947.9,705.5 948.2,706.6 947.6,705.4 948.8,707.1 949.2,703.4 949.5,703.4 949.6,702.6 949.1,700.8 948.7,696.8 949.7,698.1 950.2,699.9 949.9,701.5 950.5,699.2 951.1,702.5 951.2,703.5 951.6,704.4 951.3,707.3 952.3,706.4 952.0,707.7 952.7,708.8 953.1,709.3 954.2,709.7 953.6,710.6 954.2,710.8 954.1,710.3 954.0,708.4 953.7,709.9 954.6,706.6 955.0,706.7 954.9,705.6 955.3,701.8 955.4,702.5 954.5,701.2 954.3,701.7 955.0,698.3 955.9,699.7 955.3,696.9 955.6,695.3 955.2,695.9 955.9,693.4 956.6,691.7 956.6,694.4 957.0,690.8 957.4,690.6 958.1,688.6 958.7,688.3 958.6,686.5 959.0,685.2 959.6,684.8 960.4,683.5 960.6,682.5 961.8,682.8 962.8,684.2 963.7,683.0 965.1,682.3 966.1,682.7 966.9,682.5 968.1,682.8 969.0,684.8 970.1,683.6 971.2,684.7 972.0,682.9 973.1,682.5 972.9,682.6 973.9,688.1 973.1,688.2 971.4,688.7 973.7,688.2 973.6,686.9 974.2,690.8 973.9,689.3 972.8,695.5 973.2,696.8 973.4,696.3 973.8,698.3 974.9,697.1 974.0,698.0 973.5,699.5 974.0,701.4 973.4,700.7 973.4,699.6 973.8,704.5 974.1,705.9 973.4,707.1 973.4,706.1 974.6,704.7 973.7,706.1 972.4,708.6 973.7,710.0 973.9,711.6 975.1,712.3 972.0,715.9 975.8,714.0 973.9,713.8 973.5,716.2 974.6,715.8 974.0,720.8 975.2,716.2 974.7,720.3 974.6,721.2 974.8,718.9 975.3,720.4 975.9,725.5 975.6,725.4 975.7,726.2 976.8,726.2 976.6,728.7 976.4,727.6 976.2,729.4 976.3,729.4 976.7,727.7 977.4,727.8 976.9,726.7 977.4,725.7 978.1,723.9 978.1,724.1 978.3,722.7 978.8,721.1 979.0,720.4 979.1,720.7 978.8,719.4 978.8,717.5 979.4,715.3 979.4,716.7 979.7,717.7 980.5,718.3 980.4,719.3 980.1,719.8 980.4,722.8 980.3,723.0 980.9,722.5 981.1,723.0 981.3,725.5 982.1,727.4 981.6,726.2 981.5,729.3 981.7,730.2 982.2,729.7 982.6,733.0 982.5,732.5 983.1,731.2 984.4,732.5 984.8,731.4 985.6,729.4 985.8,731.9 985.4,731.2 985.9,731.1 986.0,731.4 986.2,732.5 987.6,734.6 985.9,736.1 986.5,737.9 985.8,740.5 986.6,738.3 985.6,741.8 985.7,743.2 986.4,739.2 986.8,744.9 986.7,744.7 986.5,749.3 986.8,750.3 988.0,751.2 985.8,749.6 986.2,744.7 986.6,752.1 987.9,750.3 987.4,753.2 987.0,757.1 987.5,756.8 986.7,756.2 987.5,758.6 987.7,758.1 988.6,757.7 987.8,760.1 986.5,763.4 988.4,766.2 988.4,764.5 986.8,763.6 988.9,767.3 987.5,765.9 987.4,764.0 988.5,765.9 988.7,770.0 988.5,771.8 988.9,769.1 988.4,768.4 988.9,771.1 987.9,773.0 988.4,778.4 988.4,777.6 988.3,780.4 988.8,777.8 987.8,779.4 990.3,783.7 988.8,780.9 989.6,782.5 989.1,778.5 988.2,779.9 989.2,773.6 990.0,777.8 988.9,774.9 989.8,776.2 989.2,774.6 990.0,767.0 990.5,770.5 989.1,769.9 990.5,765.8 989.7,766.1 989.2,766.0 990.4,765.4 989.9,764.4 991.5,764.2 990.1,764.7 990.6,762.1 991.4,761.0 991.0,757.1 990.9,756.1 990.4,755.6 990.0,756.4 991.2,756.2 990.9,753.7 991.0,754.7 991.9,752.7 992.2,752.2 992.0,750.3 991.8,748.1 991.9,748.1 992.1,747.4 992.9,748.4 992.2,744.2 993.2,748.1 994.1,741.8 993.7,743.5 993.9,741.5 994.4,740.7 993.9,739.5 994.6,738.0 994.7,736.2 995.0,735.6 995.5,735.0 995.1,732.7 994.9,733.7 995.6,731.8 995.9,733.4 996.7,731.1 996.1,730.4 996.3,727.4 997.3,727.6 996.5,727.1 996.6,726.1 996.8,723.9 997.9,723.1 998.3,722.2 998.0,725.1 999.0,720.0 998.8,720.8 998.1,719.9 998.5,718.2 998.5,714.0 998.9,716.6 999.7,713.8 999.6,713.9 1000.2,713.6 1000.1,711.4 1001.1,710.6 1001.0,709.0 1001.4,709.1 1001.6,707.5 1002.0,706.6 1002.9,704.9 1003.0,703.7 1002.4,704.3 1003.0,702.2 1003.4,703.3 1003.6,699.6 1003.4,698.9 1004.4,698.1 1004.6,698.7 1005.7,696.8 1005.7,695.8 1006.3,694.9 1006.4,694.4 1007.2,693.3 1007.3,693.7 1008.0,691.9 1008.6,690.7 1009.1,688.8 1009.5,689.3 1010.4,688.9 1011.3,687.5 1012.2,686.0 1012.6,684.6 1013.4,685.1 1013.8,682.5 1014.4,683.6 1014.3,686.5 1014.6,685.9 1014.3,687.1 1014.3,689.4 1015.4,690.7 1014.9,692.0 1015.2,690.0 1015.8,691.9 1015.8,694.2 1016.8,695.0 1016.2,696.4 1015.5,698.0 1016.6,700.0 1016.9,698.1 1017.6,699.3 1017.6,699.6 1018.1,702.2 1019.2,704.4 1019.6,703.5 1020.0,704.4 1020.1,703.5 1020.5,703.2 1020.5,704.9 1020.6,701.1 1021.0,700.2 1020.6,699.5 1020.7,697.6 1021.6,700.0 1021.3,693.8 1021.7,694.1 1021.8,695.0 1021.9,694.6 1022.8,694.2 1021.7,691.5 1021.8,690.7 1022.6,692.4 1023.0,687.3 1022.3,686.1 1022.5,686.8 1022.8,684.0 1023.6,684.9 1023.1,682.5 1024.0,682.3 1025.5,682.1 1026.1,681.8 1027.2,682.5 1028.1,682.6 1029.4,681.7 1029.6,684.5 1029.7,683.4 1030.3,685.8 1030.5,686.6 1030.4,688.7 1030.8,690.4 1031.0,690.7 1031.6,690.5 1031.4,691.6 1032.1,694.5 1032.0,695.9 1032.5,695.9 1032.5,695.0 1033.1,695.7 1033.2,697.8 1033.2,698.9 1034.1,698.5 1033.1,700.4 1033.5,701.2 1034.6,703.8 1034.7,706.3 1034.8,703.7 1033.8,706.1 1034.8,707.5 1035.7,706.2 1035.2,710.2 1035.6,709.1 1035.5,710.4 1035.9,706.5 1036.7,706.9 1037.2,704.9 1036.6,703.8 1037.3,705.1 1037.3,702.4 1037.4,701.4 1038.1,701.6 1038.0,701.4 1037.6,698.7 1038.1,699.1 1038.4,697.1 1038.0,694.9 1038.5,697.0 1039.5,693.2 1039.4,692.5 1039.6,691.0 1038.9,690.4 1039.7,691.5 1040.2,689.2 1040.3,687.2 1040.5,688.8 1040.8,690.9 1041.6,691.7 1041.7,691.5 1042.8,692.6 1042.7,693.5 1043.3,694.2 1043.8,697.4 1044.3,698.0 1044.8,695.2 1045.0,698.1 1045.0,698.3 1045.6,696.9 1045.9,695.5 1046.2,695.8 1046.2,693.4 1046.5,691.7 1046.7,692.5 1047.6,691.0 1047.7,689.2 1048.0,688.4 1047.8,690.5 1048.4,687.2 1048.9,686.3 1048.9,684.6 1049.5,684.1 1049.7,682.5 1050.6,684.1 1051.7,683.4 1052.4,685.1 1053.3,686.2 1054.9,684.0 1055.6,685.7 1056.5,685.8 1057.5,685.6 1058.0,686.1 1058.9,683.9 1059.9,686.6 1060.6,682.5 1061.2,685.0 1060.7,684.6 1061.6,686.2 1061.6,687.1 1062.0,689.5 1062.2,688.3 1062.8,690.6 1062.9,690.7 1063.0,692.8 1063.7,692.7 1063.8,693.4 1064.8,695.2 1066.3,695.3 1067.1,695.6 1068.4,695.0 1068.6,694.8 1069.1,694.0 1069.4,692.8 1069.8,691.9 1069.7,689.8 1069.6,689.3 1070.1,687.6 1070.3,686.6 1070.6,686.6 1071.1,684.1 1070.7,682.4 1071.6,682.5 1072.7,683.1 1073.9,682.5 1072.5,681.2 1073.9,686.1 1075.0,682.8 1073.9,687.9 1073.0,688.7 1073.7,688.0 1074.0,691.2 1073.1,692.0 1073.3,692.4 1073.9,695.9 1075.0,692.1 1074.3,691.8 1073.4,697.8 1073.6,695.1 1074.7,697.1 1074.2,701.4 1074.2,703.4 1073.3,701.2 1073.3,704.1 1074.5,704.9 1074.7,705.5 1073.9,703.8 1075.4,702.9 1074.2,708.5 1076.6,709.9 1074.0,711.6 1074.0,710.6 1073.2,708.4 1075.3,713.3 1074.4,711.9 1074.9,712.7 1073.5,718.2 1074.2,718.1 1074.8,723.7 1074.6,714.9 1073.6,721.4 1074.3,720.6 1075.5,718.0 1074.2,721.1 1073.3,724.0 1075.3,726.2 1074.3,725.5 1074.7,730.9 1074.4,726.8 1073.4,729.7 1074.4,731.1 1075.3,732.2 1073.1,731.4 1075.0,732.6 1074.0,733.6 1074.7,735.3 1075.0,733.6 1074.2,732.4 1074.1,737.0 1074.2,737.9 1074.5,735.1 1074.7,740.3 1073.7,744.3 1074.9,743.8 1073.7,749.4 1074.2,748.3 1076.0,745.9 1074.1,743.3 1074.7,746.8 1075.4,752.0 1075.2,751.5 1075.8,753.0 1075.7,753.2 1074.8,756.8 1075.0,755.7 1075.0,752.7 1075.2,755.2 1074.2,756.9 1074.1,760.3 1075.8,760.8 1074.8,757.3 1075.9,763.1 1074.5,763.2 1075.7,762.4 1076.6,763.9 1074.8,766.8 1074.5,763.8 1074.9,771.6 1074.9,770.8 1075.3,769.6 1076.3,770.9 1075.9,769.7 1075.6,773.4 1074.8,771.4 1075.5,775.6 1074.9,777.5 1076.2,778.7 1076.0,777.1 1076.3,777.9 1075.5,778.6 1075.8,781.5 1076.3,783.8 1075.8,782.0 1077.1,779.5 1076.1,784.8 1074.9,787.1 1076.0,785.3 1076.1,787.9 1076.2,787.2 1075.5,789.5 1075.6,793.0 1075.5,790.4 1077.1,791.1 1075.9,794.8 1077.1,794.9 1076.2,795.0 1076.7,797.5 1075.4,796.6 1076.0,797.7 1076.2,798.8 1076.0,800.9 1076.6,802.0 1078.0,804.1 1077.6,804.3 1077.5,805.9 1076.3,807.1 1076.6,808.2 1076.5,804.6 1078.1,808.9 1076.3,810.4 1078.5,809.7 1077.4,813.9 1077.1,808.6 1076.2,815.4 1077.8,813.3 1076.8,815.2 1075.5,814.1 1078.5,815.8 1076.7,821.2 1078.2,818.7 1077.4,821.6 1078.0,822.1 1078.0,823.1 1076.9,825.1 1077.4,826.5 1077.5,827.8 1077.9,823.9 1078.8,831.6 1077.7,828.6 1078.1,828.9 1077.2,829.3 1077.4,832.2 1077.8,835.2 1077.6,831.4 1077.1,837.3 1077.1,840.0 1075.9,836.0 1079.2,837.2 1076.9,842.7 1078.4,842.2 1078.3,841.2 1077.2,842.4 1078.8,839.1 1079.0,843.7 1079.1,846.9 1078.0,844.6 1078.8,845.7 1078.5,848.9 1078.4,848.6 1078.6,851.0 1078.5,848.1 1078.6,851.2 1078.4,852.1 1079.3,850.7 1078.6,848.9 1078.8,846.9 1078.6,846.4 1079.3,848.3 1078.4,845.9 1079.1,843.9 1079.6,840.4 1080.2,841.5 1080.1,842.8 1080.6,841.2 1079.8,837.0 1080.0,837.9 1079.8,837.3 1079.7,834.4 1079.3,836.6 1081.2,833.0 1079.5,830.5 1079.3,835.0 1079.0,829.3 1080.4,831.0 1078.8,831.5 1080.4,826.8 1080.7,823.6 1080.4,826.2 1080.9,827.2 1079.7,822.9 1081.2,825.6 1080.3,820.5 1080.9,818.1 1080.5,825.6 1080.1,818.5 1080.3,818.9 1079.6,813.6 1079.6,814.7 1081.3,815.1 1081.4,812.1 1080.4,812.3 1080.9,810.6 1079.9,810.6 1080.8,805.5 1080.6,809.8 1081.0,807.0 1080.6,804.9 1082.3,805.6 1081.6,804.0 1082.3,805.4 1081.4,802.6 1081.3,796.0 1082.6,802.9 1081.2,796.4 1081.8,798.5 1082.6,796.7 1081.6,795.8 1081.9,795.1 1081.4,797.2 1082.3,794.5 1081.3,797.4 1082.5,792.9 1083.1,791.0 1083.4,788.0 1082.0,789.7 1082.4,786.4 1082.3,791.1 1082.4,787.2 1081.9,782.8 1083.1,779.8 1083.8,786.3 1081.8,784.1 1083.9,784.0 1083.1,779.5 1081.7,779.6 1082.7,777.7 1082.4,776.7 1083.8,775.7 1083.0,773.9 1083.3,766.4 1083.3,771.6 1083.5,770.8 1083.1,770.5 1084.0,770.0 1083.8,770.5 1084.3,766.2 1084.1,767.8 1085.3,765.5 1084.9,765.6 1085.2,762.9 1085.2,761.6 1085.6,760.6 1086.5,761.6 1086.4,759.8 1086.9,759.1 1086.9,758.0 1086.8,756.9 1088.0,755.2 1087.7,754.6 1088.8,752.8 1089.4,751.0 1088.8,751.9 1089.8,750.5 1090.7,747.2 1090.5,747.0 1090.4,746.7 1090.1,747.5 1091.2,743.5 1091.9,743.4 1092.1,742.3 1091.7,742.8 1092.0,745.0 1092.0,738.5 1090.8,738.7 1093.1,738.3 1092.6,735.9 1092.8,737.2 1093.1,735.7 1092.5,731.6 1092.9,734.0 1093.4,731.5 1093.3,731.6 1093.4,731.2 1093.4,726.7 1093.6,731.4 1093.4,725.2 1094.2,726.4 1093.2,729.0 1093.7,722.8 1093.6,722.5 1093.7,722.8 1094.8,721.3 1093.4,719.0 1094.7,721.8 1094.5,714.4 1094.5,716.7 1093.6,714.7 1094.6,715.4 1094.7,711.0 1093.9,712.3 1094.9,711.5 1094.6,710.7 1095.0,709.1 1095.0,712.2 1095.4,710.0 1096.1,714.1 1094.6,713.2 1094.7,712.5 1096.0,716.7 1095.5,715.8 1095.5,717.4 1096.1,719.5 1095.9,716.9 1096.3,722.6 1095.6,721.1 1096.9,723.7 1095.7,721.8 1096.1,726.0 1096.3,725.0 1096.5,729.1 1097.6,729.8 1096.2,728.8 1098.3,730.1 1096.9,731.0 1096.6,734.3 1098.1,733.0 1097.6,734.8 1097.4,734.8 1097.3,735.6 1097.5,734.1 1097.5,734.7 1097.6,735.5 1097.9,730.9 1098.0,732.6 1097.9,731.1 1098.8,729.8 1099.3,727.4 1098.4,728.8 1099.0,728.3 1098.8,724.4 1099.3,724.4 1100.0,723.9 1100.3,721.4 1099.6,722.5 1099.5,719.7 1100.9,722.1 1101.3,719.1 1100.6,717.4 1100.7,714.8 1100.9,715.5 1101.2,713.8 1102.1,712.9 1101.8,712.9 1102.0,712.0 1102.1,709.1 1102.4,709.7 1102.0,707.7 1102.8,707.6 1103.0,708.2 1103.6,707.9 1103.7,705.8 1103.6,704.6 1103.7,702.7 1103.3,701.2 1104.4,700.1 1104.4,699.2 1104.4,699.2 1105.0,698.0 1105.1,697.5 1105.2,695.0 1105.3,693.7 1105.6,693.0 1106.0,693.1 1105.8,692.7 1106.2,692.0 1107.1,688.3 1106.1,688.1 1107.2,687.7 1107.0,686.7 1107.6,685.0 1107.3,684.3 1107.5,682.5 1108.9,684.0 1109.4,682.8 1111.4,682.8 1112.2,682.5 1112.4,681.7 1111.9,682.0 1112.5,684.1 1112.2,686.8 1113.4,688.2 1112.8,685.1 1113.2,690.8 1113.0,693.0 1113.1,688.2 1112.0,693.9 1113.3,692.9 1113.3,695.9 1113.0,695.7 1113.3,697.2 1113.1,697.9 1111.9,699.1 1113.2,702.6 1113.6,698.2 1114.0,703.3 1112.7,702.7 1113.8,703.4 1113.4,706.6 1113.7,704.6 1113.6,707.8 1113.7,707.1 1113.9,711.2 1113.1,712.2 1114.8,712.9 1114.1,713.7 1114.2,711.1 1113.0,713.4 1113.5,719.0 1114.4,716.3 1115.0,718.7 1114.2,716.7 1115.1,720.0 1115.1,717.1 1114.9,721.5 1116.0,723.1 1115.9,722.0 1115.1,723.9 1115.6,729.1 1115.0,726.5 1115.1,725.1 1115.3,727.8 1115.6,728.3 1115.6,726.4 1115.8,727.2 1116.4,725.3 1116.6,723.5 1117.0,721.3 1116.6,722.2 1117.0,718.4 1117.1,720.7 1117.0,718.2 1117.5,716.7 1117.7,717.7 1118.8,715.0 1117.6,713.8 1118.3,713.8 1118.2,712.7 1118.4,710.6 1118.8,712.8 1119.7,713.6 1119.5,715.3 1120.0,716.0 1120.2,716.8 1121.1,719.9 1120.4,719.2 1121.6,719.2 1121.8,719.9 1122.3,719.9 1122.2,722.2 1122.3,721.4 1123.1,723.1 1122.8,723.4 1123.6,723.2 1123.7,724.9 1122.8,721.3 1124.0,718.1 1124.1,718.9 1124.0,717.9 1124.3,713.3 1125.1,719.9 1124.3,714.4 1123.9,714.7 1124.4,711.7 1123.2,712.9 1124.3,711.5 1123.7,708.3 1124.7,707.0 1124.1,706.6 1124.5,700.8 1124.6,705.3 1124.8,706.3 1124.7,704.4 1124.6,704.8 1124.9,699.6 1125.2,699.1 1125.0,701.2 1124.7,698.4 1125.4,695.3 1126.0,696.0 1125.5,697.2 1126.5,693.8 1125.5,692.5 1125.0,691.8 1125.6,688.7 1125.7,690.4 1125.9,686.4 1125.8,688.2 1125.4,688.3 1125.3,686.5 1126.0,684.2 1126.2,682.5 1127.2,682.9 1128.2,684.3 1129.3,683.2 1130.3,682.8 1131.2,683.3 1132.3,684.1 1133.4,683.5 1134.5,683.1 1135.8,683.3 1136.9,682.8 1137.8,684.0 1138.8,682.5 1139.3,683.8 1139.2,685.6 1139.4,688.0 1139.9,687.8 1139.8,686.7 1140.1,691.5 1140.5,690.0 1140.0,690.2 1140.6,691.4 1140.9,693.8 1141.0,696.3 1141.2,695.4 1141.7,697.6 1141.3,698.5 1141.9,698.1 1143.1,697.4 1142.2,696.0 1142.1,694.7 1142.7,695.6 1143.4,693.6 1142.9,692.8 1143.3,692.4 1143.5,691.2 1144.1,689.4 1144.0,687.9 1143.6,688.3 1144.3,686.8 1144.7,686.5 1144.3,683.9 1145.0,682.5 1145.5,683.4 1145.9,685.5 1144.9,684.6 1146.1,687.7 1146.5,688.0 1146.8,690.3 1146.4,688.3 1145.9,691.3 1146.8,692.6 1146.0,694.5 1146.1,693.6 1147.3,695.8 1147.1,696.8 1147.1,695.6 1147.9,698.7 1147.7,697.8 1148.2,701.0 1147.2,701.5 1148.1,701.2 1147.7,700.7 1148.1,700.9 1148.9,699.3 1148.2,698.2 1148.7,697.9 1149.1,695.6 1149.7,694.8 1149.5,693.8 1150.0,693.2 1149.9,692.0 1149.9,694.1 1149.4,691.1 1150.4,688.7 1149.9,688.7 1150.6,688.1 1150.4,684.9 1150.7,685.3 1151.6,684.7 1151.2,682.5 1152.5,683.7 1153.1,683.7 1154.4,682.5 1155.1,683.9 1155.1,687.0 1155.2,685.4 1156.2,685.0 1156.1,687.8 1156.7,689.2 1157.5,688.4 1157.6,690.0 1158.1,690.3 1158.5,692.1 1159.1,693.7 1159.4,694.3 1160.0,695.7 1160.2,695.7 1160.6,696.5 1160.9,699.0 1161.3,698.3 1161.9,697.8 1161.9,698.4 1162.1,694.8 1163.0,694.3 1163.2,693.9 1163.1,694.2 1163.8,694.1 1163.9,691.0 1164.6,688.7 1164.5,688.3 1165.1,687.0 1165.8,689.0 1167.4,688.9 1167.6,689.9 1168.7,690.4 1169.8,690.4 1171.2,690.2 1172.1,690.7 1172.8,691.4 1173.9,692.3 1174.5,690.8 1175.0,691.0 1175.4,687.8 1175.2,688.8 1175.3,687.5 1176.1,686.5 1176.1,687.2 1176.4,683.2 1177.7,685.1 1178.2,684.0 1179.0,683.6 1179.8,684.6 1180.8,685.7 1181.2,686.6 1182.5,687.7 1183.5,688.8 1184.1,687.6 1185.0,689.9 1185.9,688.9 1186.0,691.3 1186.6,692.5 1186.2,692.4 1187.4,693.6 1187.5,694.2 1187.4,694.6 1187.8,696.1 1187.8,696.6 1188.6,698.6 1189.0,698.8 1189.3,700.6 1189.1,703.1 1189.0,702.9 1189.7,702.7 1190.5,703.2 1190.2,705.8 1190.6,705.9 1191.2,704.3 1190.7,705.5 1191.3,702.8 1191.7,702.0 1192.0,702.4 1191.7,698.0 1192.2,700.9 1192.8,697.6 1192.9,701.8 1192.7,695.7 1192.9,695.3 1193.0,694.6 1193.2,694.0 1193.6,692.5 1193.4,690.8 1193.5,690.2 1194.1,689.8 1193.9,688.0 1194.4,687.0 1195.4,687.2 1196.7,686.2 1197.8,687.0 1198.7,687.7 1199.4,685.8 1201.0,685.1 1201.3,685.9 1201.8,689.4 1201.5,688.9 1202.7,691.0 1202.1,691.0 1202.5,692.1 1203.0,695.1 1202.7,695.0 1203.4,694.6 1203.6,698.8 1203.3,697.6 1204.2,699.4 1204.8,698.3 1205.1,700.7 1205.0,697.2 1205.6,694.8 1206.0,694.4 1206.7,694.2 1206.8,694.7 1207.1,691.8 1207.8,692.0 1207.9,690.6 1208.5,688.9 1208.2,691.4 1208.9,691.3 1208.9,692.7 1208.8,696.0 1209.9,696.1 1209.3,695.7 1209.4,697.2 1209.6,698.0 1209.4,697.4 1209.6,699.7 1209.5,702.5 1209.0,702.9 1209.8,705.4 1208.7,703.8 1210.2,704.9 1210.0,707.6 1210.0,705.0 1210.2,706.5 1210.0,709.1 1210.2,709.6 1209.8,711.2 1211.1,710.1 1210.7,709.1 1210.8,713.4 1211.5,712.8 1210.8,715.0 1211.1,714.5 1211.7,719.7 1210.9,720.1 1211.2,718.4 1211.6,723.3 1211.7,723.4 1211.4,724.2 1212.1,725.8 1211.3,731.2 1211.8,726.6 1212.3,726.6 1213.1,728.2 1212.5,724.4 1213.0,722.1 1212.9,722.1 1213.1,720.5 1212.7,721.1 1213.3,720.7 1213.1,718.6 1214.5,716.6 1214.1,715.1 1214.1,716.9 1214.1,713.0 1214.2,711.6 1214.6,712.6 1214.7,711.0 1215.4,711.7 1215.4,710.2 1215.3,709.0 1215.3,710.3 1215.5,707.4 1216.0,705.3 1216.1,704.0 1216.3,706.2 1216.6,707.6 1216.6,710.3 1216.4,707.7 1216.6,710.3 1216.4,711.6 1217.3,708.7 1217.0,712.7 1217.4,714.8 1218.3,713.6 1217.9,716.5 1217.9,718.1 1218.8,717.5 1219.4,720.1 1218.9,721.0 1218.5,723.4 1219.3,722.5 1219.5,724.7 1219.2,725.4 1219.3,725.3 1220.1,726.0 1219.9,726.6 1220.2,728.0 1220.2,730.7 1221.0,728.7 1220.3,731.3 1220.4,732.1 1220.2,731.1 1221.1,733.1 1220.8,734.7 1221.3,735.3 1222.2,735.5 1221.6,736.6 1222.2,741.3 1220.5,741.2 1221.8,741.6 1221.6,741.5 1222.9,743.1 1221.8,746.6 1223.0,746.4 1222.7,745.5 1223.7,745.1 1222.9,743.5 1223.4,744.9 1223.0,742.9 1223.9,738.8 1223.5,739.3 1222.7,737.9 1223.7,738.7 1224.3,736.6 1223.4,738.9 1223.3,738.0 1224.2,731.1 1224.2,732.3 1224.6,732.8 1225.0,728.3 1224.0,730.4 1224.7,728.5 1225.2,728.9 1225.2,727.7 1224.5,727.7 1224.8,724.2 1224.9,722.8 1224.4,724.2 1225.9,722.8 1224.7,720.1 1225.4,718.3 1225.8,718.4 1225.9,717.4 1225.8,715.4 1225.8,714.2 1225.7,714.5 1225.5,712.9 1226.1,713.0 1226.5,711.2 1225.9,712.0 1227.3,709.8 1226.5,707.8 1226.7,709.0 1227.7,711.4 1227.5,712.7 1227.4,711.5 1227.7,712.2 1228.2,716.5 1228.6,715.2 1228.5,714.3 1229.0,717.9 1228.7,717.2 1229.1,719.4 1229.4,721.5 1230.1,722.1 1230.4,722.8 1230.4,724.1 1231.0,724.7 1231.2,724.8 1231.7,726.8 1231.9,727.9 1232.3,732.5 1230.7,729.1 1232.4,732.1 1232.0,735.3 1232.0,733.3 1233.1,734.6 1231.0,730.5 1232.7,737.8 1231.7,736.5 1232.7,738.3 1232.3,740.4 1232.5,739.6 1233.4,738.4 1232.5,740.7 1232.5,741.0 1233.2,743.1 1233.0,742.9 1232.4,744.1 1233.3,746.4 1233.9,746.1 1232.3,748.6 1233.1,751.4 1233.6,751.7 1233.1,750.6 1233.7,753.3 1234.2,754.9 1234.6,757.7 1233.6,754.2 1234.0,757.6 1233.8,762.6 1233.8,758.8 1234.0,760.8 1234.1,760.1 1234.0,760.7 1233.6,762.4 1234.2,763.3 1235.0,762.0 1234.1,766.3 1234.8,763.7 1233.9,767.8 1233.9,765.2 1234.1,770.4 1233.3,774.6 1234.4,772.5 1235.0,772.0 1235.5,769.9 1235.1,770.9 1236.2,770.4 1236.2,769.3 1235.2,766.7 1235.4,767.8 1235.9,766.1 1236.5,761.5 1236.4,762.3 1236.2,763.6 1237.2,762.9 1236.8,761.2 1236.9,759.6 1237.6,756.7 1237.7,758.6 1237.8,757.9 1237.3,754.8 1237.1,757.1 1237.9,752.7 1238.9,753.5 1238.4,749.6 1238.7,749.3 1238.8,749.8 1239.4,754.6 1238.9,754.0 1239.1,755.4 1240.1,757.6 1239.9,754.3 1239.0,757.2 1239.8,758.3 1238.2,761.4 1239.5,759.7 1240.5,763.0 1238.6,763.2 1239.9,761.1 1240.3,763.7 1240.7,763.5 1240.4,763.9 1240.9,767.2 1239.7,766.8 1240.7,768.5 1240.7,770.3 1241.1,771.5 1241.5,768.1 1240.8,769.3 1239.8,770.9 1241.0,776.0 1240.0,773.3 1240.6,775.9 1239.5,778.0 1241.4,776.8 1240.7,781.0 1242.1,781.9 1241.5,781.1 1240.9,783.8 1241.5,785.4 1241.1,787.7 1242.1,786.0 1241.1,789.0 1242.5,787.3 1239.7,788.7 1242.5,790.8 1242.3,790.1 1242.9,792.6 1243.1,791.2 1241.0,796.5 1243.2,796.5 1242.3,795.9 1242.5,796.5 1242.9,797.7 1242.4,795.6 1243.5,794.7 1244.2,795.1 1243.1,793.0 1243.5,791.7 1244.2,788.7 1243.6,791.8 1244.1,790.8 1244.2,786.8 1244.8,788.0 1244.5,785.3 1244.9,786.2 1244.9,781.7 1244.2,783.2 1245.9,779.8 1245.0,782.3 1245.7,778.0 1245.8,779.8 1247.6,780.2 1246.3,775.7 1246.6,775.2 1246.8,774.4 1248.1,771.6 1246.9,771.1 1248.1,771.0 1248.2,769.1 1248.4,769.7 1248.3,767.8 1250.0,764.1 1249.7,765.6 1250.1,764.4 1251.1,764.8 1250.7,763.4 1250.0,761.9 1250.8,760.7 1249.8,760.1 1249.5,758.9 1250.9,759.1 1250.4,757.7 1251.6,754.6 1250.6,754.5 1251.7,752.3 1251.8,754.0 1251.7,753.4 1252.2,748.6 1252.7,751.6 1252.4,749.5 1251.7,750.2 1251.8,749.4 1251.8,748.5 1253.6,745.5 1253.0,744.7 1253.1,742.4 1252.8,742.3 1253.3,740.0 1252.9,739.1 1254.1,742.0 1252.6,738.4 1254.2,735.6 1252.7,736.5 1253.8,734.2 1254.0,736.2 1254.6,734.0 1254.0,736.1 1254.8,739.3 1254.9,738.4 1254.6,738.6 1255.2,741.4 1255.9,743.0 1255.3,744.4 1256.1,744.5 1256.4,747.4 1256.4,748.2 1256.0,749.9 1256.8,748.0 1257.5,749.3 1257.6,752.0 1257.6,751.2 1258.2,754.6 1257.7,753.1 1257.5,752.6 1258.3,758.3 1257.9,760.7 1258.1,760.4 1257.9,758.4 1259.1,760.3 1259.2,761.7 1260.0,761.6 1258.6,764.1 1258.9,765.6 1260.2,764.7 1259.2,765.4 1260.5,766.2 1259.7,768.6 1259.2,766.4 1259.2,770.5 1260.5,769.3 1260.0,771.0 1260.1,773.8 1260.2,777.4 1260.4,775.3 1261.6,773.8 1261.5,776.3 1260.7,778.6 1260.9,776.6 1261.4,779.5 1262.3,782.3 1262.1,781.5 1260.3,785.6 1261.3,785.6 1262.1,782.1 1260.1,784.3 1261.8,791.5 1261.9,786.8 1263.9,791.4 1262.8,790.1 1262.8,792.2 1263.1,793.5 1262.4,791.2 1263.1,793.5 1263.0,796.1 1262.6,795.5 1262.1,795.8 1262.7,800.3 1263.2,805.2 1264.2,798.4 1263.1,803.2 1264.7,803.4 1264.2,804.6 1265.0,802.9 1264.8,804.9 1264.2,807.9 1263.0,805.6 1264.2,807.8 1264.1,809.1 1264.5,805.4 1264.4,805.5 1265.3,804.7 1265.4,805.3 1265.1,802.3 1266.1,800.3 1264.9,799.7 1265.3,797.9 1265.4,799.7 1266.4,798.8 1266.3,796.4 1267.8,796.7 1266.1,793.2 1267.1,792.7 1267.5,794.3 1267.6,791.0 1268.0,789.0 1267.7,789.4 1268.3,789.6 1268.3,787.3 1268.7,786.2 1269.2,783.4 1268.5,784.8 1268.9,780.7 1269.2,782.6 1268.5,779.9 1269.2,779.9 1269.7,778.0 1268.8,775.1 1270.0,778.1 1271.4,776.8 1269.7,776.0 1270.8,775.3 1270.3,772.0 1270.8,772.0 1271.2,772.5 1271.9,771.0 1272.2,770.9 1272.6,767.5 1272.4,767.7 1272.2,765.9 1273.1,767.0 1272.7,766.0 1273.0,763.4 1273.7,762.0 1273.8,761.1 1274.6,761.3 1274.6,758.7 1274.7,759.5 1275.9,763.0 1275.9,760.2 1275.4,765.9 1276.5,763.6 1276.5,768.3 1276.6,765.3 1277.4,765.3 1278.6,769.4 1278.4,768.2 1278.2,768.7 1278.1,770.4 1278.7,772.8 1278.9,772.8 1279.2,773.1 1278.8,775.8 1279.8,777.0 1278.8,775.8 1279.2,779.3 1280.1,779.0 1280.7,777.3 1280.5,781.2 1280.5,780.3 1280.1,782.3 1281.3,783.5 1281.9,788.7 1281.2,785.2 1281.1,785.9 1282.1,783.4 1282.3,784.3 1282.1,784.9 1282.0,782.1 1282.3,779.5 1281.1,778.8 1282.1,776.5 1282.7,776.4 1283.0,775.3 1283.1,774.9 1284.1,776.0 1283.8,773.0 1284.2,771.5 1284.4,770.6 1283.6,769.9 1284.3,771.7 1284.3,767.8 1283.8,766.7 1284.8,763.9 1285.2,764.9 1285.0,762.5 1285.8,762.9 1285.5,759.6 1286.2,762.5 1286.4,759.0 1285.8,756.9 1286.0,756.9 1287.2,757.2 1287.0,755.9 1287.2,753.1 1287.6,754.8 1287.8,754.4 1287.5,751.3 1287.7,751.1 1288.8,747.9 1288.8,747.4 1288.4,751.4 1289.2,748.3 1289.1,750.9 1290.0,752.9 1290.8,755.7 1289.6,753.6 1289.7,756.7 1290.9,755.2 1290.8,755.6 1291.0,757.1 1292.0,759.5 1291.6,760.0 1292.0,764.6 1291.6,761.6 1291.9,761.1 1293.2,766.6 1292.4,765.0 1292.7,764.4 1292.9,766.9 1293.4,764.9 1294.1,771.0 1294.0,769.7 1293.5,772.2 1293.6,772.7 1294.9,775.8 1295.0,771.9 1295.2,774.3 1295.5,775.0 1295.4,778.9 1295.4,777.6 1295.2,776.5 1294.9,777.3 1295.1,776.6 1296.2,775.2 1296.0,774.2 1295.7,776.7 1295.5,770.8 1296.8,769.1 1296.2,769.9 1296.7,767.8 1297.0,765.9 1298.1,766.9 1296.9,766.0 1296.7,766.0 1298.0,762.0 1298.5,763.4 1298.2,759.4 1298.4,757.5 1298.3,759.0 1298.2,756.5 1298.4,756.4 1299.0,758.0 1299.6,756.9 1299.2,753.1 1300.6,754.3 1300.6,750.7 1301.4,751.9 1302.1,748.1 1302.5,749.6 1303.4,749.2 1304.3,748.7 1305.1,748.9 1305.7,746.3 1306.7,745.5 1307.0,747.9 1307.8,748.1 1308.6,749.0 1309.7,749.2 1310.5,749.3 1310.6,748.3 1310.4,747.3 1310.7,746.3 1311.9,745.0 1310.9,744.6 1311.5,744.5 1311.1,745.4 1311.8,741.9 1311.0,739.2 1313.0,740.6 1312.2,740.5 1312.8,740.2 1313.0,736.4 1312.8,734.8 1312.9,735.2 1312.9,733.2 1314.5,734.5 1313.8,734.3 1313.9,731.6 1314.3,731.0 1314.3,728.5 1314.9,727.2 1314.7,728.0 1315.4,726.4 1316.0,727.6 1316.1,725.2 1317.2,723.5 1316.5,722.4 1317.3,719.8 1317.8,722.8 1319.0,720.1 1318.9,719.4 1318.9,718.3 1320.0,716.8 1319.9,715.3 1320.2,715.9 1320.6,715.7 1320.9,710.7 1320.9,712.8 1321.1,713.6 1321.5,709.7 1322.3,711.2 1321.9,707.1 1322.5,707.0 1322.8,705.1 1322.8,704.0 1322.5,705.2 1323.1,706.8 1323.3,709.8 1323.9,709.6 1323.7,710.3 1324.2,709.6 1324.7,711.9 1325.2,712.9 1324.3,710.8 1325.3,714.8 1325.5,715.9 1325.4,716.2 1326.7,718.6 1325.8,721.8 1326.4,719.4 1326.7,720.9 1326.0,721.6 1327.2,722.5 1326.8,724.5 1327.3,726.1 1327.5,724.8 1327.4,725.8 1327.9,722.5 1328.3,723.5 1328.6,724.1 1329.1,719.6 1329.3,719.2 1329.0,719.3 1329.6,716.5 1329.8,716.7 1330.3,715.2 1331.0,714.2 1331.2,713.9 1331.2,711.5 1331.8,713.8 1332.2,715.6 1332.4,716.0 1332.4,717.2 1331.7,717.5 1332.7,718.1 1332.4,719.4 1333.5,719.4 1333.0,720.2 1333.5,721.5 1333.5,722.5 1333.6,724.0 1334.6,725.6 1334.8,725.3 1334.7,726.9 1334.4,730.0 1335.3,728.1 1335.1,731.1 1335.5,732.0 1335.7,732.4 1336.0,735.6 1336.2,735.7 1336.0,735.2 1337.0,734.8 1336.3,734.9 1336.7,736.9 1336.9,738.0 1337.7,735.8 1337.2,739.9 1337.7,735.0 1336.8,734.7 1338.5,731.3 1337.9,733.1 1337.3,732.1 1338.1,730.2 1338.1,729.3 1339.1,730.4 1339.4,728.5 1338.5,727.5 1338.8,724.8 1338.1,728.1 1339.1,726.7 1339.4,726.8 1339.2,729.9 1339.6,728.9 1340.3,733.5 1339.3,730.4 1339.9,732.3 1339.3,732.7 1339.9,731.8 1340.2,738.6 1340.4,739.6 1339.4,741.0 1340.3,739.2 1341.1,742.3 1340.0,741.1 1339.9,741.6 1340.4,741.9 1340.5,744.1 1340.8,746.3 1341.3,747.2 1341.6,745.2 1342.0,748.9 1341.4,754.5 1340.8,750.2 1341.6,751.2 1341.1,750.9 1342.7,751.5 1341.6,749.1 1340.7,747.6 1341.4,748.2 1342.5,745.5 1342.3,746.2 1342.5,742.8 1341.3,741.4 1342.8,742.3 1343.0,738.7 1343.3,741.7 1342.8,735.5 1342.1,737.9 1343.5,740.1 1342.3,734.0 1342.9,734.4 1344.0,734.6 1343.2,728.9 1343.5,728.9 1343.0,732.1 1343.1,725.7 1344.3,726.8 1344.2,729.6 1343.3,727.9 1344.8,725.0 1344.1,722.8 1343.3,726.7 1344.2,722.5 1345.2,724.7 1344.7,723.4 1344.5,719.1 1344.8,718.8 1345.2,717.9 1345.5,717.2 1345.5,717.0 1345.9,714.5 1346.2,713.1 1346.8,712.2 1347.5,711.4 1347.0,711.3 1347.7,708.6 1347.8,711.5 1348.0,710.6 1348.7,707.3 1348.8,706.2 1348.6,703.9 1349.2,703.5 1349.3,703.9 1349.8,703.4 1350.1,700.2 1350.4,701.4 1350.5,697.5 1350.5,698.1 1351.2,695.6 1351.4,696.7 1351.7,694.9 1352.0,695.8 1352.4,692.9 1352.5,692.1 1353.1,691.4 1353.7,689.0 1353.2,689.8 1353.5,689.7 1353.3,686.5 1353.9,685.1 1354.9,686.2 1355.6,684.0 1356.7,685.3 1358.0,684.5 1358.9,684.8 1360.0,683.6 1360.9,684.0 1362.0,683.6 1363.2,684.0 1364.0,682.9 1364.7,683.5 1366.2,682.2 1367.1,681.3 1368.2,681.6 1369.6,682.5 1370.5,682.4 1371.9,681.9 1372.8,681.3 1372.7,684.5 1373.2,684.9 1373.3,686.8 1373.8,686.3 1374.4,687.1 1374.2,689.0 1374.6,689.2 1375.7,690.3 1375.6,691.4 1376.0,693.2 1376.0,694.7 1376.1,694.4 1376.6,694.5 1376.8,695.2 1377.3,692.4 1377.8,690.6 1377.6,689.5 1378.4,688.7 1378.3,690.0 1378.8,689.3 1379.2,686.3 1379.1,685.9 1379.8,684.3 1380.3,683.2 1381.4,683.8 1382.6,683.1 1383.6,683.0 1384.6,682.9 1385.4,684.1 1386.4,684.2 1387.6,684.5 1388.6,683.0 1389.6,684.4 1390.7,683.5 1391.7,683.2 1392.2,688.1 1392.9,686.0 1393.1,685.4 1393.5,687.0 1394.1,689.2 1394.6,690.0 1394.8,691.6 1395.4,690.8 1396.2,694.1 1397.2,693.9 1395.8,692.8 1395.3,696.9 1394.9,697.5 1395.8,697.1 1396.4,698.0 1395.2,696.4 1396.4,700.0 1396.4,700.4 1395.6,700.4 1396.4,703.3 1396.0,703.8 1396.2,707.0 1396.3,706.4 1397.4,708.5 1395.8,712.7 1395.9,711.0 1397.0,713.7 1396.5,713.0 1396.4,711.2 1397.3,716.3 1396.0,711.6 1395.8,716.3 1397.8,718.5 1395.1,719.7 1396.3,722.5 1397.2,719.2 1397.2,713.9 1397.3,721.8 1396.9,722.4 1397.2,722.2 1397.3,722.1 1397.0,729.0 1397.3,726.6 1397.1,725.5 1397.8,728.0 1398.5,725.1 1398.0,722.7 1398.4,724.8 1398.4,721.3 1398.1,721.2 1398.1,719.3 1398.5,720.0 1398.9,717.3 1398.6,716.5 1398.2,714.8 1398.9,716.4 1399.1,712.6 1398.8,708.9 1400.0,711.6 1400.0,710.8 1399.1,708.7 1400.2,707.2 1399.9,706.7 1400.0,706.4 1399.7,706.3 1400.5,707.1 1400.2,704.3 1400.5,702.3 1400.4,702.1 1400.7,701.4 1401.1,697.3 1400.9,696.9 1401.1,696.4 1401.4,695.8 1401.8,696.4 1402.1,694.6 1402.4,693.0 1402.7,692.4 1403.1,690.8 1403.8,689.8 1404.1,691.1 1404.5,687.7 1404.5,688.4 1404.9,685.1 1406.0,685.7 1407.2,686.0 1408.1,685.9 1409.3,684.9 1410.0,684.9 1411.2,683.7 1412.4,683.4 1412.8,683.3 1414.3,683.2 1415.4,686.0 1415.5,684.3 1416.3,686.6 1417.5,688.2 1418.2,687.4 1418.7,688.8 1419.4,689.5 1420.0,688.9 1420.8,688.7 1421.4,688.5 1422.4,687.9 1423.0,687.5 1423.5,688.3 1424.3,686.3 1425.2,684.4 1425.7,683.2 1426.0,684.8 1426.4,685.1 1427.0,687.3 1425.7,689.5 1426.0,687.8 1425.9,689.7 1426.9,691.5 1426.5,691.1 1427.5,692.6 1427.1,694.5 1426.7,696.7 1426.6,696.1 1426.9,697.5 1427.5,698.1 1427.9,698.2 1428.1,698.0 1427.5,700.2 1427.9,700.4 1428.7,697.9 1429.1,698.0 1430.4,699.5 1431.2,696.0 1431.0,694.4 1431.8,694.8 1432.5,693.8 1433.2,692.7 1433.8,692.5 1434.9,692.1 1435.2,689.7 1435.7,690.8 1436.2,690.3 1437.4,688.0 1437.9,686.8 1438.4,686.5 1438.9,685.1" fill="none" stroke="#FCA86E" stroke-width="4.0" stroke-linejoin="round" stroke-linecap="round" clip-path="url(#cd)"/>
<polyline points="43.4,681.2 44.7,682.0 45.4,681.2 47.2,682.2 48.1,681.8 49.4,681.7 50.2,681.3 51.5,681.9 52.5,681.2 53.1,684.3 53.6,682.4 54.8,683.5 55.1,684.3 55.6,684.8 56.0,685.4 56.6,686.3 57.2,681.7 58.2,684.8 59.4,681.2 60.7,681.5 61.9,681.2 62.6,682.7 62.5,684.0 62.8,685.0 63.4,684.8 64.0,684.9 64.6,683.0 65.6,684.4 65.8,681.2 67.1,682.2 68.1,681.2 68.7,682.3 69.0,686.4 68.2,687.9 68.5,688.1 68.9,688.9 69.0,687.7 68.2,689.5 69.8,688.8 69.0,689.3 69.4,692.3 69.4,694.5 69.4,694.9 68.9,693.8 69.7,695.0 70.5,696.5 71.2,696.6 72.6,698.3 73.6,695.8 74.1,697.3 74.5,700.7 75.5,699.0 75.9,699.7 76.3,701.4 76.9,700.8 77.0,697.4 77.8,696.5 78.3,694.2 78.1,695.3 78.9,699.5 79.5,696.6 79.1,699.1 80.0,700.2 79.9,700.2 80.6,701.2 81.1,703.2 81.3,704.3 82.2,704.4 82.2,705.8 82.7,703.0 82.5,703.2 82.8,702.0 83.4,700.0 83.8,698.1 84.9,697.4 85.8,698.1 86.1,695.0 86.3,697.3 86.9,700.0 86.4,698.5 87.2,699.9 87.1,699.8 87.7,701.2 87.2,700.1 87.9,698.3 88.1,697.0 87.9,699.5 88.4,695.4 88.5,695.8 87.8,694.6 88.0,694.8 89.0,695.2 89.1,691.4 88.6,693.7 88.6,689.8 87.8,687.2 88.5,686.0 88.9,688.6 88.8,687.0 89.2,684.1 89.8,685.5 90.8,681.7 91.6,681.2 92.6,682.5 93.5,682.6 94.9,681.5 96.0,682.6 97.0,682.7 98.2,682.2 99.4,681.2 100.3,682.0 100.9,683.1 101.1,685.6 101.5,685.3 102.5,685.6 103.2,687.7 104.1,688.0 104.1,689.0 104.8,686.6 104.6,685.9 105.1,684.5 105.1,682.4 105.6,681.7 106.6,681.4 107.7,683.3 108.9,683.0 109.9,684.1 111.1,682.6 111.9,681.2 113.0,682.8 113.6,683.0 115.1,682.8 115.9,682.9 117.2,685.4 118.1,682.5 118.5,684.5 119.0,686.1 119.3,684.7 120.3,687.2 120.5,687.2 121.2,686.8 121.5,687.0 123.2,685.8 123.0,683.4 123.4,683.6 124.4,681.7 125.1,681.5 126.1,685.7 126.7,684.1 127.1,686.6 127.5,686.1 127.6,687.9 128.0,687.8 128.3,689.7 128.7,690.1 128.9,692.5 129.1,691.9 129.1,692.9 130.0,691.4 130.6,690.3 131.1,689.5 131.7,688.0 132.2,685.6 132.3,684.7 133.2,685.6 133.5,683.8 133.9,683.5 134.5,681.2 135.4,684.7 136.4,683.1 137.0,683.1 137.7,684.1 138.0,686.5 138.0,686.5 138.3,688.3 138.9,688.1 139.2,691.2 139.1,690.2 139.6,691.1 140.0,691.5 140.5,693.4 140.5,693.4 140.8,695.0 141.1,695.1 141.8,696.9 142.2,698.6 142.8,699.6 143.5,700.6 143.9,700.5 144.9,700.2 145.1,700.8 146.0,699.9 147.3,696.5 147.8,696.6 148.8,696.7 149.1,695.4 149.8,693.9 150.2,693.5 150.9,691.9 151.5,692.3 152.1,691.7 152.0,690.6 153.0,688.4 153.7,688.8 154.1,685.6 154.7,684.9 156.4,684.1 156.5,685.4 157.1,686.7 156.9,686.8 157.0,688.5 157.6,689.3 158.3,690.4 157.9,692.4 158.0,692.0 158.2,694.8 158.2,696.1 158.3,696.2 158.1,695.0 157.8,698.5 158.8,698.1 159.0,698.0 159.3,696.2 159.3,697.8 159.4,693.6 159.0,693.6 159.8,692.6 159.9,691.2 160.0,691.2 160.1,688.6 159.9,688.0 159.7,688.6 159.7,688.3 160.6,686.6 160.9,686.2 160.9,683.7 161.1,681.7 162.5,682.6 163.8,683.4 165.0,681.7 165.9,683.4 166.5,686.6 167.4,684.9 168.1,684.8 168.4,684.2 169.3,682.8 169.9,682.3 170.5,683.2 171.2,681.2 172.5,682.0 173.4,681.9 173.9,684.1 175.4,681.2 176.9,682.4 177.5,681.2 177.7,684.8 177.5,681.2 178.1,684.7 177.9,684.4 178.3,685.7 178.5,689.8 178.4,687.2 178.6,691.1 178.8,692.0 178.6,692.3 177.8,692.1 178.7,693.1 178.8,696.0 178.9,696.9 179.4,697.0 178.1,695.5 178.3,701.6 178.5,700.4 179.9,700.9 179.5,702.1 179.9,703.9 179.7,702.5 179.8,704.4 180.6,705.9 181.4,706.9 182.2,707.5 182.0,707.1 182.3,706.7 183.0,702.9 183.2,704.8 182.7,702.2 182.1,701.2 182.5,699.4 182.7,699.2 182.5,696.9 183.0,698.6 182.4,699.3 183.3,697.8 183.6,694.8 183.4,696.9 183.8,692.2 183.5,692.8 183.7,692.8 183.2,689.9 184.2,687.7 183.7,686.4 184.3,685.3 183.8,689.6 183.4,688.3 184.7,685.3 184.6,681.3 184.5,681.2 185.2,682.5 185.7,685.3 186.1,686.0 186.1,686.6 186.9,685.6 187.1,686.7 187.2,688.8 186.9,688.7 187.5,688.9 187.8,689.8 188.0,694.1 187.8,689.5 187.0,693.5 187.4,695.0 187.0,696.0 187.4,696.5 187.6,698.0 188.6,699.4 188.5,699.6 188.8,702.6 188.9,703.2 187.9,704.2 189.0,706.4 188.9,704.7 189.0,705.3 189.0,705.7 189.2,707.5 190.2,707.1 189.9,705.1 189.9,706.6 189.9,703.1 190.7,704.8 190.7,703.3 191.1,702.2 191.6,699.1 191.6,698.1 192.7,698.5 192.2,698.9 192.5,699.7 191.8,694.9 192.3,694.5 192.6,692.4 192.7,693.2 192.7,693.5 192.0,690.8 193.0,687.9 193.0,689.7 193.2,687.7 193.8,688.4 194.1,686.0 193.7,683.2 193.5,682.3 193.9,681.2 194.7,684.5 195.9,683.1 196.8,682.3 198.2,681.3 199.0,683.4 200.1,683.0 200.9,682.5 201.2,685.1 201.3,684.6 201.0,688.1 201.6,686.9 201.7,689.1 202.3,689.0 202.6,691.3 202.9,689.8 202.7,693.4 202.7,693.9 203.3,693.4 203.8,692.8 203.6,691.9 203.8,691.7 204.0,691.3 203.9,688.4 204.5,687.4 204.4,687.9 204.9,686.1 204.6,684.4 205.4,683.3 205.4,681.3 205.6,681.2 206.6,681.2 207.6,681.2 209.0,681.4 209.8,681.6 211.1,681.2 211.9,681.2 212.9,682.7 213.6,682.9 214.5,682.4 215.5,685.0 216.3,684.1 217.1,687.6 218.0,685.7 218.7,685.9 219.7,686.4 220.8,686.5 221.1,686.4 222.5,684.8 223.5,683.6 224.0,683.9 225.0,685.7 225.9,682.5 226.4,684.0 226.0,685.8 226.5,685.3 227.1,687.9 226.6,689.5 226.8,692.2 227.1,690.8 227.6,690.8 227.4,692.3 227.8,693.5 227.9,696.7 228.3,695.0 228.7,695.9 228.7,693.7 229.1,691.7 228.6,694.6 229.1,689.7 229.3,689.0 229.2,689.3 229.3,690.6 229.0,685.7 230.3,686.1 230.3,685.3 230.4,682.1 229.7,683.5 230.6,681.2 231.6,683.0 232.8,683.5 233.7,682.6 234.9,683.1 236.1,682.5 236.9,685.8 236.8,685.4 236.4,687.9 237.3,688.9 237.5,688.2 237.8,690.5 238.0,691.4 238.4,691.1 238.4,690.4 238.1,693.4 238.5,694.7 238.8,695.6 238.9,696.6 239.2,696.6 238.1,700.8 238.8,700.9 239.2,700.8 239.1,698.2 239.8,701.5 239.4,699.6 239.9,701.8 239.5,708.0 239.3,708.3 239.4,705.6 239.3,707.8 239.1,706.5 239.9,708.5 239.3,710.6 240.5,709.5 239.8,713.6 240.2,714.0 240.4,715.1 240.1,717.8 239.2,717.2 239.6,716.8 239.7,717.7 241.0,724.0 240.8,721.7 241.0,723.9 240.7,724.8 240.4,724.7 240.8,724.7 240.7,726.7 240.8,723.3 241.3,722.5 241.2,719.7 241.1,718.7 241.9,722.3 241.5,717.7 241.9,719.2 242.5,716.3 242.6,716.0 242.3,715.4 242.7,714.7 243.0,712.1 243.1,710.6 243.3,711.5 243.0,711.8 243.6,709.1 243.6,706.4 243.7,707.8 243.3,703.5 243.6,705.9 244.2,703.5 243.8,702.7 244.4,704.2 244.1,701.7 243.9,698.2 244.5,698.6 244.3,695.6 244.0,694.9 244.7,692.3 244.6,692.0 245.4,692.8 245.1,693.9 245.4,692.2 245.6,690.7 245.3,689.4 245.5,687.2 245.2,688.3 246.3,689.5 244.4,690.7 245.9,693.1 246.1,692.9 246.5,692.2 245.0,696.9 245.5,697.0 244.8,695.6 246.7,699.0 246.5,697.3 246.0,701.0 246.5,703.9 246.8,702.4 247.1,703.5 246.9,704.2 247.3,704.9 245.8,704.3 246.3,708.4 247.6,711.5 248.2,707.7 247.6,709.7 246.9,711.1 247.1,709.3 247.0,712.2 247.5,712.8 247.8,709.9 247.3,708.7 247.9,710.8 247.5,707.6 248.1,709.0 248.0,706.5 249.1,706.9 248.6,704.7 248.9,704.3 249.1,703.1 249.2,701.9 249.2,703.7 249.6,699.5 250.2,698.9 249.6,695.6 250.2,696.6 249.8,694.8 250.8,694.2 250.0,691.1 250.4,693.2 250.9,690.3 251.2,692.3 251.4,693.8 251.8,693.7 251.9,696.0 251.5,695.0 251.4,696.6 251.7,696.4 252.0,698.9 252.4,700.4 252.3,701.7 253.2,701.0 253.2,706.3 252.4,705.4 252.7,703.0 253.3,705.9 253.5,704.3 254.1,702.8 254.0,705.0 253.5,699.9 253.4,704.0 253.3,700.6 253.8,699.7 254.2,697.0 254.2,697.8 254.7,695.0 254.8,695.9 254.2,694.7 254.6,694.7 255.1,693.2 255.4,690.3 254.6,689.4 255.2,688.9 255.1,691.7 255.3,688.7 255.0,686.9 255.1,687.8 255.6,684.1 256.3,684.8 257.5,681.3 258.0,681.2 259.3,681.2 260.6,682.2 261.9,681.2 260.9,683.8 262.3,685.2 261.9,685.3 262.7,683.9 262.6,686.5 262.9,685.6 263.4,688.1 262.6,688.9 263.5,689.0 263.6,691.7 262.4,690.9 261.9,692.2 262.9,693.0 263.7,697.3 263.4,696.6 263.8,698.5 263.7,699.7 264.0,701.3 263.8,704.5 264.3,700.9 264.4,704.2 264.7,705.0 265.0,702.9 264.8,707.0 265.1,707.7 265.6,710.5 265.0,709.4 265.7,711.0 265.8,710.6 265.6,712.6 266.7,713.6 265.3,713.7 265.3,715.7 266.2,716.8 266.4,718.3 266.8,719.5 267.1,717.9 267.4,719.9 267.1,722.0 266.9,723.9 266.8,721.0 267.3,722.7 267.2,725.3 267.0,726.2 267.2,727.8 267.2,728.5 268.1,729.2 268.5,729.0 268.5,733.8 268.2,732.1 268.1,732.5 268.3,733.8 268.6,732.8 269.2,731.3 268.6,729.1 269.0,731.7 268.6,726.2 269.7,726.6 268.8,725.3 268.7,724.7 269.2,720.3 269.6,721.7 269.5,722.3 270.2,720.5 268.8,717.8 270.1,720.2 269.3,716.8 270.0,715.2 270.5,713.3 271.3,713.7 270.5,712.2 271.0,711.4 270.9,712.2 270.9,711.5 271.7,709.5 272.1,709.1 271.9,707.7 272.2,706.0 272.8,704.4 273.2,707.7 272.4,703.7 273.2,710.1 273.2,710.3 273.1,709.9 273.3,712.8 272.6,711.4 272.9,709.3 272.6,714.7 274.7,713.9 274.3,714.7 274.4,719.5 273.6,718.6 273.6,722.0 273.5,717.6 274.0,720.0 274.7,720.4 272.5,724.6 273.4,721.8 273.3,725.1 273.1,731.1 274.0,727.8 275.0,727.2 274.6,731.2 274.4,732.9 275.2,730.5 274.4,734.2 274.6,733.1 275.1,736.0 274.1,734.8 274.9,735.0 274.0,741.3 274.4,737.1 275.2,737.7 275.4,740.3 275.8,742.4 275.2,741.9 275.5,740.8 276.2,739.5 275.4,739.2 275.1,740.0 275.7,738.3 275.2,734.5 276.2,734.9 275.8,734.1 275.9,732.9 277.3,732.0 275.5,727.4 277.3,733.4 276.6,732.8 277.0,725.8 276.2,729.8 275.8,730.0 275.9,726.1 276.1,724.4 277.0,724.0 275.7,723.2 276.5,719.2 275.7,718.0 277.5,719.4 276.4,720.2 277.2,719.7 276.8,713.4 276.1,716.7 277.9,715.7 278.7,711.2 277.2,711.3 275.8,711.4 277.8,710.1 276.2,709.6 276.8,707.3 276.9,708.1 278.9,707.5 278.2,703.7 277.9,703.3 277.1,703.8 276.6,702.9 277.6,700.7 277.5,700.4 277.5,698.1 277.6,696.1 276.7,696.9 278.3,696.4 277.5,694.4 277.9,692.2 277.5,692.1 278.0,690.8 278.7,692.6 279.3,690.6 277.6,686.4 278.4,686.8 279.1,687.1 279.7,687.6 280.2,684.1 281.0,687.4 281.6,682.6 281.9,686.5 282.1,685.6 282.2,687.6 282.6,687.0 282.7,690.1 282.7,689.5 283.4,691.8 283.0,689.6 283.0,691.3 283.9,695.8 284.0,693.6 283.9,695.8 284.0,696.7 284.4,698.2 284.8,697.4 284.5,699.3 285.0,699.7 285.6,700.8 285.5,701.4 284.4,701.8 285.8,703.5 285.0,707.3 284.8,707.7 284.7,707.4 285.1,709.8 285.3,706.9 286.9,708.6 285.6,713.7 285.9,714.5 286.1,717.4 285.3,714.0 286.3,717.8 285.5,715.9 286.8,719.0 286.6,717.2 287.7,719.2 285.9,724.1 287.4,724.0 285.8,721.9 286.3,722.5 287.7,725.8 286.8,726.8 286.2,727.1 286.9,725.9 286.9,727.9 286.4,724.4 286.5,724.4 287.4,728.4 286.7,724.8 288.2,721.8 286.9,722.6 287.5,721.3 287.8,722.6 287.0,718.4 287.3,721.1 287.3,717.4 287.4,717.0 287.7,717.5 287.8,710.4 287.3,712.2 287.4,711.5 288.8,714.4 288.1,710.1 287.0,712.4 289.2,707.1 288.9,704.5 288.7,704.7 288.8,706.6 289.9,703.2 288.4,701.0 289.2,702.8 288.0,700.1 289.0,699.5 289.2,700.2 290.1,700.1 289.8,697.4 290.1,696.9 290.4,694.9 291.0,696.5 291.2,692.1 291.4,693.8 291.9,691.6 291.8,688.9 292.6,691.5 292.4,688.2 293.2,686.8 293.9,687.0 294.8,688.4 295.8,687.5 296.1,682.0 296.9,682.4 297.4,681.6 297.7,682.9 298.6,681.9 298.7,685.7 299.5,689.8 299.7,685.3 300.8,688.4 301.1,689.5 301.6,689.0 301.5,691.2 301.8,692.2 302.7,690.3 302.1,692.3 302.8,695.7 302.9,696.4 303.2,698.8 303.9,697.8 303.6,698.9 303.5,699.8 304.2,701.8 304.7,701.0 305.1,702.4 304.7,704.4 304.9,706.0 305.2,708.4 305.4,708.7 305.8,706.9 305.8,705.6 306.1,706.5 306.0,706.4 306.6,704.0 306.8,702.6 307.4,700.3 307.5,700.3 308.3,699.2 307.9,700.8 307.6,696.8 308.3,697.8 308.2,695.6 308.8,692.8 308.9,693.9 308.8,693.1 309.0,692.4 309.4,690.6 310.1,687.9 309.8,690.0 310.0,686.8 310.5,685.6 311.3,685.0 311.2,684.1 312.1,685.8 312.4,682.1 313.2,681.6 313.5,683.4 314.0,684.4 314.3,684.4 315.0,684.7 315.4,688.5 315.9,690.1 316.3,686.8 316.6,691.7 317.4,692.5 317.4,691.1 317.1,693.2 317.8,693.8 317.2,693.1 317.4,696.0 318.1,696.3 318.0,698.1 318.4,700.5 319.2,698.6 319.1,700.3 318.9,701.1 319.1,703.9 319.2,702.8 319.7,703.6 319.6,703.2 319.5,705.8 320.5,707.5 320.2,707.5 319.8,711.7 320.1,709.9 320.6,711.1 320.6,712.7 320.6,712.1 320.6,709.6 321.2,707.1 321.7,705.4 322.0,706.3 321.9,706.3 322.3,705.3 322.3,702.4 321.8,703.0 322.4,701.2 322.7,699.8 323.1,698.4 323.2,696.5 323.7,698.0 323.1,696.4 323.4,697.6 323.7,693.2 324.7,693.8 326.0,691.7 327.0,692.6 327.9,691.1 328.4,690.3 328.6,690.3 329.4,689.2 330.0,688.3 330.1,687.7 330.7,685.5 331.0,687.0 331.9,684.5 332.1,682.6 333.2,682.9 334.3,684.6 335.5,685.0 336.4,683.0 337.4,681.6 337.7,684.7 337.6,684.2 337.2,685.4 338.4,687.8 338.5,690.1 338.3,689.9 338.6,691.5 339.0,689.0 338.9,694.1 339.3,692.9 339.9,694.4 339.5,694.2 340.1,694.5 340.3,693.4 340.7,694.3 341.4,692.8 341.3,692.1 341.9,688.7 342.7,689.1 342.4,687.2 343.5,686.9 343.5,686.7 344.1,684.7 344.1,685.1 344.8,681.6 345.0,683.8 345.8,685.1 345.9,684.2 345.8,688.4 346.0,689.4 347.0,687.6 346.8,689.5 347.5,690.4 347.3,693.5 348.2,695.0 348.1,694.0 348.6,694.2 349.2,696.9 349.3,696.5 349.6,698.2 350.0,697.4 350.4,698.4 350.6,696.0 350.9,694.7 351.1,697.1 351.4,693.8 351.9,691.9 352.0,690.2 352.3,689.9 352.2,689.6 352.6,687.3 352.6,689.1 352.8,685.4 353.3,687.1 353.7,683.3 354.2,682.6 354.3,681.6 354.5,685.4 355.3,687.3 355.8,683.7 355.8,686.4 356.4,687.6 356.9,687.2 357.6,689.2 357.4,690.5 358.1,691.8 358.5,691.1 358.1,691.9 358.3,694.8 359.2,697.7 359.7,693.3 360.0,696.4 359.6,698.3 359.7,698.9 360.7,699.9 361.0,700.9 361.0,702.0 361.5,701.0 361.8,703.0 361.6,703.7 361.7,705.2 362.2,703.3 361.7,701.5 362.5,699.5 363.1,699.1 362.4,699.7 362.6,698.5 362.9,697.5 363.2,694.6 364.2,695.7 364.1,693.7 363.8,693.1 363.9,693.6 364.4,690.7 364.6,692.3 364.9,688.0 365.5,686.3 364.8,687.8 365.4,683.4 365.0,683.9 365.7,683.7 365.8,681.6 365.8,683.6 366.2,683.9 366.2,686.3 367.4,686.8 367.0,686.0 367.0,689.5 368.0,689.9 367.6,691.6 368.3,691.7 368.0,691.6 368.5,692.3 368.4,695.0 368.9,695.9 369.3,696.6 369.9,698.2 370.0,697.0 370.0,700.1 370.0,699.5 370.2,699.9 370.6,698.9 370.6,699.0 371.7,696.5 371.7,693.1 372.4,695.7 372.0,693.6 372.3,693.3 372.6,692.3 372.6,691.7 373.4,690.3 374.0,688.8 374.3,689.8 374.9,686.0 374.3,684.3 375.2,683.2 375.3,682.6 375.3,684.2 375.5,683.9 375.7,687.3 376.1,688.5 376.8,688.6 377.0,690.9 377.1,690.0 377.1,690.3 377.7,693.8 377.7,695.5 378.1,695.4 378.8,695.4 379.0,696.1 378.6,695.4 379.7,697.1 379.6,698.4 380.3,700.5 380.3,701.2 380.6,701.6 380.5,701.3 381.2,700.1 381.4,702.0 381.8,699.7 382.2,697.1 382.7,696.1 382.5,694.6 383.2,693.2 383.2,694.7 384.1,692.3 383.8,692.1 384.9,689.0 384.9,689.5 385.3,688.4 385.4,686.7 385.7,687.5 385.8,684.7 386.5,685.2 387.7,684.3 388.6,684.1 389.5,684.2 390.9,682.9 390.8,682.2 392.2,681.6 392.9,682.8 394.4,684.0 395.2,682.6 396.5,682.9 397.7,683.4 398.7,682.4 399.7,683.7 400.6,682.6 401.1,685.2 401.7,686.1 402.3,686.2 403.2,686.2 403.3,689.8 404.1,689.7 404.8,689.0 406.1,689.9 406.8,690.6 408.3,690.3 409.2,692.0 410.0,690.6 411.1,691.1 411.5,690.1 412.3,689.8 413.0,690.1 413.0,689.5 413.0,687.4 413.8,687.4 414.4,685.4 414.7,683.7 415.3,682.6 415.8,685.7 416.1,684.6 416.8,686.0 417.0,687.8 417.3,688.9 417.8,687.0 418.4,690.7 418.9,691.3 419.1,693.1 419.6,691.5 419.9,694.7 420.6,694.2 421.4,693.3 421.5,693.9 421.6,690.8 422.1,694.0 422.6,688.4 423.1,688.4 423.3,688.7 423.9,687.2 424.6,684.8 425.1,683.8 424.9,685.0 425.4,683.4 425.9,681.6 426.9,683.0 428.0,683.4 429.0,684.6 430.3,684.7 431.2,684.2 432.3,684.7 433.1,685.4 434.3,684.7 434.9,686.2 436.3,686.5 436.8,687.9 438.1,689.2 438.9,687.2 439.5,687.9 440.6,687.9 441.4,687.2 442.4,687.8 443.0,684.8 443.6,684.6 444.7,685.6 445.6,685.2 446.0,683.0 446.9,681.6 446.7,684.2 447.0,687.1 447.7,682.7 447.4,686.7 447.3,689.2 447.1,688.8 448.2,688.7 448.1,691.5 448.2,691.4 447.6,693.1 448.1,694.2 448.4,695.0 447.5,698.0 448.4,696.6 448.9,700.5 448.5,699.2 449.5,700.5 448.3,701.3 449.3,701.7 449.6,702.4 449.2,702.7 449.2,704.5 449.2,704.6 449.8,704.9 449.0,707.6 449.7,707.2 450.0,711.5 449.9,710.3 450.1,711.1 451.1,711.7 452.2,712.3 453.2,712.1 453.6,710.8 453.7,713.3 453.8,711.8 453.8,709.5 454.0,708.7 454.5,707.0 455.2,705.0 454.3,707.0 455.5,702.1 455.0,703.1 455.7,701.3 455.7,700.8 455.5,703.2 456.5,699.3 456.6,697.8 456.4,696.3 456.8,697.8 457.4,698.8 457.6,700.8 458.1,699.6 458.5,701.6 458.5,704.1 459.0,705.7 459.8,703.5 458.8,711.0 459.5,707.6 459.6,708.8 460.1,711.2 460.4,712.0 460.7,713.3 461.0,714.0 461.3,711.8 461.3,714.0 460.6,714.2 461.7,715.3 462.3,713.0 461.8,714.1 462.6,712.0 462.6,711.1 462.3,711.4 462.4,711.6 463.0,710.0 463.2,706.0 463.6,706.7 463.5,706.6 462.6,705.8 463.3,705.2 463.0,702.0 462.7,701.6 463.0,703.1 463.1,700.8 463.0,696.7 463.4,699.9 463.0,697.5 464.2,696.2 462.5,694.8 463.8,696.0 463.9,691.9 464.3,691.5 464.6,691.3 463.6,689.0 464.0,689.8 465.4,684.8 464.2,685.5 465.6,684.0 464.3,685.1 464.8,682.6 465.5,684.1 466.1,683.5 466.4,682.7 467.0,681.2 467.7,685.2 467.8,682.6 467.8,687.1 468.0,686.1 468.4,686.1 468.8,687.4 469.2,687.3 469.4,688.8 469.8,688.3 470.1,687.0 470.5,688.6 470.9,685.6 471.3,683.9 471.5,683.0 472.2,681.9 472.5,681.2 473.3,682.3 474.4,682.3 475.6,682.5 475.8,685.0 476.1,684.9 476.8,687.4 476.6,687.8 477.3,690.9 477.6,689.1 477.7,690.5 478.6,691.0 479.2,694.3 479.7,692.0 479.4,694.8 480.1,695.0 480.3,695.0 480.7,695.6 481.6,695.1 481.7,691.0 483.0,691.7 483.4,690.3 484.8,693.6 486.0,691.0 487.1,690.0 488.1,690.3 488.7,691.0 490.3,689.6 490.8,690.0 491.9,689.3 492.8,687.2 492.9,686.4 493.3,686.4 492.6,682.7 493.4,688.0 493.8,682.5 493.6,681.2 494.4,684.3 495.8,681.2 496.7,682.7 498.2,681.2 498.7,681.8 499.3,684.6 500.6,681.2 501.9,682.6 502.9,682.4 504.0,681.8 505.1,681.2 506.3,681.8 507.3,681.9 508.4,681.2 509.1,682.1 509.6,683.3 509.9,684.2 510.8,686.2 511.1,688.0 512.2,688.6 512.3,687.2 512.7,689.2 514.0,690.4 513.4,691.1 514.7,692.7 515.2,695.5 515.5,693.4 515.7,695.5 515.7,691.8 515.7,692.3 515.9,690.3 516.4,688.6 516.9,687.0 517.0,685.6 517.5,685.0 517.3,684.2 517.2,684.1 517.8,681.7 519.0,682.5 519.8,682.9 521.1,681.3 522.0,682.5 523.3,682.1 524.3,682.3 525.6,681.2 526.5,682.5 527.4,682.7 528.2,685.5 529.5,682.5 529.8,683.0 530.0,687.8 529.7,686.6 529.9,687.7 530.4,687.8 529.9,686.3 530.5,688.6 530.3,693.4 530.6,692.2 530.9,690.9 531.1,693.4 531.9,692.2 531.8,691.5 531.6,690.3 532.4,689.3 532.1,689.3 531.8,687.9 531.8,684.7 533.1,685.1 533.3,687.0 533.0,684.5 533.4,681.7 534.5,682.4 536.3,682.8 536.9,681.9 538.1,682.5 538.8,683.0 539.9,685.7 540.4,685.9 541.2,685.6 541.9,685.0 542.7,684.6 543.4,684.1 543.7,683.0 544.4,681.7 545.4,681.7 546.3,682.3 547.7,682.3 548.6,683.5 549.6,683.9 550.5,681.9 551.5,681.8 552.8,683.3 553.8,682.5 554.9,682.1 556.0,684.3 556.9,686.8 558.2,683.8 559.4,683.8 560.5,685.0 561.6,684.1 562.6,685.2 563.9,685.0 564.4,684.2 565.4,682.3 566.4,683.7 567.2,681.7 568.5,682.3 569.4,681.7 570.4,683.0 571.3,683.7 572.6,683.7 573.3,686.3 574.8,685.3 575.6,684.1 576.6,684.9 577.2,684.9 578.7,684.2 579.5,682.9 580.4,683.0 581.7,682.5 582.4,681.8 583.4,681.2 584.5,683.5 585.8,682.5 586.4,681.2 587.7,681.6 588.7,681.2 590.0,681.8 590.7,682.1 591.8,681.2 592.8,681.2 594.0,683.6 594.9,682.7 596.3,682.2 597.5,682.5 597.9,685.2 598.4,687.1 599.0,686.7 599.6,687.6 600.2,687.5 600.6,688.8 600.9,688.9 601.6,689.9 601.7,685.8 603.0,684.6 602.3,685.3 603.4,685.5 603.8,681.7 604.6,682.7 605.9,682.3 607.0,685.8 607.9,682.8 608.8,683.2 610.0,683.4 610.9,684.6 611.9,682.3 613.1,681.7 614.2,682.8 615.0,682.8 616.3,683.9 616.9,683.5 618.8,682.7 619.3,681.2 620.6,683.1 621.3,684.5 622.5,681.7 623.6,683.9 624.7,682.9 625.9,682.3 626.8,683.5 627.9,683.1 628.8,681.7 629.6,683.0 629.4,685.2 629.7,685.1 630.1,686.0 630.5,687.4 630.3,688.8 630.5,691.4 631.0,690.0 631.7,691.8 631.9,691.9 632.7,692.4 633.4,690.6 634.2,689.5 634.8,689.8 635.4,687.2 636.1,688.4 636.6,686.4 637.7,686.8 638.8,686.8 639.8,687.1 641.2,685.6 641.8,686.9 642.2,691.8 642.0,692.2 642.5,690.1 643.4,690.0 644.1,693.2 644.2,694.2 644.3,695.7 645.0,695.3 645.6,696.5 645.9,696.6 647.0,699.5 648.3,697.3 648.3,699.6 648.9,699.1 649.7,700.5 648.7,703.3 649.7,704.3 649.7,704.5 650.3,704.4 650.8,706.6 651.6,706.3 651.6,709.8 651.4,708.3 651.8,708.1 652.0,707.7 652.5,705.7 652.3,706.3 653.1,704.7 653.0,702.6 653.7,702.9 654.2,701.5 654.3,700.0 654.5,698.1 655.8,698.7 656.6,698.6 657.7,698.1 658.0,700.2 658.5,699.5 659.4,702.3 659.5,703.5 660.6,703.6 660.8,703.6 661.3,704.2 661.5,703.1 661.7,699.1 661.8,700.6 662.1,697.8 662.6,698.1 662.9,697.1 662.9,695.2 662.9,694.9 662.9,695.1 663.3,691.9 664.2,692.1 663.7,691.8 664.2,689.6 664.7,688.0 664.7,687.2 664.6,687.8 664.5,693.8 665.4,692.0 665.8,691.9 665.1,693.3 666.3,695.5 665.9,694.3 666.1,696.7 666.3,696.6 666.5,697.8 666.8,698.0 667.0,700.4 667.5,701.5 667.6,702.3 667.8,702.8 668.5,703.1 669.2,703.7 670.2,702.3 670.9,699.7 671.8,699.9 672.0,698.2 672.7,697.7 673.1,697.1 673.4,695.2 674.1,693.4 674.6,695.0 675.3,697.7 675.5,697.8 675.9,701.5 676.8,698.5 677.2,699.7 677.8,700.6 678.4,700.3 679.1,697.6 679.4,696.6 680.3,695.0 680.7,694.5 681.0,694.8 681.8,693.5 682.6,693.4 683.0,690.6 683.4,689.5 683.5,690.2 684.7,687.5 685.0,686.4 685.5,687.6 686.5,689.3 686.7,690.4 687.5,690.3 688.1,690.3 688.8,691.4 690.0,689.2 690.5,687.2 691.1,689.2 690.8,690.2 691.1,691.5 691.9,690.0 690.7,694.0 690.6,694.6 691.4,698.5 690.4,696.6 692.4,697.7 691.9,698.4 690.3,701.0 691.0,702.9 691.7,701.2 693.0,702.5 691.2,703.4 691.8,703.8 692.5,707.8 691.7,707.5 691.5,707.3 691.8,709.2 691.6,707.5 692.2,709.5 692.6,712.4 692.6,712.8 692.6,716.7 693.0,718.0 692.4,719.4 693.0,717.2 692.8,716.9 693.4,718.0 692.4,720.3 692.8,719.5 693.4,723.8 692.8,724.0 693.9,725.9 693.9,725.3 693.3,724.7 693.6,731.0 694.2,727.6 693.9,732.7 694.9,732.6 693.9,729.6 693.8,733.7 694.7,733.8 694.3,732.0 695.2,734.7 694.0,733.9 695.2,736.6 696.2,738.9 694.8,740.8 694.3,741.0 695.2,740.3 695.7,738.2 694.6,739.3 695.9,740.2 695.8,739.4 695.5,734.0 695.5,733.1 695.5,734.2 696.5,732.5 695.9,733.3 696.7,731.1 696.0,730.4 697.1,728.4 696.1,728.4 696.6,725.7 696.9,726.3 697.3,725.3 697.7,722.6 697.5,721.6 697.8,721.6 698.8,723.3 699.5,721.9 700.7,724.4 701.4,726.1 702.5,724.7 703.3,725.2 704.0,728.0 704.4,727.2 705.6,727.8 705.9,727.5 706.9,727.6 707.7,727.3 708.2,725.8 708.8,723.1 709.1,726.2 708.9,726.3 709.6,727.6 710.1,727.4 710.5,730.8 710.7,729.1 711.3,730.8 711.3,732.1 711.9,732.5 712.7,731.2 713.0,732.4 713.4,729.3 714.1,728.2 714.3,728.9 715.0,726.2 715.4,728.6 715.7,728.3 715.9,729.8 716.4,733.2 716.5,732.9 716.7,735.3 717.0,733.2 717.4,734.9 717.9,736.2 718.2,736.4 717.8,739.1 718.6,740.3 718.9,739.9 719.0,740.9 719.5,742.4 719.7,741.9 720.3,744.8 720.7,741.6 721.1,739.7 722.0,738.7 722.1,737.6 722.8,735.6 723.2,735.4 724.1,734.7 725.1,734.3 725.3,732.3 725.9,730.9 726.2,730.5 725.7,728.9 726.2,727.8 726.7,726.2 726.4,727.7 725.4,725.5 726.7,726.9 726.5,723.7 727.0,724.8 726.7,721.9 727.9,719.3 727.9,722.2 728.0,718.3 728.6,720.6 728.3,716.4 728.2,715.1 728.3,713.2 727.7,714.0 728.8,710.8 728.6,710.9 728.5,709.8 729.1,708.8 729.1,707.5 729.2,707.6 729.2,706.3 729.5,705.9 730.3,702.7 729.9,703.0 730.9,704.4 730.5,699.5 731.0,700.8 731.7,699.4 731.6,698.2 731.5,697.9 732.0,697.1 732.0,695.5 732.0,693.2 732.6,695.0 733.2,692.2 733.6,692.1 733.0,691.6 733.8,688.8 734.5,688.5 734.8,688.2 735.1,687.1 735.5,685.1 735.8,684.2 736.9,682.5 737.9,683.2 739.0,682.5 740.1,683.0 741.2,682.8 742.1,681.3 743.1,681.7 744.3,685.0 745.1,686.7 746.2,684.1 746.6,685.7 746.9,687.8 747.2,687.8 747.8,688.7 747.5,690.5 748.1,691.1 748.6,694.5 749.6,693.7 749.4,697.3 750.2,696.2 750.2,695.0 750.0,694.7 750.3,692.9 750.4,691.9 750.8,692.6 750.9,693.5 751.2,689.3 750.5,688.3 750.5,688.7 751.9,688.2 751.9,684.4 752.6,685.7 751.7,682.5 752.7,683.5 753.6,682.6 754.5,683.0 755.7,683.2 756.9,683.2 757.7,682.8 758.8,682.5 759.2,684.0 759.3,685.1 759.5,684.7 759.9,688.0 759.9,687.6 759.8,690.4 760.5,689.8 760.4,691.9 761.0,693.3 761.0,691.3 761.7,695.3 761.9,696.1 761.7,697.0 762.3,697.4 762.1,699.1 762.7,699.5 763.1,698.5 762.7,702.5 763.4,701.2 764.5,702.7 765.0,702.8 764.6,703.2 765.6,700.9 765.5,700.8 765.1,700.2 766.2,697.7 766.6,698.7 766.1,697.6 766.2,697.6 766.6,693.1 767.3,695.4 767.0,693.1 766.6,691.0 767.3,689.4 768.0,688.5 767.9,687.4 768.2,687.9 768.1,685.6 769.1,687.6 770.1,685.4 771.2,685.6 771.8,683.9 773.1,685.2 773.8,683.5 774.9,685.2 775.9,682.5 776.5,684.3 776.8,685.5 777.7,687.2 778.1,686.8 779.0,688.5 779.1,688.8 780.0,689.0 780.1,687.5 780.5,687.3 781.1,687.1 781.7,683.9 782.3,683.6 783.0,682.9 783.8,681.7 783.7,682.2 784.4,686.0 784.1,687.7 784.5,687.0 785.1,688.2 785.3,690.0 785.7,690.7 786.1,689.7 786.2,690.6 786.3,693.0 786.5,692.7 786.9,693.4 787.2,694.0 788.2,695.9 788.1,698.1 789.3,696.6 789.0,698.1 790.2,701.3 790.7,700.5 790.6,701.0 791.6,701.2 791.9,702.3 791.9,704.6 790.8,705.6 791.8,706.2 792.0,706.0 792.0,715.0 791.7,709.3 793.0,709.1 791.8,713.5 793.4,713.9 792.7,712.0 792.3,713.4 792.6,716.9 792.8,717.7 793.0,715.9 794.0,718.9 793.4,717.1 793.4,720.0 793.9,721.2 794.1,721.2 794.7,724.7 793.8,725.4 793.7,726.7 793.6,727.3 793.8,728.7 794.1,728.0 794.0,728.5 795.1,734.4 794.4,732.5 794.2,733.0 794.7,732.5 794.6,733.1 794.7,730.2 795.2,730.9 794.6,729.3 794.7,728.9 794.6,725.3 796.4,727.5 795.7,727.6 795.0,726.0 795.7,720.8 795.6,724.0 796.1,720.2 795.7,721.9 796.4,719.2 796.1,718.8 795.8,716.6 796.0,715.1 796.9,715.5 797.0,713.3 796.6,714.7 796.2,712.4 797.2,711.8 797.0,709.1 797.4,710.9 797.8,712.6 798.5,709.6 799.0,715.0 799.2,715.5 800.0,714.4 800.2,716.4 800.4,717.5 800.9,716.9 801.4,720.4 801.9,721.3 802.5,720.0 803.0,719.8 803.5,717.7 803.4,718.5 803.6,716.7 803.3,717.0 804.8,715.5 804.0,714.5 804.8,713.2 805.4,711.9 805.8,711.0 805.6,709.1 806.2,711.3 807.2,713.1 807.5,713.1 808.2,714.4 809.5,714.3 809.7,714.6 810.3,715.3 810.4,714.0 811.7,713.2 812.2,715.0 812.7,712.7 813.4,710.6 813.9,713.1 814.0,715.2 814.4,714.4 815.1,714.0 815.7,716.0 816.3,716.7 816.4,718.7 816.7,718.9 817.3,719.2 817.6,718.4 818.0,718.3 818.4,718.0 818.3,716.3 818.5,714.8 818.5,715.1 819.1,711.6 818.9,712.5 819.5,711.9 819.5,710.5 820.2,708.4 820.4,709.6 820.5,706.5 820.6,706.7 820.4,705.0 821.2,702.8 822.4,703.9 823.7,705.8 825.1,703.8 825.9,704.4 826.5,703.8 825.5,707.3 826.3,709.2 826.0,713.3 827.4,707.5 827.0,711.1 826.8,711.0 826.5,714.4 826.6,712.8 827.4,713.3 827.3,718.2 827.5,716.9 827.6,717.9 827.4,716.1 827.9,715.9 828.1,713.0 828.4,710.8 828.4,710.2 829.1,712.2 828.9,709.2 829.1,708.6 829.6,707.7 829.2,706.8 828.9,702.5 829.6,704.6 830.3,703.8 830.5,704.6 829.7,702.1 830.6,699.7 830.4,698.5 831.2,697.9 831.0,698.1 831.6,696.0 831.6,693.9 831.5,694.7 832.3,693.0 832.8,690.9 832.6,689.3 833.0,689.8 833.4,688.8 833.6,690.8 833.4,688.8 833.8,685.6 835.5,686.6 836.2,685.6 837.4,685.6 838.4,684.8 839.1,684.6 840.3,683.0 841.6,684.1 842.2,683.1 843.1,681.7 844.0,682.5 845.7,683.3 846.5,683.5 847.8,681.7 848.4,685.0 849.2,684.2 849.9,684.6 850.1,685.1 850.8,686.5 851.3,690.0 851.9,689.0 852.5,688.8 853.3,689.3 854.2,690.4 854.5,691.5 855.2,692.6 856.5,692.3 857.6,693.4 858.0,695.1 858.8,694.6 859.5,695.0 860.0,694.5 860.7,694.0 860.4,693.1 861.5,693.2 861.7,692.4 862.0,691.1 862.4,690.3 863.0,687.1 863.3,687.1 863.9,685.7 864.0,686.8 864.4,683.9 865.0,682.5 866.0,682.8 867.4,685.1 868.4,684.0 869.6,682.3 870.8,682.9 871.8,682.3 872.8,681.7 873.9,682.6 875.1,683.2 876.3,682.4 877.1,682.1 878.1,683.8 879.8,683.4 880.6,682.5 880.9,682.8 881.5,685.2 881.8,685.0 882.4,687.0 882.4,688.8 882.8,691.3 883.0,689.7 883.6,692.0 883.8,690.9 884.3,694.5 884.5,693.4 885.1,693.3 884.9,693.6 885.9,689.0 886.0,690.8 886.4,691.9 887.2,688.9 886.9,687.4 887.4,687.4 888.0,686.1 888.0,684.1 888.4,682.5 888.8,684.2 888.9,684.4 889.9,685.6 890.1,688.6 890.3,690.0 890.7,688.6 891.2,692.4 891.2,691.0 891.6,691.2 892.9,693.1 892.7,694.3 893.5,695.1 893.3,696.0 893.6,697.4 894.7,698.8 894.7,698.1 895.1,696.8 895.2,700.3 895.7,695.2 895.6,695.7 896.7,694.2 896.1,692.0 896.9,692.7 896.6,690.7 897.3,690.1 897.7,688.5 898.0,688.9 898.3,687.9 898.8,689.7 899.0,687.8 899.3,684.2 899.4,682.5 900.5,682.8 901.7,683.3 902.3,682.0 903.9,683.7 904.7,683.6 905.6,681.2 905.6,682.8 906.2,682.1 906.6,685.2 906.8,685.1 907.3,687.6 907.6,690.8 907.9,689.7 908.4,689.6 908.8,690.3 908.8,690.9 909.7,690.0 909.9,689.6 909.8,686.5 910.7,684.9 911.1,684.2 911.7,683.8 911.9,682.5 912.0,684.3 912.3,683.7 912.8,687.6 913.2,689.1 913.1,687.7 913.1,686.8 913.8,691.1 913.5,690.9 914.1,693.8 913.7,693.1 914.1,695.7 914.4,696.2 915.2,698.4 915.0,696.6 915.7,697.5 914.9,699.0 915.6,700.5 915.6,701.3 915.4,703.5 916.0,703.8 916.1,704.0 916.0,707.9 916.9,707.7 916.2,707.8 916.4,708.5 916.7,710.9 917.2,711.0 917.3,710.6 918.0,709.5 918.1,708.4 917.7,709.2 918.5,706.7 918.8,706.9 918.7,706.7 919.3,704.2 919.4,702.7 919.7,701.7 919.7,702.3 920.1,700.4 920.5,698.1 921.4,697.9 921.8,697.4 923.0,697.3 923.6,696.7 924.4,694.2 925.2,693.4 925.6,696.2 925.7,695.2 926.2,698.8 926.9,700.9 927.0,699.0 927.5,699.7 928.5,699.5 929.3,698.2 929.9,698.0 930.9,696.6 930.4,695.3 930.9,694.7 931.8,696.7 931.9,692.3 931.7,691.6 932.3,690.9 932.0,688.9 932.1,689.6 932.2,690.2 932.5,687.9 932.9,688.7 933.5,684.9 932.6,682.1 932.6,682.1 933.3,681.7 934.5,686.6 935.2,685.0 936.7,685.3 937.8,685.3 938.8,684.1 939.7,684.6 940.5,685.7 941.6,683.5 942.7,682.9 943.4,681.7 943.9,683.2 944.4,684.0 944.6,684.9 945.1,687.1 945.6,687.1 945.7,688.2 946.1,688.8 946.3,690.7 947.1,691.0 947.3,691.9 948.0,691.8 948.1,690.5 948.8,690.3 949.0,688.2 949.3,688.4 949.6,686.5 949.9,685.4 950.5,685.6 950.9,684.6 951.2,682.5 952.2,683.7 951.8,686.7 952.4,687.0 952.7,687.8 952.8,688.1 953.3,688.0 953.8,691.0 954.4,690.3 954.8,689.3 955.2,688.0 955.1,689.2 955.9,686.4 956.5,687.6 956.6,685.9 957.5,684.3 957.5,682.5 957.9,683.3 957.6,685.7 958.6,688.8 958.7,685.8 959.4,687.7 960.0,688.9 959.9,691.4 960.1,691.4 960.6,691.9 961.7,691.9 962.6,693.3 963.2,692.6 964.3,690.6 965.3,688.8 966.1,688.4 967.4,690.7 968.6,691.3 969.2,690.2 970.6,689.6 971.6,690.3 971.9,692.6 972.9,693.1 973.6,694.0 974.2,694.3 974.7,695.0 974.9,694.5 974.5,697.4 975.2,699.3 975.5,699.5 975.4,699.5 976.0,700.9 976.4,704.2 975.9,703.8 976.7,705.0 976.2,706.7 976.6,706.5 976.8,708.0 976.9,709.1 977.0,709.1 977.9,707.6 977.3,706.8 978.1,706.4 978.0,707.3 977.4,704.0 978.4,702.3 979.1,702.4 978.8,701.2 978.6,699.7 978.7,702.1 979.1,703.1 979.6,703.7 979.7,705.3 980.2,705.2 980.1,706.7 980.6,709.4 981.2,708.5 980.9,709.1 981.3,710.9 981.5,712.2 982.5,712.5 982.5,712.2 983.3,713.8 984.7,714.1 985.1,716.3 985.6,715.3 985.8,718.1 986.3,721.0 986.4,720.0 987.5,719.7 987.5,722.0 987.9,724.4 987.9,722.1 988.4,722.4 988.8,724.7 989.1,725.0 989.4,724.6 989.9,722.9 989.7,721.1 989.7,720.2 989.5,719.5 989.6,720.6 990.1,717.0 990.1,717.0 990.3,717.2 991.1,713.6 990.9,713.6 991.1,712.1 990.9,711.7 991.0,710.9 991.8,709.7 991.9,707.5 992.7,707.2 993.5,705.4 994.7,706.4 995.5,706.0 996.6,704.4 997.1,703.9 997.5,702.2 997.9,701.9 998.7,701.5 998.5,700.5 999.2,700.1 1000.4,699.3 1000.5,697.3 1000.8,699.1 1001.2,700.2 1001.6,701.7 1001.8,703.6 1002.4,700.9 1002.7,704.5 1002.8,705.4 1003.2,704.9 1003.2,709.0 1003.6,707.5 1004.5,709.5 1005.1,707.3 1005.9,707.6 1006.5,707.1 1007.5,704.4 1008.1,705.3 1008.7,706.8 1009.0,708.4 1009.9,708.2 1010.6,710.5 1010.7,708.9 1010.7,710.6 1011.8,711.3 1012.2,712.2 1012.8,713.1 1013.5,710.9 1014.4,709.8 1015.7,710.6 1016.2,709.3 1016.9,707.5 1018.0,711.6 1019.1,709.8 1020.2,711.3 1021.6,709.1 1021.4,711.1 1022.3,712.6 1022.6,714.1 1022.4,715.2 1023.2,714.7 1023.0,714.7 1023.1,717.7 1023.2,720.0 1023.4,719.6 1023.8,719.6 1024.2,720.7 1023.9,722.3 1024.2,722.9 1024.2,724.4 1024.6,724.7 1024.7,726.6 1025.3,724.6 1025.3,728.3 1025.5,727.8 1025.8,727.8 1025.6,725.2 1026.5,726.3 1026.3,723.2 1026.8,724.4 1027.5,723.1 1026.7,722.8 1027.7,720.3 1028.5,720.4 1028.2,718.3 1028.2,716.6 1028.6,715.3 1028.6,717.2 1028.8,718.5 1029.9,719.1 1029.8,720.8 1030.5,720.8 1030.7,721.7 1030.8,724.1 1031.5,723.7 1031.7,724.7 1031.7,724.6 1032.4,723.3 1032.0,724.5 1031.7,722.0 1032.6,721.9 1032.4,719.0 1032.8,719.2 1033.3,716.4 1032.7,718.7 1033.4,715.2 1033.3,713.8 1034.8,715.4 1035.3,715.2 1035.9,715.7 1037.5,716.2 1038.4,717.7 1038.8,716.9 1038.6,717.2 1039.3,715.5 1039.7,714.3 1039.7,715.3 1040.1,712.4 1040.2,711.6 1040.4,711.1 1041.2,710.2 1041.3,707.4 1042.0,707.8 1042.2,707.3 1042.1,705.2 1042.8,706.5 1042.8,703.1 1043.2,702.4 1043.7,702.9 1044.0,700.4 1043.8,700.9 1044.5,700.0 1044.7,697.6 1045.0,696.6 1045.5,697.2 1045.8,700.6 1046.5,702.0 1046.8,701.8 1047.1,702.0 1047.9,702.4 1048.4,703.0 1049.0,704.7 1049.3,704.0 1049.7,705.9 1050.2,708.3 1051.4,710.2 1051.7,708.6 1052.5,710.3 1052.7,710.2 1053.9,711.3 1054.4,712.2 1055.4,714.5 1056.7,714.6 1057.9,714.8 1058.1,714.0 1059.7,717.5 1060.6,715.3 1061.4,718.0 1062.2,713.8 1063.2,714.0 1063.8,712.2 1064.0,714.7 1064.1,713.3 1063.9,716.4 1064.3,716.3 1064.5,718.8 1065.5,721.8 1065.1,721.5 1064.9,725.0 1065.0,725.6 1065.1,722.7 1065.0,724.9 1065.6,725.2 1066.4,726.3 1066.0,727.9 1066.1,727.8 1066.3,727.6 1067.5,725.9 1067.9,727.0 1068.5,724.2 1069.3,726.5 1070.0,723.1 1070.3,722.9 1070.8,723.2 1072.1,721.5 1072.5,720.5 1073.4,718.6 1074.0,718.6 1074.7,716.9 1075.4,716.0 1075.7,715.9 1076.2,714.8 1076.9,713.3 1077.4,711.7 1077.8,710.6 1077.8,713.3 1078.1,712.4 1078.0,714.2 1078.7,717.1 1078.2,718.5 1078.7,717.9 1078.6,720.1 1079.3,719.5 1078.9,722.0 1079.5,724.8 1079.0,720.7 1079.4,722.3 1079.9,722.4 1080.4,724.0 1080.4,726.8 1080.7,726.7 1080.4,728.5 1080.3,732.2 1080.5,731.3 1081.1,731.6 1081.9,731.5 1081.2,731.5 1081.2,736.5 1081.1,736.6 1081.7,735.6 1082.4,735.1 1082.4,736.5 1082.8,731.9 1082.4,732.7 1083.0,730.8 1082.8,729.9 1083.4,729.3 1083.9,727.1 1083.8,725.9 1084.3,727.0 1084.4,725.7 1084.8,723.1 1085.6,723.0 1086.0,719.2 1085.1,719.8 1085.7,722.0 1085.9,718.5 1085.2,717.2 1085.5,720.0 1085.9,716.9 1085.9,712.0 1085.7,714.1 1086.6,711.5 1087.0,712.6 1086.4,712.3 1085.6,708.5 1086.4,707.9 1085.3,706.8 1085.7,707.2 1087.4,704.0 1086.1,704.4 1086.4,702.0 1086.1,702.4 1087.3,698.7 1087.6,700.5 1087.4,701.1 1086.8,699.3 1087.2,696.6 1087.5,695.9 1088.2,699.4 1087.2,695.1 1088.3,693.2 1088.2,693.4 1088.0,690.9 1088.1,689.7 1088.7,690.9 1088.5,689.8 1088.7,685.8 1088.6,683.1 1089.1,684.5 1089.1,687.2 1089.5,684.3 1089.5,681.2 1089.9,682.6 1089.7,684.9 1089.0,688.1 1089.6,687.9 1090.1,686.4 1090.7,686.3 1090.2,685.0 1090.5,690.0 1090.5,691.7 1090.8,694.2 1089.2,692.8 1091.2,695.8 1090.1,697.3 1090.0,697.7 1090.8,696.4 1090.9,700.7 1090.6,699.9 1090.5,700.4 1090.6,703.5 1091.6,702.9 1091.1,703.3 1091.1,704.9 1091.1,704.0 1092.5,708.4 1091.9,704.9 1091.9,708.8 1092.7,708.1 1091.8,707.9 1091.9,710.6 1091.7,715.1 1092.3,716.2 1090.6,715.0 1092.3,714.3 1093.2,721.7 1093.0,713.9 1092.4,723.3 1093.1,718.2 1093.3,718.0 1092.5,722.4 1092.7,720.4 1092.4,723.7 1092.8,724.1 1092.8,725.4 1092.5,728.8 1093.4,730.7 1093.7,730.6 1092.3,726.2 1092.8,726.6 1093.2,732.0 1092.8,735.6 1093.8,734.9 1093.4,733.0 1094.5,738.7 1092.7,737.5 1092.9,735.8 1094.6,738.7 1093.8,739.1 1094.3,738.6 1093.2,741.0 1093.5,747.1 1093.2,743.7 1094.7,743.9 1094.2,745.0 1093.2,744.9 1093.9,745.5 1095.4,741.3 1093.1,741.4 1095.0,738.4 1093.2,740.7 1094.3,739.0 1095.4,737.9 1094.0,733.9 1094.8,733.6 1095.5,734.5 1095.7,734.9 1094.9,733.9 1094.8,728.6 1095.0,732.2 1095.7,726.1 1095.7,728.0 1095.4,728.5 1095.4,725.3 1095.0,725.0 1095.1,725.6 1096.8,723.4 1095.9,725.3 1096.5,719.7 1095.9,721.3 1096.1,718.8 1096.3,719.1 1095.8,719.6 1095.7,717.5 1095.6,716.6 1096.7,713.3 1095.7,714.2 1097.1,711.5 1096.6,710.6 1097.1,710.6 1098.0,713.5 1098.0,715.7 1098.5,716.9 1099.3,718.5 1099.7,716.9 1100.5,719.4 1100.9,721.7 1101.4,722.3 1102.3,722.9 1102.1,722.4 1102.8,723.1 1103.7,728.3 1102.8,726.3 1102.9,726.3 1102.9,728.1 1103.3,727.6 1103.8,732.3 1103.6,731.5 1103.2,735.2 1104.5,732.7 1103.2,732.4 1103.0,734.4 1104.2,737.7 1104.3,736.7 1103.7,735.7 1103.5,739.8 1104.6,739.3 1104.4,740.3 1104.3,742.0 1104.8,739.7 1103.9,741.5 1104.7,736.1 1105.0,738.8 1105.7,733.4 1104.6,735.2 1104.7,731.7 1104.9,732.9 1104.3,733.2 1105.4,731.2 1106.1,733.0 1106.5,730.6 1104.3,726.5 1104.4,727.3 1105.2,723.3 1104.7,723.6 1104.9,723.5 1104.5,722.9 1104.3,723.2 1103.7,723.6 1104.4,718.2 1104.6,713.5 1105.9,721.0 1106.5,718.2 1104.6,720.4 1105.2,714.9 1106.0,712.2 1106.2,713.4 1105.3,712.6 1105.5,713.4 1104.9,710.6 1105.3,708.8 1105.5,706.3 1105.4,703.3 1104.7,705.2 1106.3,706.9 1105.8,703.1 1105.3,708.0 1105.9,703.3 1106.3,699.5 1105.3,698.1 1105.8,695.4 1105.8,698.9 1106.7,693.7 1105.4,696.1 1105.2,693.4 1104.7,693.6 1106.1,693.6 1104.2,689.2 1107.5,688.0 1106.7,688.7 1105.9,687.2 1106.0,690.3 1106.7,691.6 1106.6,690.2 1105.6,692.3 1106.5,695.4 1106.8,694.4 1106.7,693.7 1107.5,696.1 1106.5,699.3 1107.2,697.4 1107.3,699.1 1107.0,699.1 1106.5,700.7 1107.7,702.0 1108.2,702.9 1107.1,705.0 1107.7,705.5 1108.6,705.5 1107.6,705.8 1108.4,709.6 1108.7,711.4 1107.9,707.5 1109.0,713.2 1107.7,711.5 1108.3,712.4 1108.6,713.2 1108.0,716.8 1108.6,717.2 1108.8,719.4 1108.9,718.7 1109.1,718.4 1110.0,720.0 1111.6,719.9 1112.7,717.2 1113.8,716.9 1114.0,717.2 1114.4,714.5 1114.4,716.5 1114.9,714.4 1114.8,711.4 1115.0,713.3 1115.7,711.7 1115.5,706.8 1116.3,707.0 1115.7,711.1 1116.0,708.8 1116.9,704.9 1117.0,705.4 1116.9,702.8 1117.2,704.1 1117.4,700.8 1118.0,699.7 1118.5,700.4 1118.8,698.0 1119.2,698.1 1119.5,696.9 1119.1,696.2 1120.0,693.4 1119.8,696.3 1120.1,697.7 1121.0,698.4 1121.1,696.9 1121.3,698.3 1121.7,699.5 1121.7,702.0 1122.8,701.7 1122.4,702.5 1122.6,703.2 1123.2,705.2 1123.2,704.5 1124.2,707.5 1124.1,707.2 1124.5,708.5 1124.7,709.1 1125.2,707.0 1124.9,709.3 1125.0,708.9 1125.5,704.8 1124.9,704.8 1124.9,703.0 1125.8,704.3 1125.4,702.2 1126.3,700.0 1126.5,702.9 1125.8,698.5 1126.7,698.8 1126.5,698.1 1127.2,696.3 1126.4,696.9 1126.0,693.7 1126.7,694.2 1126.9,692.4 1126.7,691.3 1126.7,691.8 1127.3,689.3 1127.7,688.7 1127.3,685.6 1127.9,687.8 1127.1,683.9 1127.8,682.5 1129.0,683.0 1130.1,683.7 1131.2,683.5 1132.2,684.9 1133.3,683.6 1134.4,684.4 1135.5,685.2 1136.6,683.7 1137.2,683.2 1138.8,682.5 1139.7,683.3 1140.9,685.5 1141.5,685.4 1142.6,687.0 1143.9,685.2 1144.7,686.8 1145.6,687.0 1146.6,685.6 1147.2,685.9 1148.5,689.4 1149.4,690.8 1149.7,692.1 1151.2,688.8 1151.8,688.2 1152.1,687.5 1153.0,686.4 1153.4,687.3 1153.9,684.1 1154.4,682.5 1155.5,682.7 1156.7,683.1 1158.1,683.0 1159.1,683.5 1159.9,683.4 1161.3,682.3 1161.6,681.8 1162.0,685.0 1162.4,686.4 1163.2,686.2 1163.2,689.0 1164.2,689.5 1164.4,693.4 1164.4,695.0 1165.1,690.8 1165.8,690.1 1166.0,690.8 1166.2,689.2 1167.0,687.1 1167.4,686.1 1167.3,685.4 1167.4,685.3 1168.2,683.4 1168.5,683.5 1168.9,681.3 1170.2,684.5 1171.1,682.5 1171.9,681.2 1173.0,682.2 1174.2,682.2 1175.0,681.8 1176.1,681.6 1177.5,682.5 1178.3,681.3 1179.2,682.9 1180.8,683.6 1181.5,682.8 1182.7,681.9 1183.8,683.8 1184.6,683.1 1185.7,684.8 1186.7,683.4 1187.8,683.2 1188.9,683.2 1190.0,683.1 1190.9,682.2 1191.8,683.5 1193.1,683.2 1194.1,683.2 1195.3,681.3 1195.5,682.1 1196.2,682.9 1196.3,684.0 1196.6,687.4 1197.5,687.0 1197.8,687.9 1198.1,687.8 1198.6,689.7 1198.9,690.2 1199.6,691.2 1199.6,693.6 1200.4,694.9 1200.7,695.0 1201.0,694.5 1201.2,694.4 1201.7,694.0 1202.0,693.0 1202.4,692.1 1202.4,691.7 1202.9,689.2 1203.8,687.7 1203.9,689.0 1204.8,686.6 1204.8,685.1 1206.0,686.9 1206.9,686.1 1207.4,684.8 1208.5,682.6 1209.3,683.1 1210.4,681.3 1210.8,682.3 1211.8,686.0 1212.5,683.6 1213.4,683.1 1213.9,687.4 1214.8,687.6 1215.8,686.8 1216.1,687.0 1217.0,688.9 1217.7,685.5 1217.9,685.9 1218.7,684.3 1219.3,683.0 1220.3,685.2 1220.6,683.6 1221.7,681.3 1222.2,684.3 1222.5,685.4 1222.8,684.4 1222.3,687.8 1223.2,686.2 1222.9,686.1 1223.4,689.4 1223.1,691.9 1223.2,691.4 1223.3,692.1 1223.6,693.8 1224.7,693.9 1224.5,694.1 1224.6,695.8 1224.6,696.8 1225.0,699.1 1225.1,700.0 1225.2,698.7 1225.5,700.2 1225.8,701.2 1226.1,702.8 1227.3,704.9 1227.4,704.0 1227.7,703.6 1227.6,702.9 1227.5,701.5 1228.0,701.6 1227.9,701.0 1227.9,698.6 1229.0,697.2 1229.2,697.4 1229.2,697.2 1229.4,695.2 1229.7,695.1 1229.5,691.3 1229.3,692.7 1229.9,690.5 1230.4,689.7 1230.5,689.5 1231.8,687.7 1230.9,687.4 1231.2,685.1 1232.3,684.2 1233.0,684.8 1233.7,685.3 1234.8,683.6 1235.9,681.9 1236.8,681.3 1237.2,683.4 1238.5,684.7 1239.4,685.1 1239.7,684.6 1240.6,685.1 1241.1,689.1 1240.8,688.3 1241.6,688.8 1240.6,688.8 1240.6,689.3 1241.9,691.1 1241.9,690.4 1241.6,695.1 1241.7,693.0 1241.8,698.3 1241.8,695.3 1241.4,700.6 1242.1,701.3 1242.7,700.9 1242.1,699.8 1243.1,701.3 1242.0,705.1 1242.4,704.5 1242.5,705.6 1242.5,707.7 1242.7,707.2 1243.3,709.8 1242.2,709.4 1243.7,711.1 1243.3,709.6 1243.5,711.5 1243.8,709.3 1243.8,711.4 1244.3,708.2 1244.2,707.5 1244.8,706.3 1244.5,707.3 1244.6,705.5 1245.4,705.2 1245.2,704.6 1246.0,701.6 1244.7,700.0 1245.6,700.1 1246.1,702.7 1245.8,699.6 1246.3,696.4 1246.4,698.1 1247.1,694.9 1246.7,692.5 1247.5,692.5 1247.7,692.3 1247.7,694.0 1247.6,690.8 1248.8,687.9 1249.0,690.2 1248.5,690.6 1249.0,686.3 1249.4,684.6 1249.5,682.2 1250.0,683.9 1250.1,681.3 1251.2,682.3 1251.7,682.6 1252.8,684.5 1254.0,684.1 1254.8,685.6 1255.7,685.1 1256.7,686.0 1257.5,687.8 1258.7,688.5 1259.5,689.6 1260.2,688.9 1261.4,688.9 1261.9,688.9 1262.5,688.4 1262.7,687.2 1263.3,685.0 1263.9,685.2 1264.4,684.8 1264.8,684.0 1265.2,681.3 1265.8,682.8 1267.2,684.2 1268.0,683.9 1268.5,684.3 1270.0,685.7 1270.8,685.1 1271.3,685.5 1271.4,687.5 1271.5,688.4 1270.8,692.3 1272.1,694.0 1271.8,693.9 1271.3,693.7 1271.7,690.7 1271.0,694.0 1271.4,696.7 1272.2,696.5 1271.5,697.9 1271.3,698.0 1272.6,700.6 1272.7,703.5 1272.6,702.2 1273.3,704.7 1272.7,704.0 1273.5,704.1 1274.0,706.0 1273.2,708.4 1274.1,707.4 1274.9,709.3 1274.3,709.9 1274.9,713.7 1276.0,711.4 1276.1,711.1 1276.4,714.3 1276.4,715.4 1276.5,714.5 1277.2,717.6 1276.8,718.2 1278.1,718.6 1278.4,719.1 1278.6,722.3 1279.1,721.0 1278.4,724.2 1279.1,723.2 1279.4,727.5 1279.2,728.8 1279.4,725.8 1279.3,727.7 1279.8,727.2 1279.9,731.6 1280.3,730.7 1280.0,735.9 1279.8,732.5 1280.5,734.5 1280.0,734.4 1280.7,736.8 1281.0,738.2 1280.5,737.5 1282.1,738.5 1281.2,739.9 1282.2,743.0 1281.8,737.7 1281.3,736.4 1280.9,734.6 1281.6,736.7 1281.9,735.2 1281.4,735.2 1281.4,733.4 1282.1,733.4 1282.8,730.8 1282.0,728.0 1282.1,727.6 1282.6,726.0 1281.2,724.5 1281.7,725.0 1282.6,721.1 1282.6,723.8 1283.3,720.0 1282.0,722.8 1282.4,724.3 1282.9,720.2 1283.7,718.0 1283.2,717.4 1282.8,718.3 1282.7,715.4 1284.3,713.9 1282.9,712.8 1283.1,711.4 1284.0,708.5 1283.0,708.8 1283.3,711.6 1283.6,709.0 1284.1,707.1 1284.1,706.8 1283.6,706.2 1283.8,703.2 1284.3,705.5 1283.7,703.0 1284.0,700.2 1284.1,700.8 1284.0,699.3 1285.2,700.7 1284.0,697.4 1285.0,695.9 1285.1,696.3 1284.9,693.6 1284.8,696.1 1286.0,690.7 1285.4,691.2 1285.5,689.5 1286.1,688.1 1286.5,688.7 1286.0,688.3 1286.3,687.3 1286.8,683.7 1286.5,684.4 1287.3,682.0 1286.9,681.3 1287.1,683.2 1287.7,684.4 1287.4,687.2 1287.9,686.9 1288.1,687.5 1288.5,688.0 1288.6,688.5 1289.2,688.6 1289.4,690.9 1289.4,693.9 1289.7,692.7 1290.5,693.1 1291.2,692.1 1291.5,690.6 1292.3,690.1 1293.0,689.3 1293.4,690.3 1294.2,688.3 1294.8,686.2 1295.4,685.1 1296.8,687.3 1297.7,686.7 1298.9,685.0 1299.9,685.2 1301.0,685.1 1301.1,686.4 1301.6,687.8 1302.5,690.6 1302.6,689.6 1303.0,690.6 1303.3,690.7 1304.1,692.4 1304.3,693.3 1304.5,694.1 1304.7,694.3 1305.4,696.6 1305.8,696.4 1305.6,697.2 1306.3,695.6 1306.4,694.5 1306.1,693.6 1307.0,693.6 1306.7,692.0 1306.7,691.5 1307.1,689.1 1307.3,687.7 1307.5,688.5 1308.2,686.9 1308.6,684.4 1308.2,683.0 1308.8,685.3 1308.6,681.3 1309.4,683.1 1310.7,683.4 1311.4,683.7 1312.2,683.9 1313.4,686.5 1314.4,684.8 1315.0,685.3 1316.1,685.1 1316.7,687.2 1317.2,686.9 1317.5,688.4 1318.0,690.7 1318.7,691.6 1319.2,693.2 1319.8,693.1 1320.0,694.0 1320.3,693.6 1320.7,695.0 1321.3,697.2 1321.8,696.4 1322.8,696.8 1323.8,696.9 1324.9,697.5 1325.6,693.9 1326.7,695.3 1327.5,692.7 1328.3,693.1 1328.4,691.8 1329.5,690.9 1329.8,690.6 1330.0,689.6 1330.7,689.0 1331.4,687.1 1332.1,685.7 1332.6,687.7 1333.3,685.6 1334.2,682.8 1334.3,682.8 1335.0,681.3 1335.9,682.0 1337.1,681.2 1338.3,682.4 1339.3,683.4 1340.4,681.8 1341.1,683.2 1342.3,683.1 1343.1,683.2 1344.7,684.0 1345.2,684.2 1346.4,683.2 1347.0,685.2 1347.5,686.1 1347.3,686.8 1347.8,686.9 1347.9,691.3 1348.4,690.4 1348.9,690.2 1349.0,692.5 1349.3,691.5 1349.9,695.4 1349.6,693.1 1349.9,696.1 1350.5,696.6 1351.1,696.4 1351.4,696.1 1351.9,695.0 1351.9,695.6 1352.4,694.0 1352.8,692.1 1353.6,690.5 1353.6,691.6 1353.9,688.9 1355.0,691.3 1355.2,689.5 1355.7,688.1 1356.1,686.7 1356.9,684.8 1357.3,684.4 1358.5,684.1 1359.3,682.5 1359.6,681.3 1360.2,682.6 1361.5,682.6 1362.5,683.8 1363.3,683.6 1363.9,682.8 1365.6,684.4 1366.1,683.8 1367.1,685.1 1367.9,686.5 1369.0,685.1 1368.9,686.4 1369.3,686.3 1369.8,688.5 1369.5,691.3 1369.9,690.9 1369.9,692.7 1370.3,694.3 1371.0,692.8 1371.3,695.3 1371.0,696.4 1371.5,698.0 1371.8,697.6 1372.1,701.1 1372.1,700.8 1372.2,701.8 1372.4,702.3 1372.8,702.1 1373.4,704.4 1374.1,703.8 1375.3,705.6 1375.5,706.5 1376.6,705.9 1376.8,708.2 1377.2,704.9 1377.9,703.1 1378.4,702.7 1378.2,701.6 1378.8,701.3 1379.2,700.2 1379.4,698.7 1380.3,698.9 1380.3,696.4 1380.5,699.1 1380.8,701.2 1380.8,699.8 1382.0,702.2 1381.6,701.3 1382.2,703.4 1382.9,704.6 1383.3,705.9 1383.7,707.1 1383.6,707.0 1384.1,707.8 1384.9,708.9 1385.5,709.8 1386.8,711.0 1387.5,711.1 1387.8,712.6 1388.8,711.5 1389.1,714.0 1389.1,715.6 1389.5,715.8 1389.7,716.4 1390.0,717.0 1390.6,718.4 1390.3,719.1 1390.4,720.8 1391.9,720.9 1391.1,722.3 1391.7,722.9 1392.1,724.9 1392.8,726.2 1393.3,725.9 1394.0,726.2 1393.9,728.4 1394.6,728.8 1395.6,729.6 1395.8,730.5 1396.0,731.9 1397.0,733.2 1397.3,732.3 1397.9,733.8 1398.3,732.6 1399.0,729.4 1399.6,729.6 1400.3,728.4 1401.1,726.6 1401.6,726.7 1402.1,724.8 1402.9,725.8 1403.7,723.4 1404.7,725.2 1405.0,724.3 1405.8,724.9 1406.8,721.0 1406.5,723.3 1407.0,723.9 1408.4,724.5 1408.7,724.1 1409.1,726.6 1409.1,727.1 1409.6,728.7 1409.9,729.3 1410.5,730.9 1410.4,730.8 1411.0,733.4 1411.5,732.3 1411.9,731.9 1412.2,732.3 1412.4,730.7 1412.6,729.6 1413.4,729.2 1413.2,727.4 1413.4,725.5 1413.8,723.8 1414.6,724.3 1414.8,723.6 1414.8,722.2 1415.2,720.9 1415.9,719.5 1416.0,717.7 1416.2,717.2 1416.9,718.4 1417.1,716.7 1417.1,713.5 1418.3,714.8 1418.0,714.3 1418.4,712.5 1418.6,710.7 1419.0,709.6 1419.3,711.5 1419.5,710.8 1419.7,715.7 1420.6,715.6 1420.7,716.0 1421.0,715.6 1422.0,718.9 1421.9,718.4 1421.9,719.6 1422.3,720.6 1422.8,721.0 1423.3,720.2 1423.7,718.6 1423.7,718.1 1423.3,717.4 1423.9,717.0 1424.3,715.2 1424.4,714.1 1424.9,712.9 1424.5,712.4 1424.7,711.8 1425.5,710.9 1425.2,709.6 1425.7,707.8 1426.0,707.2 1427.1,703.7 1425.4,703.5 1426.2,701.8 1426.7,703.2 1425.8,703.9 1426.5,704.2 1425.9,701.3 1426.6,697.1 1426.5,697.9 1427.0,700.6 1427.3,694.6 1427.0,697.3 1427.1,689.5 1427.0,696.3 1426.4,692.8 1427.1,692.0 1427.3,692.4 1426.5,687.7 1428.1,687.6 1427.6,684.8 1428.1,685.0 1427.0,684.5 1427.4,686.3 1428.2,683.4 1427.5,681.3 1428.1,682.0 1427.9,683.8 1428.2,685.5 1428.2,689.1 1429.2,687.3 1429.5,687.8 1429.1,689.7 1429.6,693.8 1429.9,690.6 1430.5,693.7 1430.4,693.9 1430.8,694.2 1431.3,694.5 1430.8,695.5 1432.2,694.4 1432.4,693.5 1432.1,692.3 1433.1,690.8 1432.2,688.4 1433.1,687.5 1434.3,686.9 1434.1,685.8 1434.1,684.1 1434.6,684.0 1434.0,685.6 1435.1,681.3 1435.6,682.5 1435.9,685.3 1436.3,685.3 1436.3,689.3 1436.3,689.4 1436.5,687.5 1437.0,691.0 1437.4,692.6 1437.8,689.4 1438.0,691.7 1437.8,692.8 1438.5,695.2 1438.9,694.5" fill="none" stroke="#6A30C8" stroke-width="4.0" stroke-linejoin="round" stroke-linecap="round" clip-path="url(#cd)"/>
<text x="189.0" y="1013.0" font-size="23.5" fill="#666666" text-anchor="middle" textLength="51.0" lengthAdjust="spacingAndGlyphs">2008</text>
<text x="334.8" y="1013.0" font-size="23.5" fill="#666666" text-anchor="middle" textLength="51.0" lengthAdjust="spacingAndGlyphs">2010</text>
<text x="480.6" y="1013.0" font-size="23.5" fill="#666666" text-anchor="middle" textLength="51.0" lengthAdjust="spacingAndGlyphs">2012</text>
<text x="626.3" y="1013.0" font-size="23.5" fill="#666666" text-anchor="middle" textLength="51.0" lengthAdjust="spacingAndGlyphs">2014</text>
<text x="772.1" y="1013.0" font-size="23.5" fill="#666666" text-anchor="middle" textLength="51.0" lengthAdjust="spacingAndGlyphs">2016</text>
<text x="917.9" y="1013.0" font-size="23.5" fill="#666666" text-anchor="middle" textLength="51.0" lengthAdjust="spacingAndGlyphs">2018</text>
<text x="1063.7" y="1013.0" font-size="23.5" fill="#666666" text-anchor="middle" textLength="51.0" lengthAdjust="spacingAndGlyphs">2020</text>
<text x="1209.5" y="1013.0" font-size="23.5" fill="#666666" text-anchor="middle" textLength="51.0" lengthAdjust="spacingAndGlyphs">2022</text>
<text x="1355.2" y="1013.0" font-size="23.5" fill="#666666" text-anchor="middle" textLength="51.0" lengthAdjust="spacingAndGlyphs">2024</text>
<text x="31.8" y="827.4" font-size="22.3" fill="#000" text-anchor="middle" textLength="111.0" lengthAdjust="spacingAndGlyphs" transform="rotate(-90 31.8 827.4)">Drawdown</text>
<line x1="43.5" y1="1098.5" x2="1445.0" y2="1098.5" stroke="#e5e5e5" stroke-width="1"/>
<text x="1454.1" y="1104.1" font-size="12.5" fill="#666666" text-anchor="start" textLength="26.7" lengthAdjust="spacingAndGlyphs">40%</text>
<line x1="43.5" y1="1134.5" x2="1445.0" y2="1134.5" stroke="#e5e5e5" stroke-width="1"/>
<text x="1454.1" y="1140.1" font-size="12.5" fill="#666666" text-anchor="start" textLength="26.7" lengthAdjust="spacingAndGlyphs">30%</text>
<line x1="43.5" y1="1171.5" x2="1445.0" y2="1171.5" stroke="#e5e5e5" stroke-width="1"/>
<text x="1454.1" y="1177.1" font-size="12.5" fill="#666666" text-anchor="start" textLength="26.7" lengthAdjust="spacingAndGlyphs">20%</text>
<line x1="43.5" y1="1208.5" x2="1445.0" y2="1208.5" stroke="#e5e5e5" stroke-width="1"/>
<text x="1454.1" y="1214.1" font-size="12.5" fill="#666666" text-anchor="start" textLength="26.7" lengthAdjust="spacingAndGlyphs">10%</text>
<line x1="43.5" y1="1244.5" x2="1445.0" y2="1244.5" stroke="#e5e5e5" stroke-width="1"/>
<text x="1454.1" y="1250.1" font-size="12.5" fill="#666666" text-anchor="start" textLength="19.0" lengthAdjust="spacingAndGlyphs">0%</text>
<line x1="43.5" y1="1281.5" x2="1445.0" y2="1281.5" stroke="#e5e5e5" stroke-width="1"/>
<text x="1453.6" y="1287.1" font-size="12.5" fill="#666666" text-anchor="start" textLength="31.4" lengthAdjust="spacingAndGlyphs">-10%</text>
<line x1="43.5" y1="1318.5" x2="1445.0" y2="1318.5" stroke="#e5e5e5" stroke-width="1"/>
<text x="1453.6" y="1324.1" font-size="12.5" fill="#666666" text-anchor="start" textLength="31.4" lengthAdjust="spacingAndGlyphs">-20%</text>
<line x1="43.5" y1="1354.5" x2="1445.0" y2="1354.5" stroke="#e5e5e5" stroke-width="1"/>
<text x="1453.6" y="1360.1" font-size="12.5" fill="#666666" text-anchor="start" textLength="31.4" lengthAdjust="spacingAndGlyphs">-30%</text>
<line x1="43.5" y1="1391.5" x2="1445.0" y2="1391.5" stroke="#e5e5e5" stroke-width="1"/>
<text x="1453.6" y="1397.1" font-size="12.5" fill="#666666" text-anchor="start" textLength="31.4" lengthAdjust="spacingAndGlyphs">-40%</text>
<line x1="113.5" y1="1078.5" x2="113.5" y2="1400.5" stroke="#e5e5e5" stroke-width="1"/>
<line x1="183.5" y1="1078.5" x2="183.5" y2="1400.5" stroke="#e5e5e5" stroke-width="1"/>
<line x1="253.5" y1="1078.5" x2="253.5" y2="1400.5" stroke="#e5e5e5" stroke-width="1"/>
<line x1="322.5" y1="1078.5" x2="322.5" y2="1400.5" stroke="#e5e5e5" stroke-width="1"/>
<line x1="392.5" y1="1078.5" x2="392.5" y2="1400.5" stroke="#e5e5e5" stroke-width="1"/>
<line x1="462.5" y1="1078.5" x2="462.5" y2="1400.5" stroke="#e5e5e5" stroke-width="1"/>
<line x1="532.5" y1="1078.5" x2="532.5" y2="1400.5" stroke="#e5e5e5" stroke-width="1"/>
<line x1="601.5" y1="1078.5" x2="601.5" y2="1400.5" stroke="#e5e5e5" stroke-width="1"/>
<line x1="671.5" y1="1078.5" x2="671.5" y2="1400.5" stroke="#e5e5e5" stroke-width="1"/>
<line x1="741.5" y1="1078.5" x2="741.5" y2="1400.5" stroke="#e5e5e5" stroke-width="1"/>
<line x1="811.5" y1="1078.5" x2="811.5" y2="1400.5" stroke="#e5e5e5" stroke-width="1"/>
<line x1="880.5" y1="1078.5" x2="880.5" y2="1400.5" stroke="#e5e5e5" stroke-width="1"/>
<line x1="950.5" y1="1078.5" x2="950.5" y2="1400.5" stroke="#e5e5e5" stroke-width="1"/>
<line x1="1020.5" y1="1078.5" x2="1020.5" y2="1400.5" stroke="#e5e5e5" stroke-width="1"/>
<line x1="1090.5" y1="1078.5" x2="1090.5" y2="1400.5" stroke="#e5e5e5" stroke-width="1"/>
<line x1="1159.5" y1="1078.5" x2="1159.5" y2="1400.5" stroke="#e5e5e5" stroke-width="1"/>
<line x1="1229.5" y1="1078.5" x2="1229.5" y2="1400.5" stroke="#e5e5e5" stroke-width="1"/>
<line x1="1299.5" y1="1078.5" x2="1299.5" y2="1400.5" stroke="#e5e5e5" stroke-width="1"/>
<line x1="1369.5" y1="1078.5" x2="1369.5" y2="1400.5" stroke="#e5e5e5" stroke-width="1"/>
<rect x="43.5" y="1078.5" width="1395.0" height="322.0" fill="none" stroke="#e5e5e5" stroke-width="1"/>
<rect x="56.50" y="1166.03" width="23.80" height="78.82" fill="#6A30C8"/>
<rect x="80.30" y="1200.86" width="23.80" height="43.99" fill="#FCA86E"/>
<line x1="80.5" y1="1400.5" x2="80.5" y2="1407.5" stroke="#e5e5e5" stroke-width="1"/>
<text x="85.1" y="1420.0" font-size="18.5" fill="#666666" text-anchor="end" textLength="40.0" lengthAdjust="spacingAndGlyphs" transform="rotate(-90 85.1 1420.0)">2006</text>
<rect x="126.25" y="1190.23" width="23.80" height="54.62" fill="#6A30C8"/>
<rect x="150.05" y="1232.02" width="23.80" height="12.83" fill="#FCA86E"/>
<line x1="150.5" y1="1400.5" x2="150.5" y2="1407.5" stroke="#e5e5e5" stroke-width="1"/>
<text x="154.9" y="1420.0" font-size="18.5" fill="#666666" text-anchor="end" textLength="40.0" lengthAdjust="spacingAndGlyphs" transform="rotate(-90 154.9 1420.0)">2007</text>
<rect x="196.00" y="1128.64" width="23.80" height="116.21" fill="#6A30C8"/>
<rect x="219.80" y="1244.85" width="23.80" height="140.41" fill="#FCA86E"/>
<line x1="219.5" y1="1400.5" x2="219.5" y2="1407.5" stroke="#e5e5e5" stroke-width="1"/>
<text x="224.6" y="1420.0" font-size="18.5" fill="#666666" text-anchor="end" textLength="40.0" lengthAdjust="spacingAndGlyphs" transform="rotate(-90 224.6 1420.0)">2008</text>
<rect x="265.75" y="1140.00" width="23.80" height="104.85" fill="#6A30C8"/>
<rect x="289.55" y="1158.70" width="23.80" height="86.15" fill="#FCA86E"/>
<line x1="289.5" y1="1400.5" x2="289.5" y2="1407.5" stroke="#e5e5e5" stroke-width="1"/>
<text x="294.4" y="1420.0" font-size="18.5" fill="#666666" text-anchor="end" textLength="40.0" lengthAdjust="spacingAndGlyphs" transform="rotate(-90 294.4 1420.0)">2009</text>
<rect x="335.50" y="1148.07" width="23.80" height="96.78" fill="#6A30C8"/>
<rect x="359.30" y="1197.93" width="23.80" height="46.92" fill="#FCA86E"/>
<line x1="359.5" y1="1400.5" x2="359.5" y2="1407.5" stroke="#e5e5e5" stroke-width="1"/>
<text x="364.1" y="1420.0" font-size="18.5" fill="#666666" text-anchor="end" textLength="40.0" lengthAdjust="spacingAndGlyphs" transform="rotate(-90 364.1 1420.0)">2010</text>
<rect x="405.25" y="1194.63" width="23.80" height="50.22" fill="#6A30C8"/>
<rect x="429.05" y="1244.85" width="23.80" height="0.00" fill="#FCA86E"/>
<line x1="429.5" y1="1400.5" x2="429.5" y2="1407.5" stroke="#e5e5e5" stroke-width="1"/>
<text x="433.9" y="1420.0" font-size="18.5" fill="#666666" text-anchor="end" textLength="40.0" lengthAdjust="spacingAndGlyphs" transform="rotate(-90 433.9 1420.0)">2011</text>
<rect x="475.00" y="1174.10" width="23.80" height="70.75" fill="#6A30C8"/>
<rect x="498.80" y="1194.63" width="23.80" height="50.22" fill="#FCA86E"/>
<line x1="498.5" y1="1400.5" x2="498.5" y2="1407.5" stroke="#e5e5e5" stroke-width="1"/>
<text x="503.6" y="1420.0" font-size="18.5" fill="#666666" text-anchor="end" textLength="40.0" lengthAdjust="spacingAndGlyphs" transform="rotate(-90 503.6 1420.0)">2012</text>
<rect x="544.75" y="1119.47" width="23.80" height="125.38" fill="#6A30C8"/>
<rect x="568.55" y="1135.60" width="23.80" height="109.25" fill="#FCA86E"/>
<line x1="568.5" y1="1400.5" x2="568.5" y2="1407.5" stroke="#e5e5e5" stroke-width="1"/>
<text x="573.3" y="1420.0" font-size="18.5" fill="#666666" text-anchor="end" textLength="40.0" lengthAdjust="spacingAndGlyphs" transform="rotate(-90 573.3 1420.0)">2013</text>
<rect x="614.50" y="1244.85" width="23.80" height="26.03" fill="#6A30C8"/>
<rect x="638.30" y="1202.69" width="23.80" height="42.16" fill="#FCA86E"/>
<line x1="638.5" y1="1400.5" x2="638.5" y2="1407.5" stroke="#e5e5e5" stroke-width="1"/>
<text x="643.1" y="1420.0" font-size="18.5" fill="#666666" text-anchor="end" textLength="40.0" lengthAdjust="spacingAndGlyphs" transform="rotate(-90 643.1 1420.0)">2014</text>
<rect x="684.25" y="1155.77" width="23.80" height="89.08" fill="#6A30C8"/>
<rect x="708.05" y="1244.85" width="23.80" height="1.83" fill="#FCA86E"/>
<line x1="708.5" y1="1400.5" x2="708.5" y2="1407.5" stroke="#e5e5e5" stroke-width="1"/>
<text x="712.8" y="1420.0" font-size="18.5" fill="#666666" text-anchor="end" textLength="40.0" lengthAdjust="spacingAndGlyphs" transform="rotate(-90 712.8 1420.0)">2015</text>
<rect x="754.00" y="1175.56" width="23.80" height="69.29" fill="#6A30C8"/>
<rect x="777.80" y="1210.02" width="23.80" height="34.83" fill="#FCA86E"/>
<line x1="777.5" y1="1400.5" x2="777.5" y2="1407.5" stroke="#e5e5e5" stroke-width="1"/>
<text x="782.6" y="1420.0" font-size="18.5" fill="#666666" text-anchor="end" textLength="40.0" lengthAdjust="spacingAndGlyphs" transform="rotate(-90 782.6 1420.0)">2016</text>
<rect x="823.75" y="1200.12" width="23.80" height="44.73" fill="#6A30C8"/>
<rect x="847.55" y="1173.00" width="23.80" height="71.85" fill="#FCA86E"/>
<line x1="847.5" y1="1400.5" x2="847.5" y2="1407.5" stroke="#e5e5e5" stroke-width="1"/>
<text x="852.3" y="1420.0" font-size="18.5" fill="#666666" text-anchor="end" textLength="40.0" lengthAdjust="spacingAndGlyphs" transform="rotate(-90 852.3 1420.0)">2017</text>
<rect x="893.50" y="1241.00" width="23.80" height="3.85" fill="#6A30C8"/>
<rect x="917.30" y="1244.85" width="23.80" height="22.00" fill="#FCA86E"/>
<line x1="917.5" y1="1400.5" x2="917.5" y2="1407.5" stroke="#e5e5e5" stroke-width="1"/>
<text x="922.1" y="1420.0" font-size="18.5" fill="#666666" text-anchor="end" textLength="40.0" lengthAdjust="spacingAndGlyphs" transform="rotate(-90 922.1 1420.0)">2018</text>
<rect x="963.25" y="1235.14" width="23.80" height="9.71" fill="#6A30C8"/>
<rect x="987.05" y="1138.90" width="23.80" height="105.95" fill="#FCA86E"/>
<line x1="987.5" y1="1400.5" x2="987.5" y2="1407.5" stroke="#e5e5e5" stroke-width="1"/>
<text x="991.8" y="1420.0" font-size="18.5" fill="#666666" text-anchor="end" textLength="40.0" lengthAdjust="spacingAndGlyphs" transform="rotate(-90 991.8 1420.0)">2019</text>
<rect x="1033.00" y="1192.06" width="23.80" height="52.79" fill="#6A30C8"/>
<rect x="1056.80" y="1184.73" width="23.80" height="60.12" fill="#FCA86E"/>
<line x1="1056.5" y1="1400.5" x2="1056.5" y2="1407.5" stroke="#e5e5e5" stroke-width="1"/>
<text x="1061.6" y="1420.0" font-size="18.5" fill="#666666" text-anchor="end" textLength="40.0" lengthAdjust="spacingAndGlyphs" transform="rotate(-90 1061.6 1420.0)">2020</text>
<rect x="1102.75" y="1091.61" width="23.80" height="153.24" fill="#6A30C8"/>
<rect x="1126.55" y="1145.50" width="23.80" height="99.35" fill="#FCA86E"/>
<line x1="1126.5" y1="1400.5" x2="1126.5" y2="1407.5" stroke="#e5e5e5" stroke-width="1"/>
<text x="1131.3" y="1420.0" font-size="18.5" fill="#666666" text-anchor="end" textLength="40.0" lengthAdjust="spacingAndGlyphs" transform="rotate(-90 1131.3 1420.0)">2021</text>
<rect x="1172.50" y="1177.03" width="23.80" height="67.82" fill="#6A30C8"/>
<rect x="1196.30" y="1244.85" width="23.80" height="71.12" fill="#FCA86E"/>
<line x1="1196.5" y1="1400.5" x2="1196.5" y2="1407.5" stroke="#e5e5e5" stroke-width="1"/>
<text x="1201.1" y="1420.0" font-size="18.5" fill="#666666" text-anchor="end" textLength="40.0" lengthAdjust="spacingAndGlyphs" transform="rotate(-90 1201.1 1420.0)">2022</text>
<rect x="1242.25" y="1181.06" width="23.80" height="63.79" fill="#6A30C8"/>
<rect x="1266.05" y="1155.77" width="23.80" height="89.08" fill="#FCA86E"/>
<line x1="1266.5" y1="1400.5" x2="1266.5" y2="1407.5" stroke="#e5e5e5" stroke-width="1"/>
<text x="1270.8" y="1420.0" font-size="18.5" fill="#666666" text-anchor="end" textLength="40.0" lengthAdjust="spacingAndGlyphs" transform="rotate(-90 1270.8 1420.0)">2023</text>
<rect x="1312.00" y="1193.16" width="23.80" height="51.69" fill="#6A30C8"/>
<rect x="1335.80" y="1158.70" width="23.80" height="86.15" fill="#FCA86E"/>
<line x1="1335.5" y1="1400.5" x2="1335.5" y2="1407.5" stroke="#e5e5e5" stroke-width="1"/>
<text x="1340.6" y="1420.0" font-size="18.5" fill="#666666" text-anchor="end" textLength="40.0" lengthAdjust="spacingAndGlyphs" transform="rotate(-90 1340.6 1420.0)">2024</text>
<rect x="1381.75" y="1214.06" width="23.80" height="30.79" fill="#6A30C8"/>
<rect x="1405.55" y="1237.88" width="23.80" height="6.97" fill="#FCA86E"/>
<line x1="1405.5" y1="1400.5" x2="1405.5" y2="1407.5" stroke="#e5e5e5" stroke-width="1"/>
<text x="1410.3" y="1420.0" font-size="18.5" fill="#666666" text-anchor="end" textLength="40.0" lengthAdjust="spacingAndGlyphs" transform="rotate(-90 1410.3 1420.0)">2025</text>
<text x="29.8" y="1240.6" font-size="22.3" fill="#000" text-anchor="middle" textLength="191.0" lengthAdjust="spacingAndGlyphs" transform="rotate(-90 29.8 1240.6)">Annual Return (%)</text>
</svg></body></html>
